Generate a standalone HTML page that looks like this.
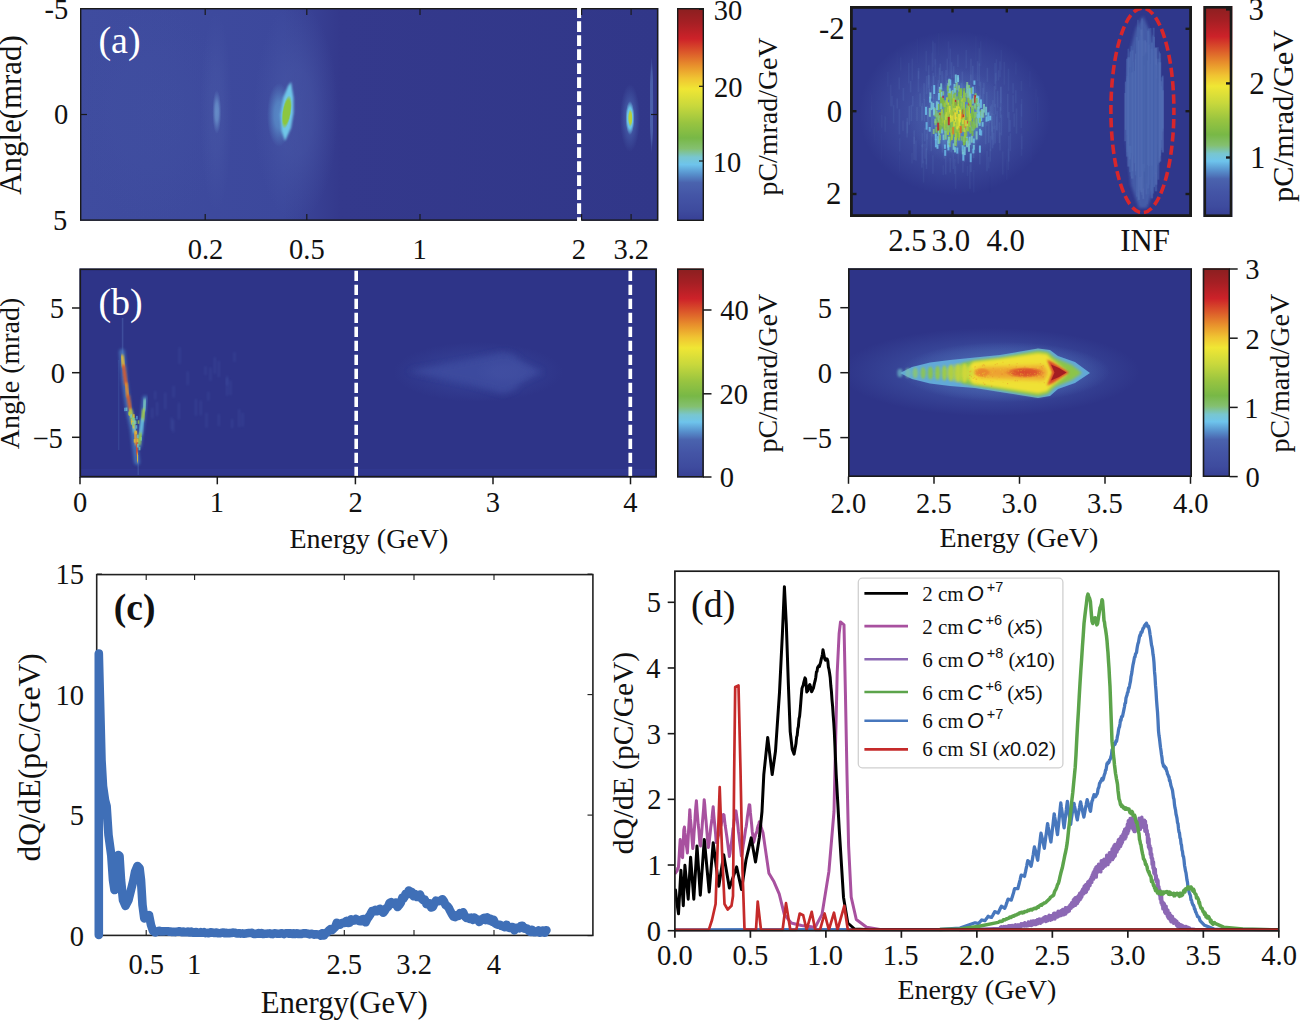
<!DOCTYPE html><html><head><meta charset="utf-8"><style>html,body{margin:0;padding:0;background:#fff;}svg{display:block;}</style></head><body>
<svg width="1300" height="1021" viewBox="0 0 1300 1021" style="font-family:'Liberation Serif',serif">
<defs>
<linearGradient id="jet" x1="0" y1="1" x2="0" y2="0"><stop offset="0.0" stop-color="#373f94"/><stop offset="0.05" stop-color="#3e4b9e"/><stop offset="0.12" stop-color="#4455a6"/><stop offset="0.18" stop-color="#4a63ae"/><stop offset="0.22" stop-color="#5790cc"/><stop offset="0.265" stop-color="#6ec4ec"/><stop offset="0.3" stop-color="#78c6d0"/><stop offset="0.34" stop-color="#84c070"/><stop offset="0.39" stop-color="#78b846"/><stop offset="0.46" stop-color="#98c440"/><stop offset="0.54" stop-color="#c8d83c"/><stop offset="0.62" stop-color="#f0e634"/><stop offset="0.67" stop-color="#f0c432"/><stop offset="0.73" stop-color="#e8902c"/><stop offset="0.79" stop-color="#dc5a2a"/><stop offset="0.855" stop-color="#cd2229"/><stop offset="0.93" stop-color="#a61f24"/><stop offset="1.0" stop-color="#8a1f20"/></linearGradient>
<filter id="b0_8" x="-50%" y="-50%" width="200%" height="200%"><feGaussianBlur stdDeviation="0.8"/></filter>
<filter id="b1" x="-50%" y="-50%" width="200%" height="200%"><feGaussianBlur stdDeviation="1"/></filter>
<filter id="b1_5" x="-50%" y="-50%" width="200%" height="200%"><feGaussianBlur stdDeviation="1.5"/></filter>
<filter id="b2" x="-50%" y="-50%" width="200%" height="200%"><feGaussianBlur stdDeviation="2"/></filter>
<filter id="b3" x="-50%" y="-50%" width="200%" height="200%"><feGaussianBlur stdDeviation="3"/></filter>
<filter id="b4" x="-50%" y="-50%" width="200%" height="200%"><feGaussianBlur stdDeviation="4"/></filter>
<filter id="b6" x="-50%" y="-50%" width="200%" height="200%"><feGaussianBlur stdDeviation="6"/></filter>
<filter id="b8" x="-50%" y="-50%" width="200%" height="200%"><feGaussianBlur stdDeviation="8"/></filter>
<linearGradient id="bgA" x1="0" y1="0" x2="1" y2="0"><stop offset="0" stop-color="#3f4c9f"/><stop offset="0.35" stop-color="#3c489c"/><stop offset="0.45" stop-color="#34398c"/><stop offset="1" stop-color="#313789"/></linearGradient>
<clipPath id="clipA"><rect x="80" y="8" width="578.3" height="212.8"/></clipPath>
<clipPath id="clipAR"><rect x="850" y="6" width="342" height="211"/></clipPath>
<clipPath id="clipB"><rect x="79.5" y="268.5" width="577.4" height="209"/></clipPath>
<clipPath id="clipBR"><rect x="848" y="268.3" width="344" height="208.7"/></clipPath>
<clipPath id="clipD"><rect x="674.5" y="570.5" width="604.5" height="361"/></clipPath>
</defs>
<rect width="1300" height="1021" fill="#fff"/>
<rect x="80" y="8" width="578.3" height="212.8" fill="url(#bgA)"/>
<g clip-path="url(#clipA)">
<radialGradient id="g1"><stop offset="0" stop-color="#4a5aa8" stop-opacity="0.550"/><stop offset="0.4" stop-color="#4a5aa8" stop-opacity="0.468"/><stop offset="0.7" stop-color="#4a5aa8" stop-opacity="0.220"/><stop offset="1" stop-color="#4a5aa8" stop-opacity="0.000"/></radialGradient><ellipse cx="296.0" cy="112.0" rx="42.0" ry="110.0" fill="url(#g1)"/>
<radialGradient id="g2"><stop offset="0" stop-color="#4a5aa8" stop-opacity="0.450"/><stop offset="0.4" stop-color="#4a5aa8" stop-opacity="0.383"/><stop offset="0.7" stop-color="#4a5aa8" stop-opacity="0.180"/><stop offset="1" stop-color="#4a5aa8" stop-opacity="0.000"/></radialGradient><ellipse cx="216.0" cy="112.0" rx="16.0" ry="100.0" fill="url(#g2)"/>
<radialGradient id="g3"><stop offset="0" stop-color="#4252a2" stop-opacity="0.350"/><stop offset="0.4" stop-color="#4252a2" stop-opacity="0.297"/><stop offset="0.7" stop-color="#4252a2" stop-opacity="0.140"/><stop offset="1" stop-color="#4252a2" stop-opacity="0.000"/></radialGradient><ellipse cx="150.0" cy="112.0" rx="80.0" ry="110.0" fill="url(#g3)"/>
<radialGradient id="g4"><stop offset="0" stop-color="#6a93cc" stop-opacity="0.900"/><stop offset="0.4" stop-color="#6a93cc" stop-opacity="0.765"/><stop offset="0.7" stop-color="#6a93cc" stop-opacity="0.360"/><stop offset="1" stop-color="#6a93cc" stop-opacity="0.000"/></radialGradient><ellipse cx="216.8" cy="112.0" rx="4.5" ry="22.0" fill="url(#g4)"/>
<radialGradient id="g5"><stop offset="0" stop-color="#5e9bd2" stop-opacity="0.750"/><stop offset="0.4" stop-color="#5e9bd2" stop-opacity="0.637"/><stop offset="0.7" stop-color="#5e9bd2" stop-opacity="0.300"/><stop offset="1" stop-color="#5e9bd2" stop-opacity="0.000"/></radialGradient><ellipse cx="279.0" cy="115.0" rx="12.0" ry="32.0" fill="url(#g5)"/>
<polygon points="291.0,82.0 293.5,98.0 293.5,113.0 291.0,128.0 285.0,141.0 281.5,131.0 280.5,115.0 283.0,98.0 288.0,86.0" fill="#70c6e8" filter="url(#b1)"/>
<radialGradient id="g6"><stop offset="0" stop-color="#8cc640" stop-opacity="1.000"/><stop offset="0.7" stop-color="#8cc640" stop-opacity="1.000"/><stop offset="1" stop-color="#8cc640" stop-opacity="0.000"/></radialGradient><ellipse cx="286.7" cy="112.0" rx="4.6" ry="17.0" fill="url(#g6)" transform="rotate(9 286.7 112.0)"/>
<radialGradient id="g7"><stop offset="0" stop-color="#4a66b0" stop-opacity="0.800"/><stop offset="0.4" stop-color="#4a66b0" stop-opacity="0.680"/><stop offset="0.7" stop-color="#4a66b0" stop-opacity="0.320"/><stop offset="1" stop-color="#4a66b0" stop-opacity="0.000"/></radialGradient><ellipse cx="630.0" cy="118.0" rx="10.0" ry="34.0" fill="url(#g7)"/>
<radialGradient id="g8"><stop offset="0" stop-color="#6cc2e6" stop-opacity="1.000"/><stop offset="0.6" stop-color="#6cc2e6" stop-opacity="1.000"/><stop offset="1" stop-color="#6cc2e6" stop-opacity="0.000"/></radialGradient><ellipse cx="630.0" cy="118.0" rx="4.5" ry="17.0" fill="url(#g8)"/>
<radialGradient id="g9"><stop offset="0" stop-color="#b7d23c" stop-opacity="1.000"/><stop offset="0.6" stop-color="#b7d23c" stop-opacity="1.000"/><stop offset="1" stop-color="#b7d23c" stop-opacity="0.000"/></radialGradient><ellipse cx="630.3" cy="118.0" rx="2.4" ry="9.0" fill="url(#g9)"/>
<radialGradient id="g10"><stop offset="0" stop-color="#4e66b0" stop-opacity="0.900"/><stop offset="0.7" stop-color="#4e66b0" stop-opacity="0.810"/><stop offset="1" stop-color="#4e66b0" stop-opacity="0.000"/></radialGradient><ellipse cx="651.6" cy="105.0" rx="2.0" ry="48.0" fill="url(#g10)"/>
</g>
<rect x="80.70" y="8.70" width="576.90" height="211.40" fill="none" stroke="#1a1a1a" stroke-width="1.4"/>
<line x1="579.10" y1="7.20" x2="579.10" y2="221.20" stroke="#fff" stroke-width="4.1" stroke-dasharray="10.9 3.1"/>
<line x1="81.00" y1="114.50" x2="87.00" y2="114.50" stroke="#1a1a1a" stroke-width="1.2" />
<line x1="657.00" y1="114.50" x2="651.00" y2="114.50" stroke="#1a1a1a" stroke-width="1.2" />
<line x1="205.20" y1="9.00" x2="205.20" y2="15.00" stroke="#1a1a1a" stroke-width="1.2" />
<line x1="205.20" y1="220.00" x2="205.20" y2="214.00" stroke="#1a1a1a" stroke-width="1.2" />
<line x1="306.80" y1="9.00" x2="306.80" y2="15.00" stroke="#1a1a1a" stroke-width="1.2" />
<line x1="306.80" y1="220.00" x2="306.80" y2="214.00" stroke="#1a1a1a" stroke-width="1.2" />
<line x1="420.00" y1="9.00" x2="420.00" y2="15.00" stroke="#1a1a1a" stroke-width="1.2" />
<line x1="420.00" y1="220.00" x2="420.00" y2="214.00" stroke="#1a1a1a" stroke-width="1.2" />
<line x1="581.60" y1="9.00" x2="581.60" y2="15.00" stroke="#1a1a1a" stroke-width="1.2" />
<line x1="581.60" y1="220.00" x2="581.60" y2="214.00" stroke="#1a1a1a" stroke-width="1.2" />
<line x1="631.10" y1="9.00" x2="631.10" y2="15.00" stroke="#1a1a1a" stroke-width="1.2" />
<line x1="631.10" y1="220.00" x2="631.10" y2="214.00" stroke="#1a1a1a" stroke-width="1.2" />
<text x="44.57" y="18.60" font-size="28.5" text-anchor="start" fill="#111" >-5</text>
<text x="53.94" y="124.30" font-size="28.5" text-anchor="start" fill="#111" >0</text>
<text x="53.06" y="230.00" font-size="28.5" text-anchor="start" fill="#111" >5</text>
<text x="187.63" y="258.50" font-size="28.5" text-anchor="start" fill="#111" >0.2</text>
<text x="289.00" y="258.50" font-size="28.5" text-anchor="start" fill="#111" >0.5</text>
<text x="412.48" y="258.50" font-size="28.5" text-anchor="start" fill="#111" >1</text>
<text x="571.84" y="258.50" font-size="28.5" text-anchor="start" fill="#111" >2</text>
<text x="613.39" y="258.50" font-size="28.5" text-anchor="start" fill="#111" >3.2</text>
<text x="21.50" y="194.80" font-size="30.9" text-anchor="start" fill="#111" transform="rotate(-90 21.50 194.80)" >Angle(mrad)</text>
<text x="98.40" y="52.70" font-size="38" text-anchor="start" fill="#fff" >(a)</text>
<rect x="677" y="8" width="27" height="213" fill="url(#jet)"/>
<rect x="677.70" y="8.70" width="25.60" height="211.60" fill="none" stroke="#1a1a1a" stroke-width="1.4"/>
<line x1="703.00" y1="9.40" x2="699.00" y2="9.40" stroke="#1a1a1a" stroke-width="1.2" />
<line x1="703.00" y1="86.30" x2="699.00" y2="86.30" stroke="#1a1a1a" stroke-width="1.2" />
<line x1="703.00" y1="161.00" x2="699.00" y2="161.00" stroke="#1a1a1a" stroke-width="1.2" />
<text x="713.84" y="20.00" font-size="28.5" text-anchor="start" fill="#111" >30</text>
<text x="713.95" y="96.50" font-size="28.5" text-anchor="start" fill="#111" >20</text>
<text x="712.70" y="171.50" font-size="28.5" text-anchor="start" fill="#111" >10</text>
<text x="777.50" y="195.45" font-size="27.9" text-anchor="start" fill="#111" transform="rotate(-90 777.50 195.45)" >pC/mrad/GeV</text>
<rect x="850" y="6" width="342" height="211" fill="#2f378b"/>
<g clip-path="url(#clipAR)">
<radialGradient id="g11"><stop offset="0" stop-color="#4455a5" stop-opacity="0.950"/><stop offset="0.45" stop-color="#4455a5" stop-opacity="0.760"/><stop offset="0.75" stop-color="#4455a5" stop-opacity="0.380"/><stop offset="1" stop-color="#4455a5" stop-opacity="0.000"/></radialGradient><ellipse cx="955.0" cy="113.0" rx="96.0" ry="82.0" fill="url(#g11)"/>
<radialGradient id="g12"><stop offset="0" stop-color="#4b63ae" stop-opacity="0.900"/><stop offset="0.5" stop-color="#4b63ae" stop-opacity="0.630"/><stop offset="1" stop-color="#4b63ae" stop-opacity="0.000"/></radialGradient><ellipse cx="957.0" cy="116.0" rx="48.0" ry="48.0" fill="url(#g12)"/>
<rect x="986.2" y="151.1" width="1.6" height="20.2" fill="#5a78bb" opacity="0.19"/>
<rect x="927.3" y="108.2" width="1.6" height="22.7" fill="#5a78bb" opacity="0.32"/>
<rect x="972.0" y="65.8" width="1.6" height="18.1" fill="#5a78bb" opacity="0.25"/>
<rect x="955.3" y="107.8" width="1.6" height="15.9" fill="#5a78bb" opacity="0.35"/>
<rect x="942.0" y="98.2" width="1.6" height="22.7" fill="#5a78bb" opacity="0.34"/>
<rect x="958.2" y="130.3" width="1.6" height="10.7" fill="#5a78bb" opacity="0.31"/>
<rect x="1020.5" y="104.1" width="1.6" height="24.0" fill="#5a78bb" opacity="0.16"/>
<rect x="947.1" y="98.9" width="1.6" height="15.3" fill="#5a78bb" opacity="0.35"/>
<rect x="935.2" y="105.3" width="1.6" height="25.2" fill="#5a78bb" opacity="0.33"/>
<rect x="939.3" y="119.9" width="1.6" height="23.1" fill="#5a78bb" opacity="0.33"/>
<rect x="906.5" y="117.9" width="1.6" height="15.5" fill="#5a78bb" opacity="0.24"/>
<rect x="929.4" y="107.2" width="1.6" height="10.6" fill="#5a78bb" opacity="0.32"/>
<rect x="974.5" y="85.9" width="1.6" height="22.5" fill="#5a78bb" opacity="0.31"/>
<rect x="1007.7" y="68.7" width="1.6" height="22.2" fill="#5a78bb" opacity="0.15"/>
<rect x="898.4" y="77.5" width="1.6" height="12.0" fill="#5a78bb" opacity="0.17"/>
<rect x="880.9" y="114.7" width="1.6" height="13.2" fill="#5a78bb" opacity="0.11"/>
<rect x="1029.1" y="71.0" width="1.6" height="16.6" fill="#5a78bb" opacity="0.05"/>
<rect x="926.0" y="133.7" width="1.6" height="16.2" fill="#5a78bb" opacity="0.27"/>
<rect x="994.5" y="103.9" width="1.6" height="10.4" fill="#5a78bb" opacity="0.28"/>
<rect x="1008.0" y="135.8" width="1.6" height="25.9" fill="#5a78bb" opacity="0.17"/>
<rect x="908.5" y="106.0" width="1.6" height="18.8" fill="#5a78bb" opacity="0.26"/>
<rect x="954.7" y="80.2" width="1.6" height="19.7" fill="#5a78bb" opacity="0.31"/>
<rect x="902.6" y="88.0" width="1.6" height="12.9" fill="#5a78bb" opacity="0.21"/>
<rect x="972.8" y="133.4" width="1.6" height="24.8" fill="#5a78bb" opacity="0.29"/>
<rect x="924.2" y="143.8" width="1.6" height="14.9" fill="#5a78bb" opacity="0.22"/>
<rect x="966.7" y="112.8" width="1.6" height="23.0" fill="#5a78bb" opacity="0.34"/>
<rect x="961.6" y="71.6" width="1.6" height="20.9" fill="#5a78bb" opacity="0.28"/>
<rect x="916.6" y="38.1" width="1.6" height="25.3" fill="#5a78bb" opacity="0.03"/>
<rect x="1006.9" y="93.8" width="1.6" height="24.1" fill="#5a78bb" opacity="0.23"/>
<rect x="916.2" y="106.9" width="1.6" height="14.0" fill="#5a78bb" opacity="0.28"/>
<rect x="972.0" y="90.4" width="1.6" height="11.1" fill="#5a78bb" opacity="0.33"/>
<rect x="978.5" y="48.2" width="1.6" height="17.7" fill="#5a78bb" opacity="0.14"/>
<rect x="961.8" y="95.2" width="1.6" height="14.1" fill="#5a78bb" opacity="0.34"/>
<rect x="944.7" y="140.4" width="1.6" height="12.7" fill="#5a78bb" opacity="0.27"/>
<rect x="987.9" y="118.4" width="1.6" height="24.4" fill="#5a78bb" opacity="0.29"/>
<rect x="1020.8" y="99.0" width="1.6" height="17.7" fill="#5a78bb" opacity="0.16"/>
<rect x="891.2" y="95.9" width="1.6" height="10.5" fill="#5a78bb" opacity="0.17"/>
<rect x="973.0" y="169.9" width="1.6" height="22.7" fill="#5a78bb" opacity="0.09"/>
<rect x="994.9" y="72.8" width="1.6" height="16.8" fill="#5a78bb" opacity="0.22"/>
<rect x="887.1" y="71.8" width="1.6" height="14.9" fill="#5a78bb" opacity="0.09"/>
<rect x="923.6" y="99.0" width="1.6" height="22.3" fill="#5a78bb" opacity="0.31"/>
<rect x="1015.7" y="108.4" width="1.6" height="25.3" fill="#5a78bb" opacity="0.19"/>
<rect x="1008.1" y="111.9" width="1.6" height="20.3" fill="#5a78bb" opacity="0.23"/>
<rect x="986.6" y="67.8" width="1.6" height="14.1" fill="#5a78bb" opacity="0.23"/>
<rect x="972.8" y="94.5" width="1.6" height="11.5" fill="#5a78bb" opacity="0.33"/>
<rect x="962.5" y="109.4" width="1.6" height="17.1" fill="#5a78bb" opacity="0.35"/>
<rect x="1005.9" y="159.4" width="1.6" height="20.5" fill="#5a78bb" opacity="0.07"/>
<rect x="989.8" y="136.1" width="1.6" height="15.2" fill="#5a78bb" opacity="0.24"/>
<rect x="926.9" y="105.9" width="1.6" height="12.7" fill="#5a78bb" opacity="0.32"/>
<rect x="970.7" y="136.2" width="1.6" height="21.4" fill="#5a78bb" opacity="0.28"/>
<rect x="943.3" y="101.7" width="1.6" height="21.4" fill="#5a78bb" opacity="0.34"/>
<rect x="1003.5" y="62.0" width="1.6" height="22.7" fill="#5a78bb" opacity="0.14"/>
<rect x="999.6" y="106.9" width="1.6" height="11.0" fill="#5a78bb" opacity="0.26"/>
<rect x="957.2" y="83.4" width="1.6" height="21.4" fill="#5a78bb" opacity="0.32"/>
<rect x="953.9" y="159.1" width="1.6" height="15.0" fill="#5a78bb" opacity="0.18"/>
<rect x="993.3" y="114.0" width="1.6" height="15.0" fill="#5a78bb" opacity="0.28"/>
<rect x="982.2" y="87.9" width="1.6" height="18.0" fill="#5a78bb" opacity="0.30"/>
<rect x="999.2" y="132.5" width="1.6" height="18.1" fill="#5a78bb" opacity="0.22"/>
<rect x="932.1" y="155.4" width="1.6" height="18.4" fill="#5a78bb" opacity="0.18"/>
<rect x="941.5" y="100.3" width="1.6" height="23.0" fill="#5a78bb" opacity="0.34"/>
<rect x="992.1" y="100.2" width="1.6" height="15.1" fill="#5a78bb" opacity="0.29"/>
<rect x="974.1" y="104.3" width="1.6" height="11.2" fill="#5a78bb" opacity="0.33"/>
<rect x="1020.7" y="133.6" width="1.6" height="22.2" fill="#5a78bb" opacity="0.12"/>
<rect x="902.2" y="120.6" width="1.6" height="10.3" fill="#5a78bb" opacity="0.22"/>
<rect x="928.4" y="75.1" width="1.6" height="18.3" fill="#5a78bb" opacity="0.27"/>
<rect x="923.9" y="127.7" width="1.6" height="13.6" fill="#5a78bb" opacity="0.28"/>
<rect x="995.7" y="116.3" width="1.6" height="14.0" fill="#5a78bb" opacity="0.27"/>
<rect x="934.1" y="43.1" width="1.6" height="21.6" fill="#5a78bb" opacity="0.11"/>
<rect x="926.7" y="112.0" width="1.6" height="16.2" fill="#5a78bb" opacity="0.31"/>
<rect x="898.6" y="109.1" width="1.6" height="25.4" fill="#5a78bb" opacity="0.21"/>
<rect x="994.3" y="125.5" width="1.6" height="17.9" fill="#5a78bb" opacity="0.26"/>
<rect x="937.8" y="32.9" width="1.6" height="22.5" fill="#5a78bb" opacity="0.04"/>
<rect x="907.9" y="62.8" width="1.6" height="20.7" fill="#5a78bb" opacity="0.15"/>
<rect x="994.2" y="63.0" width="1.6" height="20.9" fill="#5a78bb" opacity="0.18"/>
<rect x="913.3" y="136.7" width="1.6" height="23.2" fill="#5a78bb" opacity="0.22"/>
<rect x="989.6" y="106.2" width="1.6" height="15.0" fill="#5a78bb" opacity="0.30"/>
<rect x="937.6" y="117.4" width="1.6" height="18.9" fill="#5a78bb" opacity="0.33"/>
<rect x="984.8" y="119.2" width="1.6" height="25.1" fill="#5a78bb" opacity="0.30"/>
<rect x="952.9" y="66.1" width="1.6" height="11.7" fill="#5a78bb" opacity="0.26"/>
<rect x="1015.0" y="90.1" width="1.6" height="13.3" fill="#5a78bb" opacity="0.18"/>
<rect x="925.7" y="148.1" width="1.6" height="20.9" fill="#5a78bb" opacity="0.21"/>
<rect x="941.6" y="129.1" width="1.6" height="23.5" fill="#5a78bb" opacity="0.31"/>
<rect x="989.5" y="148.5" width="1.6" height="13.2" fill="#5a78bb" opacity="0.19"/>
<rect x="928.7" y="88.7" width="1.6" height="16.1" fill="#5a78bb" opacity="0.30"/>
<rect x="996.8" y="90.7" width="1.6" height="17.0" fill="#5a78bb" opacity="0.26"/>
<rect x="930.9" y="85.9" width="1.6" height="12.8" fill="#5a78bb" opacity="0.30"/>
<rect x="931.1" y="123.5" width="1.6" height="13.0" fill="#5a78bb" opacity="0.31"/>
<rect x="965.3" y="102.7" width="1.6" height="23.0" fill="#5a78bb" opacity="0.35"/>
<rect x="1012.3" y="83.2" width="1.6" height="10.3" fill="#5a78bb" opacity="0.18"/>
<rect x="943.7" y="104.9" width="1.6" height="19.7" fill="#5a78bb" opacity="0.34"/>
<rect x="945.9" y="80.3" width="1.6" height="10.1" fill="#5a78bb" opacity="0.31"/>
<rect x="937.9" y="100.7" width="1.6" height="14.9" fill="#5a78bb" opacity="0.34"/>
<rect x="873.7" y="126.1" width="1.6" height="15.9" fill="#5a78bb" opacity="0.04"/>
<rect x="1001.9" y="151.5" width="1.6" height="23.2" fill="#5a78bb" opacity="0.13"/>
<rect x="942.5" y="103.0" width="1.6" height="13.0" fill="#5a78bb" opacity="0.34"/>
<rect x="913.4" y="130.4" width="1.6" height="13.6" fill="#5a78bb" opacity="0.24"/>
<rect x="979.9" y="41.2" width="1.6" height="24.8" fill="#5a78bb" opacity="0.09"/>
<rect x="960.6" y="100.6" width="1.6" height="19.3" fill="#5a78bb" opacity="0.35"/>
<rect x="1030.1" y="141.3" width="1.6" height="22.0" fill="#5a78bb" opacity="0.03"/>
<rect x="956.5" y="82.4" width="1.6" height="11.0" fill="#5a78bb" opacity="0.32"/>
<rect x="976.8" y="61.2" width="1.6" height="19.9" fill="#5a78bb" opacity="0.22"/>
<rect x="884.4" y="116.3" width="1.6" height="15.4" fill="#5a78bb" opacity="0.13"/>
<rect x="950.4" y="137.4" width="1.6" height="14.8" fill="#5a78bb" opacity="0.29"/>
<rect x="896.3" y="52.3" width="1.6" height="11.1" fill="#5a78bb" opacity="0.04"/>
<rect x="998.6" y="122.3" width="1.6" height="20.8" fill="#5a78bb" opacity="0.25"/>
<rect x="966.7" y="130.8" width="1.6" height="10.9" fill="#5a78bb" opacity="0.31"/>
<rect x="1000.5" y="114.5" width="1.6" height="20.9" fill="#5a78bb" opacity="0.26"/>
<rect x="941.6" y="88.1" width="1.6" height="11.7" fill="#5a78bb" opacity="0.33"/>
<rect x="1000.1" y="86.7" width="1.6" height="16.5" fill="#5a78bb" opacity="0.24"/>
<rect x="931.6" y="52.4" width="1.6" height="18.4" fill="#5a78bb" opacity="0.17"/>
<rect x="1021.1" y="136.0" width="1.6" height="13.4" fill="#5a78bb" opacity="0.11"/>
<rect x="991.1" y="113.2" width="1.6" height="18.5" fill="#5a78bb" opacity="0.29"/>
<rect x="937.9" y="89.4" width="1.6" height="21.4" fill="#5a78bb" opacity="0.32"/>
<rect x="931.2" y="105.8" width="1.6" height="23.6" fill="#5a78bb" opacity="0.33"/>
<rect x="985.4" y="33.6" width="1.6" height="20.9" fill="#5a78bb" opacity="0.02"/>
<rect x="969.1" y="164.4" width="1.6" height="24.4" fill="#5a78bb" opacity="0.14"/>
<rect x="869.4" y="89.1" width="1.6" height="25.5" fill="#5a78bb" opacity="0.02"/>
<rect x="1020.6" y="80.9" width="1.6" height="10.2" fill="#5a78bb" opacity="0.13"/>
<rect x="922.0" y="143.7" width="1.6" height="19.7" fill="#5a78bb" opacity="0.22"/>
<rect x="957.1" y="54.5" width="1.6" height="12.6" fill="#5a78bb" opacity="0.20"/>
<rect x="1000.0" y="86.7" width="1.6" height="24.1" fill="#5a78bb" opacity="0.24"/>
<rect x="889.9" y="84.6" width="1.6" height="21.8" fill="#5a78bb" opacity="0.14"/>
<rect x="983.1" y="82.7" width="1.6" height="11.3" fill="#5a78bb" opacity="0.29"/>
<rect x="934.2" y="117.3" width="1.6" height="18.6" fill="#5a78bb" opacity="0.32"/>
<rect x="970.1" y="74.5" width="1.6" height="12.1" fill="#5a78bb" opacity="0.29"/>
<rect x="996.3" y="111.2" width="1.6" height="19.3" fill="#5a78bb" opacity="0.27"/>
<rect x="1013.4" y="113.5" width="1.6" height="13.4" fill="#5a78bb" opacity="0.20"/>
<rect x="870.9" y="94.3" width="1.6" height="18.2" fill="#5a78bb" opacity="0.04"/>
<rect x="976.2" y="123.1" width="1.6" height="16.8" fill="#5a78bb" opacity="0.31"/>
<rect x="911.5" y="58.5" width="1.6" height="22.0" fill="#5a78bb" opacity="0.14"/>
<rect x="937.2" y="83.3" width="1.6" height="16.9" fill="#5a78bb" opacity="0.31"/>
<rect x="921.6" y="133.1" width="1.6" height="14.2" fill="#5a78bb" opacity="0.26"/>
<rect x="911.9" y="95.9" width="1.6" height="10.6" fill="#5a78bb" opacity="0.27"/>
<rect x="978.5" y="63.3" width="1.6" height="22.8" fill="#5a78bb" opacity="0.23"/>
<rect x="949.5" y="48.5" width="1.6" height="25.9" fill="#5a78bb" opacity="0.17"/>
<rect x="926.4" y="129.5" width="1.6" height="10.1" fill="#5a78bb" opacity="0.28"/>
<rect x="927.9" y="65.3" width="1.6" height="19.2" fill="#5a78bb" opacity="0.23"/>
<rect x="981.5" y="104.7" width="1.6" height="13.6" fill="#5a78bb" opacity="0.32"/>
<rect x="947.7" y="41.3" width="1.6" height="17.7" fill="#5a78bb" opacity="0.11"/>
<rect x="991.2" y="116.4" width="1.6" height="23.2" fill="#5a78bb" opacity="0.29"/>
<rect x="910.5" y="105.0" width="1.6" height="16.2" fill="#5a78bb" opacity="0.26"/>
<rect x="917.6" y="70.8" width="1.6" height="21.1" fill="#5a78bb" opacity="0.22"/>
<rect x="999.2" y="61.3" width="1.6" height="16.0" fill="#5a78bb" opacity="0.16"/>
<rect x="954.8" y="166.1" width="1.6" height="22.7" fill="#5a78bb" opacity="0.14"/>
<rect x="979.0" y="94.8" width="1.6" height="23.6" fill="#5a78bb" opacity="0.32"/>
<rect x="967.4" y="96.1" width="1.6" height="14.9" fill="#5a78bb" opacity="0.34"/>
<rect x="940.0" y="90.4" width="1.6" height="23.3" fill="#5a78bb" opacity="0.33"/>
<rect x="949.4" y="157.8" width="1.6" height="14.7" fill="#5a78bb" opacity="0.19"/>
<rect x="960.4" y="128.4" width="1.6" height="18.0" fill="#5a78bb" opacity="0.32"/>
<rect x="948.5" y="81.1" width="1.6" height="21.0" fill="#5a78bb" opacity="0.32"/>
<rect x="925.5" y="148.6" width="1.6" height="15.9" fill="#5a78bb" opacity="0.20"/>
<rect x="962.7" y="123.1" width="1.6" height="10.9" fill="#5a78bb" opacity="0.33"/>
<rect x="941.3" y="70.9" width="1.6" height="12.0" fill="#5a78bb" opacity="0.27"/>
<rect x="997.7" y="70.2" width="1.6" height="10.3" fill="#5a78bb" opacity="0.20"/>
<rect x="946.5" y="58.6" width="1.6" height="17.1" fill="#5a78bb" opacity="0.22"/>
<rect x="915.1" y="140.4" width="1.6" height="20.2" fill="#5a78bb" opacity="0.21"/>
<rect x="930.5" y="129.1" width="1.6" height="22.1" fill="#5a78bb" opacity="0.29"/>
<rect x="925.9" y="75.9" width="1.6" height="18.2" fill="#5a78bb" opacity="0.26"/>
<rect x="966.7" y="165.9" width="1.6" height="10.3" fill="#5a78bb" opacity="0.13"/>
<rect x="927.6" y="74.8" width="1.6" height="13.5" fill="#5a78bb" opacity="0.27"/>
<rect x="909.8" y="81.0" width="1.6" height="11.4" fill="#5a78bb" opacity="0.23"/>
<rect x="931.0" y="106.3" width="1.6" height="22.8" fill="#5a78bb" opacity="0.33"/>
<rect x="938.4" y="132.6" width="1.6" height="13.4" fill="#5a78bb" opacity="0.29"/>
<rect x="979.5" y="111.7" width="1.6" height="12.4" fill="#5a78bb" opacity="0.32"/>
<rect x="899.9" y="57.3" width="1.6" height="13.5" fill="#5a78bb" opacity="0.09"/>
<rect x="992.8" y="133.0" width="1.6" height="11.8" fill="#5a78bb" opacity="0.24"/>
<rect x="899.0" y="138.2" width="1.6" height="13.3" fill="#5a78bb" opacity="0.15"/>
<rect x="939.5" y="63.6" width="1.6" height="11.4" fill="#5a78bb" opacity="0.24"/>
<rect x="957.5" y="152.3" width="1.6" height="11.5" fill="#5a78bb" opacity="0.22"/>
<rect x="970.1" y="149.0" width="1.6" height="23.1" fill="#5a78bb" opacity="0.23"/>
<rect x="896.4" y="98.4" width="1.6" height="10.1" fill="#5a78bb" opacity="0.20"/>
<rect x="943.6" y="134.0" width="1.6" height="24.6" fill="#5a78bb" opacity="0.30"/>
<rect x="911.2" y="152.9" width="1.6" height="10.5" fill="#5a78bb" opacity="0.14"/>
<rect x="870.7" y="105.7" width="1.6" height="22.3" fill="#5a78bb" opacity="0.04"/>
<rect x="932.7" y="94.3" width="1.6" height="24.8" fill="#5a78bb" opacity="0.32"/>
<rect x="965.5" y="49.9" width="1.6" height="18.5" fill="#5a78bb" opacity="0.17"/>
<rect x="973.8" y="132.4" width="1.6" height="20.6" fill="#5a78bb" opacity="0.29"/>
<rect x="932.9" y="76.1" width="1.6" height="22.8" fill="#5a78bb" opacity="0.28"/>
<rect x="986.1" y="114.5" width="1.6" height="11.4" fill="#5a78bb" opacity="0.30"/>
<rect x="922.8" y="160.4" width="1.6" height="22.1" fill="#5a78bb" opacity="0.13"/>
<rect x="975.3" y="129.2" width="1.6" height="11.8" fill="#5a78bb" opacity="0.30"/>
<rect x="932.3" y="72.8" width="1.6" height="13.7" fill="#5a78bb" opacity="0.27"/>
<rect x="898.7" y="154.8" width="1.6" height="16.8" fill="#5a78bb" opacity="0.07"/>
<rect x="934.6" y="59.2" width="1.6" height="17.6" fill="#5a78bb" opacity="0.21"/>
<rect x="919.3" y="93.4" width="1.6" height="13.2" fill="#5a78bb" opacity="0.29"/>
<rect x="920.9" y="106.0" width="1.6" height="15.3" fill="#5a78bb" opacity="0.30"/>
<rect x="989.3" y="176.3" width="1.6" height="16.8" fill="#5a78bb" opacity="0.01"/>
<rect x="958.1" y="113.5" width="1.6" height="13.4" fill="#5a78bb" opacity="0.35"/>
<rect x="979.6" y="81.7" width="1.6" height="20.7" fill="#5a78bb" opacity="0.29"/>
<rect x="962.1" y="155.4" width="1.6" height="17.2" fill="#5a78bb" opacity="0.20"/>
<rect x="950.8" y="62.2" width="1.6" height="16.0" fill="#5a78bb" opacity="0.24"/>
<rect x="944.9" y="151.2" width="1.6" height="23.3" fill="#5a78bb" opacity="0.22"/>
<rect x="938.6" y="67.6" width="1.6" height="15.3" fill="#5a78bb" opacity="0.26"/>
<rect x="1015.1" y="62.3" width="1.6" height="12.3" fill="#5a78bb" opacity="0.09"/>
<rect x="925.4" y="50.7" width="1.6" height="20.8" fill="#5a78bb" opacity="0.14"/>
<rect x="1035.2" y="89.0" width="1.6" height="13.9" fill="#5a78bb" opacity="0.06"/>
<rect x="990.6" y="104.4" width="1.6" height="16.1" fill="#5a78bb" opacity="0.30"/>
<rect x="978.9" y="101.9" width="1.6" height="16.3" fill="#5a78bb" opacity="0.32"/>
<rect x="932.5" y="85.1" width="1.6" height="14.3" fill="#5a78bb" opacity="0.31"/>
<rect x="970.1" y="58.7" width="1.6" height="21.9" fill="#5a78bb" opacity="0.22"/>
<rect x="975.1" y="36.2" width="1.6" height="24.3" fill="#5a78bb" opacity="0.06"/>
<rect x="892.8" y="105.2" width="1.6" height="18.2" fill="#5a78bb" opacity="0.18"/>
<rect x="1012.3" y="95.2" width="1.6" height="16.9" fill="#5a78bb" opacity="0.20"/>
<rect x="937.8" y="79.9" width="1.6" height="12.1" fill="#5a78bb" opacity="0.30"/>
<rect x="938.6" y="117.4" width="1.6" height="10.1" fill="#5a78bb" opacity="0.33"/>
<rect x="991.8" y="126.2" width="1.6" height="22.2" fill="#5a78bb" opacity="0.27"/>
<rect x="1009.3" y="119.9" width="1.6" height="11.8" fill="#5a78bb" opacity="0.21"/>
<rect x="921.6" y="103.1" width="1.6" height="17.1" fill="#5a78bb" opacity="0.30"/>
<rect x="945.2" y="69.9" width="1.6" height="16.3" fill="#5a78bb" opacity="0.27"/>
<rect x="952.3" y="87.8" width="1.6" height="15.6" fill="#5a78bb" opacity="0.33"/>
<rect x="932.4" y="41.6" width="1.6" height="25.7" fill="#5a78bb" opacity="0.10"/>
<rect x="952.5" y="154.0" width="1.6" height="15.0" fill="#5a78bb" opacity="0.21"/>
<rect x="931.9" y="40.4" width="1.6" height="12.2" fill="#5a78bb" opacity="0.09"/>
<rect x="921.1" y="144.6" width="1.6" height="23.1" fill="#5a78bb" opacity="0.21"/>
<rect x="942.5" y="165.2" width="1.6" height="10.1" fill="#5a78bb" opacity="0.13"/>
<rect x="942.0" y="122.8" width="1.6" height="15.5" fill="#5a78bb" opacity="0.32"/>
<rect x="957.1" y="112.7" width="1.6" height="22.9" fill="#5a78bb" opacity="0.35"/>
<rect x="979.1" y="145.5" width="1.6" height="18.9" fill="#5a78bb" opacity="0.23"/>
<rect x="1000.4" y="50.0" width="1.6" height="19.9" fill="#5a78bb" opacity="0.09"/>
<rect x="988.0" y="156.7" width="1.6" height="11.6" fill="#5a78bb" opacity="0.15"/>
<rect x="985.9" y="92.0" width="1.6" height="14.0" fill="#5a78bb" opacity="0.30"/>
<rect x="963.4" y="139.4" width="1.6" height="22.7" fill="#5a78bb" opacity="0.28"/>
<rect x="995.6" y="59.2" width="1.6" height="21.7" fill="#5a78bb" opacity="0.16"/>
<rect x="956.3" y="135.8" width="1.6" height="14.9" fill="#5a78bb" opacity="0.30"/>
<rect x="880.6" y="134.0" width="1.6" height="25.9" fill="#5a78bb" opacity="0.06"/>
<rect x="993.7" y="85.9" width="1.6" height="21.1" fill="#5a78bb" opacity="0.26"/>
<rect x="960.5" y="83.0" width="1.6" height="19.9" fill="#5a78bb" opacity="0.32"/>
<rect x="1036.9" y="96.7" width="1.6" height="24.6" fill="#5a78bb" opacity="0.06"/>
<rect x="1009.6" y="133.1" width="1.6" height="17.8" fill="#5a78bb" opacity="0.18"/>
<rect x="975.3" y="93.6" width="1.6" height="18.8" fill="#5a78bb" opacity="0.32"/>
<rect x="1007.5" y="148.5" width="1.6" height="21.6" fill="#5a78bb" opacity="0.12"/>
<rect x="988.8" y="110.9" width="1.6" height="12.3" fill="#5a78bb" opacity="0.30"/>
<rect x="917.8" y="67.9" width="1.6" height="11.0" fill="#5a78bb" opacity="0.21"/>
<rect x="906.3" y="121.7" width="1.6" height="15.8" fill="#5a78bb" opacity="0.23"/>
<rect x="923.3" y="83.2" width="1.6" height="17.1" fill="#5a78bb" opacity="0.28"/>
<rect x="955.0" y="82.5" width="1.6" height="14.8" fill="#5a78bb" opacity="0.32"/>
<rect x="957.4" y="80.1" width="1.6" height="11.1" fill="#5a78bb" opacity="0.31"/>
<rect x="975.0" y="94.1" width="1.6" height="16.6" fill="#5a78bb" opacity="0.33"/>
<rect x="942.9" y="130.1" width="1.6" height="15.6" fill="#5a78bb" opacity="0.31"/>
<rect x="935.7" y="101.0" width="1.6" height="18.5" fill="#5a78bb" opacity="0.33"/>
<rect x="970.4" y="109.5" width="1.6" height="13.2" fill="#5a78bb" opacity="0.34"/>
<radialGradient id="g13"><stop offset="0" stop-color="#5c9ad2" stop-opacity="0.850"/><stop offset="0.6" stop-color="#5c9ad2" stop-opacity="0.510"/><stop offset="1" stop-color="#5c9ad2" stop-opacity="0.000"/></radialGradient><ellipse cx="957.0" cy="117.0" rx="30.0" ry="38.0" fill="url(#g13)"/>
<rect x="952.5" y="121.2" width="2" height="6.7" fill="#c0d53d" opacity="0.85"/>
<rect x="952.9" y="117.1" width="2" height="4.3" fill="#d84c2a" opacity="0.85"/>
<rect x="967.9" y="122.1" width="2" height="5.1" fill="#abcc3e" opacity="0.85"/>
<rect x="933.2" y="85.1" width="2" height="8.9" fill="#6ec4ec" opacity="0.85"/>
<rect x="981.6" y="122.1" width="2" height="4.6" fill="#72c5e1" opacity="0.85"/>
<rect x="947.1" y="140.5" width="2" height="7.2" fill="#74c5db" opacity="0.85"/>
<rect x="944.2" y="127.5" width="2" height="5.0" fill="#7cc4b4" opacity="0.85"/>
<rect x="950.0" y="97.7" width="2" height="6.3" fill="#79b94b" opacity="0.85"/>
<rect x="948.6" y="140.1" width="2" height="6.9" fill="#81be66" opacity="0.85"/>
<rect x="928.8" y="107.9" width="2" height="8.9" fill="#7ac5c3" opacity="0.85"/>
<rect x="966.4" y="124.2" width="2" height="6.4" fill="#a4c93f" opacity="0.85"/>
<rect x="975.4" y="118.8" width="2" height="8.4" fill="#7ab946" opacity="0.85"/>
<rect x="947.9" y="135.7" width="2" height="6.3" fill="#7cbb55" opacity="0.85"/>
<rect x="973.4" y="80.5" width="2" height="4.3" fill="#6ec3eb" opacity="0.85"/>
<rect x="950.2" y="91.0" width="2" height="5.4" fill="#95c341" opacity="0.85"/>
<rect x="940.9" y="128.6" width="2" height="4.8" fill="#75c5d9" opacity="0.85"/>
<rect x="959.5" y="116.7" width="2" height="5.2" fill="#dddf38" opacity="0.85"/>
<rect x="934.8" y="133.5" width="2" height="6.7" fill="#6cbfe9" opacity="0.85"/>
<rect x="974.6" y="93.2" width="2" height="6.1" fill="#81be67" opacity="0.85"/>
<rect x="938.3" y="138.8" width="2" height="4.9" fill="#80c28f" opacity="0.85"/>
<rect x="957.1" y="124.6" width="2" height="5.3" fill="#9ac540" opacity="0.85"/>
<rect x="970.1" y="113.4" width="2" height="8.8" fill="#79b846" opacity="0.85"/>
<rect x="950.1" y="95.1" width="2" height="4.3" fill="#8abf43" opacity="0.85"/>
<rect x="975.0" y="96.6" width="2" height="6.0" fill="#7dbb58" opacity="0.85"/>
<rect x="950.9" y="117.4" width="2" height="4.3" fill="#c3d63c" opacity="0.85"/>
<rect x="958.1" y="122.2" width="2" height="4.0" fill="#8dc042" opacity="0.85"/>
<rect x="959.6" y="119.0" width="2" height="7.1" fill="#b82026" opacity="0.85"/>
<rect x="962.1" y="122.8" width="2" height="4.6" fill="#87be43" opacity="0.85"/>
<rect x="961.4" y="116.8" width="2" height="8.1" fill="#92c241" opacity="0.85"/>
<rect x="957.5" y="115.9" width="2" height="4.7" fill="#f0d333" opacity="0.85"/>
<rect x="953.0" y="112.0" width="2" height="8.3" fill="#b9d23d" opacity="0.85"/>
<rect x="952.5" y="101.3" width="2" height="7.9" fill="#89be43" opacity="0.85"/>
<rect x="933.0" y="107.3" width="2" height="8.1" fill="#79c5c8" opacity="0.85"/>
<rect x="982.3" y="110.0" width="2" height="7.7" fill="#7fc39b" opacity="0.85"/>
<rect x="958.4" y="132.1" width="2" height="5.4" fill="#e9942c" opacity="0.85"/>
<rect x="954.8" y="137.5" width="2" height="8.7" fill="#8abf43" opacity="0.85"/>
<rect x="957.3" y="123.5" width="2" height="8.5" fill="#7ab946" opacity="0.85"/>
<rect x="964.3" y="97.6" width="2" height="4.4" fill="#91c141" opacity="0.85"/>
<rect x="940.2" y="83.3" width="2" height="6.4" fill="#78c6cd" opacity="0.85"/>
<rect x="966.3" y="138.4" width="2" height="8.9" fill="#7bc5ba" opacity="0.85"/>
<rect x="945.1" y="122.9" width="2" height="4.9" fill="#c0d53d" opacity="0.85"/>
<rect x="961.4" y="119.6" width="2" height="4.7" fill="#e5e236" opacity="0.85"/>
<rect x="949.2" y="110.4" width="2" height="7.2" fill="#82bf6a" opacity="0.85"/>
<rect x="925.0" y="106.8" width="2" height="8.1" fill="#6cbfe9" opacity="0.85"/>
<rect x="958.5" y="124.8" width="2" height="6.9" fill="#81bb44" opacity="0.85"/>
<rect x="955.2" y="129.6" width="2" height="5.8" fill="#83bf6b" opacity="0.85"/>
<rect x="938.7" y="118.5" width="2" height="8.6" fill="#93c241" opacity="0.85"/>
<rect x="939.4" y="112.8" width="2" height="4.9" fill="#d84a2a" opacity="0.85"/>
<rect x="980.2" y="113.7" width="2" height="7.6" fill="#73c5df" opacity="0.85"/>
<rect x="944.8" y="108.1" width="2" height="7.9" fill="#92c241" opacity="0.85"/>
<rect x="969.6" y="125.7" width="2" height="7.9" fill="#83c06d" opacity="0.85"/>
<rect x="938.7" y="112.0" width="2" height="6.2" fill="#8abf43" opacity="0.85"/>
<rect x="943.8" y="100.7" width="2" height="6.3" fill="#7fbb45" opacity="0.85"/>
<rect x="940.9" y="109.2" width="2" height="8.4" fill="#adcd3e" opacity="0.85"/>
<rect x="965.8" y="108.6" width="2" height="8.2" fill="#a0c73f" opacity="0.85"/>
<rect x="960.5" y="119.2" width="2" height="5.2" fill="#9fc73f" opacity="0.85"/>
<rect x="974.0" y="123.6" width="2" height="4.8" fill="#7cba45" opacity="0.85"/>
<rect x="951.8" y="90.0" width="2" height="8.8" fill="#7cc4b4" opacity="0.85"/>
<rect x="962.3" y="151.8" width="2" height="8.9" fill="#6bbde8" opacity="0.85"/>
<rect x="960.0" y="104.8" width="2" height="5.7" fill="#99c540" opacity="0.85"/>
<rect x="960.0" y="126.2" width="2" height="6.2" fill="#d33729" opacity="0.85"/>
<rect x="968.0" y="114.6" width="2" height="4.3" fill="#9ec73f" opacity="0.85"/>
<rect x="979.7" y="110.4" width="2" height="5.3" fill="#7dbb58" opacity="0.85"/>
<rect x="978.7" y="119.8" width="2" height="6.1" fill="#77c6d2" opacity="0.85"/>
<rect x="977.2" y="97.4" width="2" height="8.6" fill="#75c5da" opacity="0.85"/>
<rect x="937.1" y="102.3" width="2" height="7.4" fill="#76c6d7" opacity="0.85"/>
<rect x="951.3" y="115.8" width="2" height="8.0" fill="#f0e034" opacity="0.85"/>
<rect x="979.0" y="128.8" width="2" height="6.3" fill="#6cc0ea" opacity="0.85"/>
<rect x="946.9" y="130.2" width="2" height="4.6" fill="#a1c83f" opacity="0.85"/>
<rect x="946.2" y="111.0" width="2" height="4.3" fill="#7fbd5f" opacity="0.85"/>
<rect x="959.5" y="126.2" width="2" height="5.4" fill="#7eba45" opacity="0.85"/>
<rect x="947.5" y="113.0" width="2" height="4.1" fill="#e06c2b" opacity="0.85"/>
<rect x="954.2" y="92.9" width="2" height="8.7" fill="#84c074" opacity="0.85"/>
<rect x="975.6" y="131.3" width="2" height="8.2" fill="#7ac5c1" opacity="0.85"/>
<rect x="943.4" y="124.8" width="2" height="5.7" fill="#8ec042" opacity="0.85"/>
<rect x="966.5" y="91.2" width="2" height="5.7" fill="#7cbb54" opacity="0.85"/>
<rect x="962.7" y="115.8" width="2" height="5.3" fill="#7fbc5d" opacity="0.85"/>
<rect x="958.9" y="118.7" width="2" height="7.4" fill="#e5e236" opacity="0.85"/>
<rect x="954.0" y="124.7" width="2" height="4.8" fill="#82bc44" opacity="0.85"/>
<rect x="946.1" y="117.2" width="2" height="6.7" fill="#d9de39" opacity="0.85"/>
<rect x="969.2" y="113.1" width="2" height="5.0" fill="#87be43" opacity="0.85"/>
<rect x="954.7" y="113.0" width="2" height="6.0" fill="#8ec042" opacity="0.85"/>
<rect x="958.8" y="113.9" width="2" height="6.9" fill="#92c241" opacity="0.85"/>
<rect x="933.9" y="108.1" width="2" height="8.4" fill="#82be68" opacity="0.85"/>
<rect x="946.8" y="122.1" width="2" height="7.6" fill="#d3dc3a" opacity="0.85"/>
<rect x="953.5" y="109.2" width="2" height="7.1" fill="#e9e435" opacity="0.85"/>
<rect x="953.5" y="83.9" width="2" height="6.5" fill="#73c5dd" opacity="0.85"/>
<rect x="968.4" y="88.1" width="2" height="8.5" fill="#7fbd60" opacity="0.85"/>
<rect x="947.5" y="90.6" width="2" height="4.7" fill="#7dc3a5" opacity="0.85"/>
<rect x="951.9" y="118.8" width="2" height="7.1" fill="#e1e137" opacity="0.85"/>
<rect x="941.7" y="95.8" width="2" height="7.7" fill="#c02127" opacity="0.85"/>
<rect x="939.3" y="112.6" width="2" height="7.7" fill="#86bd43" opacity="0.85"/>
<rect x="955.9" y="119.3" width="2" height="5.0" fill="#8abf43" opacity="0.85"/>
<rect x="935.7" y="116.2" width="2" height="7.2" fill="#78b847" opacity="0.85"/>
<rect x="962.7" y="117.2" width="2" height="5.5" fill="#82bc44" opacity="0.85"/>
<rect x="954.1" y="112.0" width="2" height="7.4" fill="#7cbb54" opacity="0.85"/>
<rect x="948.8" y="90.6" width="2" height="6.3" fill="#81c185" opacity="0.85"/>
<rect x="949.4" y="114.7" width="2" height="8.9" fill="#e7e336" opacity="0.85"/>
<rect x="958.3" y="111.8" width="2" height="8.8" fill="#aecd3e" opacity="0.85"/>
<rect x="945.9" y="117.0" width="2" height="5.1" fill="#7ab94d" opacity="0.85"/>
<rect x="949.5" y="108.7" width="2" height="4.7" fill="#aacc3e" opacity="0.85"/>
<rect x="962.9" y="95.7" width="2" height="5.2" fill="#a6ca3f" opacity="0.85"/>
<rect x="968.5" y="101.9" width="2" height="6.3" fill="#d5422a" opacity="0.85"/>
<rect x="953.6" y="121.3" width="2" height="8.2" fill="#8fc142" opacity="0.85"/>
<rect x="978.5" y="113.3" width="2" height="8.6" fill="#7dbb56" opacity="0.85"/>
<rect x="949.3" y="79.5" width="2" height="6.0" fill="#70c4e5" opacity="0.85"/>
<rect x="974.0" y="112.8" width="2" height="5.4" fill="#81be65" opacity="0.85"/>
<rect x="962.0" y="115.2" width="2" height="8.7" fill="#e1e137" opacity="0.85"/>
<rect x="956.0" y="125.6" width="2" height="5.9" fill="#9bc540" opacity="0.85"/>
<rect x="983.0" y="104.0" width="2" height="8.6" fill="#7ac5be" opacity="0.85"/>
<rect x="971.9" y="105.6" width="2" height="7.7" fill="#8abf43" opacity="0.85"/>
<rect x="934.5" y="121.1" width="2" height="4.2" fill="#82bf69" opacity="0.85"/>
<rect x="962.3" y="109.3" width="2" height="5.5" fill="#a3c93f" opacity="0.85"/>
<rect x="950.6" y="132.4" width="2" height="4.8" fill="#7cba52" opacity="0.85"/>
<rect x="963.7" y="146.6" width="2" height="8.5" fill="#74c5db" opacity="0.85"/>
<rect x="970.8" y="112.6" width="2" height="4.5" fill="#83c075" opacity="0.85"/>
<rect x="952.8" y="118.9" width="2" height="6.8" fill="#85bd44" opacity="0.85"/>
<rect x="973.1" y="95.7" width="2" height="6.6" fill="#80c293" opacity="0.85"/>
<rect x="947.2" y="123.2" width="2" height="8.8" fill="#83c076" opacity="0.85"/>
<rect x="967.2" y="126.5" width="2" height="5.1" fill="#8abf43" opacity="0.85"/>
<rect x="954.7" y="125.0" width="2" height="8.8" fill="#8ec042" opacity="0.85"/>
<rect x="971.9" y="86.6" width="2" height="7.5" fill="#6abbe7" opacity="0.85"/>
<rect x="968.1" y="102.0" width="2" height="8.6" fill="#da532a" opacity="0.85"/>
<rect x="968.1" y="85.0" width="2" height="4.5" fill="#82bf69" opacity="0.85"/>
<rect x="965.3" y="129.0" width="2" height="7.6" fill="#8ec042" opacity="0.85"/>
<rect x="942.2" y="91.2" width="2" height="4.2" fill="#81c28a" opacity="0.85"/>
<rect x="958.0" y="101.6" width="2" height="5.5" fill="#dcdf38" opacity="0.85"/>
<rect x="963.1" y="121.8" width="2" height="4.6" fill="#aecd3e" opacity="0.85"/>
<rect x="970.9" y="121.3" width="2" height="5.1" fill="#82bc44" opacity="0.85"/>
<rect x="954.4" y="111.6" width="2" height="8.8" fill="#93c241" opacity="0.85"/>
<rect x="938.8" y="86.8" width="2" height="5.2" fill="#75c5d8" opacity="0.85"/>
<rect x="976.4" y="106.9" width="2" height="6.5" fill="#7ec3a2" opacity="0.85"/>
<rect x="949.6" y="98.1" width="2" height="8.6" fill="#7cbb55" opacity="0.85"/>
<rect x="956.5" y="117.2" width="2" height="7.4" fill="#96c340" opacity="0.85"/>
<rect x="963.7" y="140.1" width="2" height="5.0" fill="#80be63" opacity="0.85"/>
<rect x="967.5" y="110.4" width="2" height="5.1" fill="#bed43d" opacity="0.85"/>
<rect x="956.7" y="99.7" width="2" height="4.9" fill="#d7dd39" opacity="0.85"/>
<rect x="958.3" y="129.4" width="2" height="4.7" fill="#9cc640" opacity="0.85"/>
<rect x="948.7" y="119.9" width="2" height="4.3" fill="#e4e236" opacity="0.85"/>
<rect x="968.5" y="118.9" width="2" height="7.7" fill="#bad23d" opacity="0.85"/>
<rect x="987.3" y="112.4" width="2" height="8.7" fill="#6abae6" opacity="0.85"/>
<rect x="955.9" y="108.9" width="2" height="5.9" fill="#d1db3a" opacity="0.85"/>
<rect x="952.0" y="121.5" width="2" height="5.8" fill="#84c06f" opacity="0.85"/>
<rect x="962.7" y="110.7" width="2" height="5.8" fill="#f0e634" opacity="0.85"/>
<rect x="966.9" y="86.2" width="2" height="6.4" fill="#7bc4b7" opacity="0.85"/>
<rect x="934.9" y="138.8" width="2" height="8.5" fill="#6abbe6" opacity="0.85"/>
<rect x="969.6" y="116.1" width="2" height="4.2" fill="#aacc3e" opacity="0.85"/>
<rect x="960.7" y="114.2" width="2" height="7.7" fill="#f0e234" opacity="0.85"/>
<rect x="965.9" y="104.3" width="2" height="7.1" fill="#79b848" opacity="0.85"/>
<rect x="954.4" y="138.3" width="2" height="4.0" fill="#80c28e" opacity="0.85"/>
<rect x="957.1" y="77.4" width="2" height="4.1" fill="#76c6d7" opacity="0.85"/>
<rect x="957.6" y="131.1" width="2" height="5.9" fill="#b7d13d" opacity="0.85"/>
<rect x="955.9" y="130.0" width="2" height="4.9" fill="#88be43" opacity="0.85"/>
<rect x="963.2" y="88.2" width="2" height="7.0" fill="#78b846" opacity="0.85"/>
<rect x="950.4" y="125.4" width="2" height="4.4" fill="#83bc44" opacity="0.85"/>
<rect x="963.3" y="138.3" width="2" height="4.2" fill="#7bc5bc" opacity="0.85"/>
<rect x="944.7" y="108.4" width="2" height="8.9" fill="#d1db3a" opacity="0.85"/>
<rect x="955.5" y="119.7" width="2" height="7.5" fill="#7bba51" opacity="0.85"/>
<rect x="946.7" y="116.8" width="2" height="7.4" fill="#90c142" opacity="0.85"/>
<rect x="955.7" y="82.0" width="2" height="8.2" fill="#80c28e" opacity="0.85"/>
<rect x="951.3" y="132.9" width="2" height="5.0" fill="#7dbb57" opacity="0.85"/>
<rect x="956.2" y="125.0" width="2" height="6.9" fill="#7cbb53" opacity="0.85"/>
<rect x="949.7" y="127.3" width="2" height="5.2" fill="#cad93c" opacity="0.85"/>
<rect x="963.1" y="91.3" width="2" height="6.4" fill="#93c241" opacity="0.85"/>
<rect x="966.9" y="85.2" width="2" height="5.5" fill="#81be66" opacity="0.85"/>
<rect x="962.4" y="120.1" width="2" height="8.7" fill="#e8e336" opacity="0.85"/>
<rect x="937.2" y="136.1" width="2" height="7.9" fill="#76c6d5" opacity="0.85"/>
<rect x="962.0" y="110.5" width="2" height="5.1" fill="#bbd33d" opacity="0.85"/>
<rect x="950.9" y="119.5" width="2" height="7.0" fill="#7dba45" opacity="0.85"/>
<rect x="950.7" y="104.2" width="2" height="7.4" fill="#84c071" opacity="0.85"/>
<rect x="960.6" y="125.7" width="2" height="6.7" fill="#7bba51" opacity="0.85"/>
<rect x="961.8" y="115.9" width="2" height="7.2" fill="#99c440" opacity="0.85"/>
<rect x="962.8" y="118.2" width="2" height="5.4" fill="#c4d63c" opacity="0.85"/>
<rect x="944.2" y="150.0" width="2" height="5.8" fill="#68b7e4" opacity="0.85"/>
<rect x="932.7" y="129.0" width="2" height="5.0" fill="#83c17b" opacity="0.85"/>
<rect x="954.7" y="102.3" width="2" height="6.1" fill="#84c073" opacity="0.85"/>
<rect x="961.9" y="98.2" width="2" height="4.8" fill="#bad23d" opacity="0.85"/>
<rect x="973.0" y="114.9" width="2" height="4.4" fill="#82bc44" opacity="0.85"/>
<rect x="946.6" y="102.3" width="2" height="5.4" fill="#8dc042" opacity="0.85"/>
<rect x="968.0" y="105.9" width="2" height="8.1" fill="#bcd33d" opacity="0.85"/>
<rect x="968.7" y="136.7" width="2" height="8.2" fill="#77c6d3" opacity="0.85"/>
<rect x="960.1" y="104.1" width="2" height="6.6" fill="#7cba45" opacity="0.85"/>
<rect x="950.9" y="118.5" width="2" height="8.5" fill="#83bc44" opacity="0.85"/>
<rect x="972.8" y="118.3" width="2" height="8.2" fill="#8abf43" opacity="0.85"/>
<rect x="969.5" y="127.6" width="2" height="5.5" fill="#78b848" opacity="0.85"/>
<rect x="940.4" y="123.2" width="2" height="6.2" fill="#7dbb58" opacity="0.85"/>
<rect x="953.3" y="114.3" width="2" height="5.2" fill="#cad93c" opacity="0.85"/>
<rect x="958.0" y="85.3" width="2" height="6.4" fill="#81c28a" opacity="0.85"/>
<rect x="961.5" y="118.2" width="2" height="6.2" fill="#9cc640" opacity="0.85"/>
<rect x="952.1" y="112.7" width="2" height="7.7" fill="#cbd93b" opacity="0.85"/>
<rect x="958.8" y="94.1" width="2" height="5.9" fill="#7dc3a6" opacity="0.85"/>
<rect x="963.0" y="110.4" width="2" height="7.7" fill="#dfe037" opacity="0.85"/>
<rect x="959.5" y="103.4" width="2" height="8.8" fill="#eae435" opacity="0.85"/>
<rect x="963.0" y="108.2" width="2" height="4.3" fill="#d2db3a" opacity="0.85"/>
<rect x="942.6" y="134.7" width="2" height="5.4" fill="#76c6d5" opacity="0.85"/>
<rect x="959.0" y="104.8" width="2" height="5.0" fill="#a7ca3f" opacity="0.85"/>
<rect x="954.7" y="131.9" width="2" height="4.9" fill="#7cbb55" opacity="0.85"/>
<rect x="972.8" y="144.9" width="2" height="4.8" fill="#72c5e0" opacity="0.85"/>
<rect x="957.5" y="105.3" width="2" height="5.8" fill="#b0ce3e" opacity="0.85"/>
<rect x="968.0" y="98.4" width="2" height="4.5" fill="#7fbb45" opacity="0.85"/>
<rect x="975.0" y="112.0" width="2" height="5.3" fill="#82bf68" opacity="0.85"/>
<rect x="973.7" y="111.7" width="2" height="6.2" fill="#80bd63" opacity="0.85"/>
<rect x="965.9" y="136.7" width="2" height="5.3" fill="#73c5dd" opacity="0.85"/>
<rect x="955.7" y="113.9" width="2" height="7.1" fill="#7ebc5b" opacity="0.85"/>
<rect x="941.3" y="120.9" width="2" height="5.1" fill="#a1c83f" opacity="0.85"/>
<rect x="954.4" y="110.2" width="2" height="4.5" fill="#81be64" opacity="0.85"/>
<rect x="950.0" y="121.9" width="2" height="5.0" fill="#aacc3e" opacity="0.85"/>
<rect x="945.1" y="100.2" width="2" height="5.2" fill="#83c17a" opacity="0.85"/>
<rect x="959.6" y="118.8" width="2" height="7.9" fill="#c5d73c" opacity="0.85"/>
<rect x="947.4" y="120.2" width="2" height="6.8" fill="#82c181" opacity="0.85"/>
<rect x="944.5" y="131.6" width="2" height="7.7" fill="#7fbd5f" opacity="0.85"/>
<rect x="956.3" y="147.6" width="2" height="6.0" fill="#69b8e5" opacity="0.85"/>
<rect x="956.4" y="118.5" width="2" height="8.7" fill="#d33729" opacity="0.85"/>
<rect x="961.6" y="121.3" width="2" height="7.2" fill="#b1cf3e" opacity="0.85"/>
<rect x="959.2" y="103.9" width="2" height="4.2" fill="#88be43" opacity="0.85"/>
<rect x="974.1" y="95.1" width="2" height="7.7" fill="#bb2127" opacity="0.85"/>
<rect x="934.3" y="118.7" width="2" height="4.5" fill="#80c28c" opacity="0.85"/>
<rect x="956.4" y="117.5" width="2" height="7.5" fill="#96c340" opacity="0.85"/>
<rect x="968.0" y="92.2" width="2" height="6.2" fill="#7dc3a5" opacity="0.85"/>
<rect x="959.9" y="94.1" width="2" height="8.8" fill="#80bd61" opacity="0.85"/>
<rect x="961.7" y="145.2" width="2" height="5.2" fill="#6abbe6" opacity="0.85"/>
<rect x="954.8" y="74.5" width="2" height="8.4" fill="#73c5df" opacity="0.85"/>
<rect x="951.3" y="123.4" width="2" height="7.5" fill="#d9de39" opacity="0.85"/>
<rect x="947.4" y="83.1" width="2" height="6.9" fill="#78c6d0" opacity="0.85"/>
<rect x="952.7" y="123.3" width="2" height="8.6" fill="#b3cf3e" opacity="0.85"/>
<rect x="957.9" y="115.9" width="2" height="5.7" fill="#79b94a" opacity="0.85"/>
<rect x="958.0" y="116.0" width="2" height="7.2" fill="#7ebc5b" opacity="0.85"/>
<rect x="948.8" y="88.3" width="2" height="5.8" fill="#74c5da" opacity="0.85"/>
<rect x="966.3" y="86.0" width="2" height="8.3" fill="#7fbd5f" opacity="0.85"/>
<rect x="958.7" y="115.7" width="2" height="7.2" fill="#ece535" opacity="0.85"/>
<rect x="964.7" y="92.9" width="2" height="4.5" fill="#84c071" opacity="0.85"/>
<rect x="956.4" y="102.2" width="2" height="4.1" fill="#88be43" opacity="0.85"/>
<rect x="955.5" y="126.0" width="2" height="5.6" fill="#b8d13d" opacity="0.85"/>
<rect x="971.6" y="108.8" width="2" height="4.2" fill="#9dc640" opacity="0.85"/>
<rect x="943.7" y="121.9" width="2" height="7.5" fill="#a2c83f" opacity="0.85"/>
<rect x="946.8" y="110.4" width="2" height="8.1" fill="#d4dc3a" opacity="0.85"/>
<rect x="956.3" y="113.7" width="2" height="8.9" fill="#85bd44" opacity="0.85"/>
<rect x="971.7" y="113.5" width="2" height="4.9" fill="#7dba45" opacity="0.85"/>
<rect x="943.5" y="113.5" width="2" height="8.7" fill="#b9d23d" opacity="0.85"/>
<rect x="954.0" y="123.9" width="2" height="4.5" fill="#bfd43d" opacity="0.85"/>
<rect x="952.4" y="108.0" width="2" height="7.9" fill="#dddf38" opacity="0.85"/>
<rect x="947.2" y="102.2" width="2" height="8.5" fill="#84bc44" opacity="0.85"/>
<rect x="980.2" y="130.3" width="2" height="5.3" fill="#67b5e3" opacity="0.85"/>
<rect x="969.0" y="102.0" width="2" height="5.2" fill="#7bba4f" opacity="0.85"/>
<rect x="939.9" y="117.8" width="2" height="7.2" fill="#8fc142" opacity="0.85"/>
<rect x="949.0" y="124.6" width="2" height="7.3" fill="#7fbc5d" opacity="0.85"/>
<rect x="955.6" y="103.3" width="2" height="6.9" fill="#9ac540" opacity="0.85"/>
<rect x="966.6" y="125.7" width="2" height="5.0" fill="#adcd3e" opacity="0.85"/>
<rect x="949.3" y="136.6" width="2" height="4.8" fill="#80bb45" opacity="0.85"/>
<rect x="956.2" y="127.2" width="2" height="5.6" fill="#95c340" opacity="0.85"/>
<rect x="969.7" y="153.4" width="2" height="8.8" fill="#69b9e5" opacity="0.85"/>
<rect x="966.7" y="122.4" width="2" height="7.7" fill="#c9d83c" opacity="0.85"/>
<rect x="947.8" y="117.2" width="2" height="5.0" fill="#b5d03e" opacity="0.85"/>
<rect x="953.3" y="115.7" width="2" height="7.5" fill="#a1c83f" opacity="0.85"/>
<rect x="936.9" y="112.9" width="2" height="7.0" fill="#7fbd60" opacity="0.85"/>
<rect x="937.7" y="127.8" width="2" height="6.9" fill="#78b847" opacity="0.85"/>
<rect x="955.9" y="96.3" width="2" height="8.4" fill="#7dbc59" opacity="0.85"/>
<rect x="959.2" y="88.5" width="2" height="7.2" fill="#82bc44" opacity="0.85"/>
<rect x="944.8" y="117.0" width="2" height="6.1" fill="#a2c83f" opacity="0.85"/>
<rect x="960.3" y="88.2" width="2" height="6.1" fill="#7cbb54" opacity="0.85"/>
<rect x="937.9" y="119.2" width="2" height="8.7" fill="#81be64" opacity="0.85"/>
<rect x="964.0" y="134.3" width="2" height="6.4" fill="#83bc44" opacity="0.85"/>
<rect x="959.7" y="112.3" width="2" height="7.9" fill="#bbd23d" opacity="0.85"/>
<rect x="971.2" y="105.9" width="2" height="6.7" fill="#7ec39e" opacity="0.85"/>
<rect x="952.7" y="94.2" width="2" height="6.6" fill="#8dc042" opacity="0.85"/>
<rect x="938.1" y="130.0" width="2" height="5.8" fill="#74c5db" opacity="0.85"/>
<rect x="966.1" y="117.5" width="2" height="6.1" fill="#d94e2a" opacity="0.85"/>
<rect x="952.0" y="98.9" width="2" height="7.7" fill="#79b949" opacity="0.85"/>
<rect x="971.4" y="105.8" width="2" height="6.0" fill="#84c06f" opacity="0.85"/>
<rect x="957.7" y="121.2" width="2" height="7.2" fill="#d6dd39" opacity="0.85"/>
<rect x="939.0" y="117.0" width="2" height="5.8" fill="#83c17a" opacity="0.85"/>
<rect x="940.0" y="90.4" width="2" height="5.5" fill="#82bf69" opacity="0.85"/>
<rect x="949.3" y="110.5" width="2" height="8.3" fill="#dddf38" opacity="0.85"/>
<rect x="954.6" y="128.4" width="2" height="4.9" fill="#7aba4e" opacity="0.85"/>
<rect x="977.6" y="113.4" width="2" height="5.5" fill="#7bc4b5" opacity="0.85"/>
<rect x="941.8" y="115.2" width="2" height="5.8" fill="#92c241" opacity="0.85"/>
<rect x="979.9" y="99.4" width="2" height="8.5" fill="#6cbfe9" opacity="0.85"/>
<rect x="957.6" y="104.4" width="2" height="4.1" fill="#dddf38" opacity="0.85"/>
<rect x="989.2" y="115.8" width="2" height="4.5" fill="#6cbfe9" opacity="0.85"/>
<rect x="962.1" y="122.1" width="2" height="4.8" fill="#c7d83c" opacity="0.85"/>
<rect x="975.7" y="96.9" width="2" height="7.0" fill="#74c5dc" opacity="0.85"/>
<rect x="959.9" y="89.7" width="2" height="8.2" fill="#8abf43" opacity="0.85"/>
<rect x="962.7" y="136.3" width="2" height="6.2" fill="#7ebc5c" opacity="0.85"/>
<rect x="968.7" y="99.3" width="2" height="4.7" fill="#82bf6a" opacity="0.85"/>
<rect x="951.3" y="113.2" width="2" height="6.5" fill="#aacc3e" opacity="0.85"/>
<rect x="939.2" y="113.2" width="2" height="6.3" fill="#bc2127" opacity="0.85"/>
<rect x="937.5" y="103.9" width="2" height="6.1" fill="#80bb44" opacity="0.85"/>
<rect x="961.2" y="111.4" width="2" height="4.1" fill="#c7d73c" opacity="0.85"/>
<rect x="940.2" y="97.6" width="2" height="8.9" fill="#85bd44" opacity="0.85"/>
<rect x="940.5" y="111.8" width="2" height="7.6" fill="#a6ca3f" opacity="0.85"/>
<rect x="947.3" y="102.7" width="2" height="6.4" fill="#c2d53d" opacity="0.85"/>
<rect x="933.1" y="108.6" width="2" height="6.1" fill="#76c6d6" opacity="0.85"/>
<rect x="932.2" y="103.0" width="2" height="6.0" fill="#74c5da" opacity="0.85"/>
<rect x="945.3" y="112.7" width="2" height="7.3" fill="#96c340" opacity="0.85"/>
<rect x="959.2" y="99.2" width="2" height="6.9" fill="#7eba45" opacity="0.85"/>
<rect x="940.3" y="92.0" width="2" height="8.4" fill="#71c5e5" opacity="0.85"/>
<rect x="951.9" y="111.6" width="2" height="8.6" fill="#e2772b" opacity="0.85"/>
<rect x="940.7" y="98.2" width="2" height="7.1" fill="#80bb45" opacity="0.85"/>
<rect x="941.9" y="98.0" width="2" height="7.4" fill="#7eba45" opacity="0.85"/>
<rect x="960.7" y="136.1" width="2" height="4.5" fill="#7fbd5f" opacity="0.85"/>
<rect x="957.6" y="117.0" width="2" height="7.3" fill="#e1e137" opacity="0.85"/>
<rect x="938.9" y="134.8" width="2" height="5.3" fill="#83c06e" opacity="0.85"/>
<rect x="951.5" y="128.9" width="2" height="7.2" fill="#79b949" opacity="0.85"/>
<rect x="960.1" y="110.8" width="2" height="8.1" fill="#e5842c" opacity="0.85"/>
<rect x="929.1" y="96.7" width="2" height="5.9" fill="#6fc4e8" opacity="0.85"/>
<rect x="929.4" y="92.4" width="2" height="6.1" fill="#75c5da" opacity="0.85"/>
<rect x="971.6" y="126.8" width="2" height="4.1" fill="#7ec39e" opacity="0.85"/>
<rect x="976.5" y="113.7" width="2" height="4.4" fill="#77c6d2" opacity="0.85"/>
<rect x="960.8" y="106.9" width="2" height="5.2" fill="#82bf69" opacity="0.85"/>
<rect x="955.1" y="102.7" width="2" height="7.6" fill="#81be65" opacity="0.85"/>
<rect x="969.4" y="92.6" width="2" height="7.5" fill="#75c5d9" opacity="0.85"/>
<rect x="925.6" y="122.1" width="2" height="7.6" fill="#68b6e4" opacity="0.85"/>
<rect x="958.3" y="113.2" width="2" height="4.4" fill="#d0db3a" opacity="0.85"/>
<rect x="947.8" y="137.0" width="2" height="6.4" fill="#79c6cb" opacity="0.85"/>
<rect x="968.0" y="118.6" width="2" height="7.4" fill="#94c241" opacity="0.85"/>
<rect x="970.8" y="135.6" width="2" height="7.1" fill="#7bc5bc" opacity="0.85"/>
<rect x="944.4" y="120.8" width="2" height="7.9" fill="#adcd3e" opacity="0.85"/>
<rect x="945.7" y="107.6" width="2" height="7.5" fill="#84c06f" opacity="0.85"/>
<rect x="961.7" y="100.3" width="2" height="8.2" fill="#9fc73f" opacity="0.85"/>
<rect x="946.7" y="104.8" width="2" height="5.9" fill="#8bbf43" opacity="0.85"/>
<rect x="948.7" y="93.1" width="2" height="5.4" fill="#95c341" opacity="0.85"/>
<rect x="966.5" y="113.1" width="2" height="8.1" fill="#8dc042" opacity="0.85"/>
<rect x="959.0" y="109.9" width="2" height="8.3" fill="#e9e435" opacity="0.85"/>
<rect x="946.3" y="107.4" width="2" height="7.4" fill="#cad93c" opacity="0.85"/>
<rect x="966.7" y="105.4" width="2" height="8.0" fill="#84c06f" opacity="0.85"/>
<rect x="962.9" y="138.4" width="2" height="7.0" fill="#7cba45" opacity="0.85"/>
<rect x="949.4" y="96.9" width="2" height="7.8" fill="#81be64" opacity="0.85"/>
<rect x="959.9" y="95.9" width="2" height="7.9" fill="#81c186" opacity="0.85"/>
<rect x="957.9" y="133.9" width="2" height="6.6" fill="#9ac540" opacity="0.85"/>
<rect x="938.2" y="116.1" width="2" height="4.9" fill="#7fc295" opacity="0.85"/>
<rect x="952.1" y="98.5" width="2" height="6.6" fill="#96c340" opacity="0.85"/>
<rect x="958.4" y="116.9" width="2" height="4.5" fill="#f0ce33" opacity="0.85"/>
<rect x="940.0" y="92.1" width="2" height="5.7" fill="#74c5db" opacity="0.85"/>
<rect x="953.3" y="112.6" width="2" height="8.3" fill="#7ebc5c" opacity="0.85"/>
<rect x="938.6" y="114.8" width="2" height="6.1" fill="#84c06f" opacity="0.85"/>
<rect x="977.8" y="104.0" width="2" height="5.3" fill="#7ebc5c" opacity="0.85"/>
<rect x="964.8" y="115.5" width="2" height="4.3" fill="#79b94b" opacity="0.85"/>
<rect x="930.5" y="101.6" width="2" height="8.5" fill="#75c5da" opacity="0.85"/>
<rect x="972.8" y="121.5" width="2" height="8.8" fill="#7fbd60" opacity="0.85"/>
<rect x="955.2" y="133.6" width="2" height="7.3" fill="#86bd43" opacity="0.85"/>
<rect x="944.5" y="123.9" width="2" height="9.0" fill="#83bf6c" opacity="0.85"/>
<rect x="956.7" y="117.4" width="2" height="8.5" fill="#8abf43" opacity="0.85"/>
<rect x="977.2" y="95.8" width="2" height="7.5" fill="#6ec3eb" opacity="0.85"/>
<rect x="957.0" y="75.1" width="2" height="7.0" fill="#73c5df" opacity="0.85"/>
<rect x="956.3" y="105.5" width="2" height="4.6" fill="#8fc142" opacity="0.85"/>
<rect x="947.9" y="114.1" width="2" height="7.4" fill="#7fbb45" opacity="0.85"/>
<rect x="977.4" y="115.0" width="2" height="8.6" fill="#78c6cd" opacity="0.85"/>
<rect x="961.8" y="149.7" width="2" height="4.7" fill="#77c6d4" opacity="0.85"/>
<rect x="950.2" y="115.4" width="2" height="7.1" fill="#efe634" opacity="0.85"/>
<rect x="944.2" y="117.3" width="2" height="7.1" fill="#b9d23d" opacity="0.85"/>
<rect x="962.0" y="121.9" width="2" height="6.8" fill="#82be68" opacity="0.85"/>
<rect x="972.8" y="138.5" width="2" height="4.8" fill="#72c5e2" opacity="0.85"/>
<rect x="952.6" y="143.3" width="2" height="6.5" fill="#77c6d2" opacity="0.85"/>
<rect x="943.9" y="144.5" width="2" height="4.3" fill="#6bbde8" opacity="0.85"/>
<rect x="971.8" y="98.4" width="2" height="5.4" fill="#7dc4a9" opacity="0.85"/>
<rect x="955.6" y="123.7" width="2" height="9.0" fill="#8ec042" opacity="0.85"/>
<rect x="961.5" y="109.7" width="2" height="4.3" fill="#8bbf42" opacity="0.85"/>
<rect x="954.3" y="99.8" width="2" height="5.7" fill="#bf2127" opacity="0.85"/>
<rect x="956.5" y="113.8" width="2" height="4.9" fill="#eee534" opacity="0.85"/>
<rect x="928.7" y="127.0" width="2" height="4.7" fill="#6bbce7" opacity="0.85"/>
<rect x="965.8" y="137.8" width="2" height="4.4" fill="#7fbd5e" opacity="0.85"/>
<rect x="971.8" y="124.4" width="2" height="5.0" fill="#7cbb53" opacity="0.85"/>
<rect x="939.9" y="96.7" width="2" height="5.0" fill="#79b846" opacity="0.85"/>
<rect x="976.1" y="123.4" width="2" height="4.3" fill="#80c291" opacity="0.85"/>
<rect x="960.5" y="99.6" width="2" height="6.5" fill="#c2d53d" opacity="0.85"/>
<rect x="985.5" y="116.4" width="2" height="5.3" fill="#70c4e6" opacity="0.85"/>
<rect x="966.0" y="140.8" width="2" height="5.9" fill="#78c6cd" opacity="0.85"/>
<rect x="954.9" y="112.1" width="2" height="6.6" fill="#bbd23d" opacity="0.85"/>
<rect x="971.5" y="130.4" width="2" height="5.6" fill="#78b846" opacity="0.85"/>
<rect x="952.8" y="97.8" width="2" height="8.4" fill="#adcd3e" opacity="0.85"/>
<rect x="971.1" y="107.7" width="2" height="6.7" fill="#7fbb45" opacity="0.85"/>
<rect x="964.2" y="120.3" width="2" height="7.5" fill="#e6882c" opacity="0.85"/>
<rect x="956.9" y="115.8" width="2" height="6.6" fill="#c8d83c" opacity="0.85"/>
<rect x="954.2" y="105.9" width="2" height="4.2" fill="#e7e336" opacity="0.85"/>
<rect x="967.3" y="126.0" width="2" height="4.6" fill="#80bb45" opacity="0.85"/>
<rect x="949.9" y="117.9" width="2" height="4.7" fill="#b7d13d" opacity="0.85"/>
<rect x="935.9" y="101.3" width="2" height="8.7" fill="#76c6d6" opacity="0.85"/>
<rect x="945.2" y="123.8" width="2" height="6.0" fill="#afcd3e" opacity="0.85"/>
<rect x="977.8" y="103.0" width="2" height="5.7" fill="#7ac5c2" opacity="0.85"/>
<rect x="966.4" y="84.5" width="2" height="8.8" fill="#6ec4eb" opacity="0.85"/>
<rect x="965.4" y="108.1" width="2" height="5.8" fill="#8fc142" opacity="0.85"/>
<rect x="951.0" y="111.8" width="2" height="4.1" fill="#a3c93f" opacity="0.85"/>
<rect x="978.9" y="145.5" width="2" height="7.2" fill="#6bbde8" opacity="0.85"/>
<rect x="966.2" y="82.0" width="2" height="7.2" fill="#80c291" opacity="0.85"/>
<rect x="954.0" y="137.0" width="2" height="8.6" fill="#81c28a" opacity="0.85"/>
<rect x="948.6" y="104.6" width="2" height="8.8" fill="#9cc640" opacity="0.85"/>
<rect x="953.3" y="126.3" width="2" height="7.0" fill="#aacb3f" opacity="0.85"/>
<rect x="971.6" y="107.8" width="2" height="6.7" fill="#81be65" opacity="0.85"/>
<rect x="960.1" y="119.6" width="2" height="6.0" fill="#7ab94d" opacity="0.85"/>
<rect x="953.6" y="124.6" width="2" height="8.2" fill="#80bd62" opacity="0.85"/>
<rect x="942.5" y="99.8" width="2" height="7.6" fill="#83bc44" opacity="0.85"/>
<rect x="939.5" y="117.9" width="2" height="5.6" fill="#81bb44" opacity="0.85"/>
<rect x="956.5" y="124.3" width="2" height="6.9" fill="#a0c73f" opacity="0.85"/>
<rect x="968.6" y="114.1" width="2" height="6.8" fill="#bcd33d" opacity="0.85"/>
<rect x="945.0" y="113.7" width="2" height="7.9" fill="#d8de39" opacity="0.85"/>
<rect x="958.7" y="118.0" width="2" height="4.3" fill="#ece535" opacity="0.85"/>
<rect x="944.9" y="124.2" width="2" height="5.1" fill="#9dc640" opacity="0.85"/>
<rect x="977.4" y="106.4" width="2" height="5.8" fill="#76c6d6" opacity="0.85"/>
<rect x="947.6" y="93.2" width="2" height="6.6" fill="#8ec042" opacity="0.85"/>
<rect x="954.4" y="86.7" width="2" height="7.9" fill="#7ab94e" opacity="0.85"/>
<rect x="948.3" y="78.7" width="2" height="4.0" fill="#6abbe7" opacity="0.85"/>
<rect x="957.8" y="91.9" width="2" height="6.9" fill="#78b847" opacity="0.85"/>
<rect x="935.4" y="126.8" width="2" height="5.9" fill="#7ebc5b" opacity="0.85"/>
<rect x="941.7" y="118.2" width="2" height="6.0" fill="#97c440" opacity="0.85"/>
<rect x="943.5" y="107.6" width="2" height="8.2" fill="#78b847" opacity="0.85"/>
<rect x="941.4" y="113.0" width="2" height="4.7" fill="#82bf69" opacity="0.85"/>
<rect x="940.1" y="103.4" width="2" height="5.6" fill="#7bc5b9" opacity="0.85"/>
<rect x="970.3" y="87.6" width="2" height="6.1" fill="#80be63" opacity="0.85"/>
<rect x="957.7" y="111.8" width="2" height="6.5" fill="#7dbb58" opacity="0.85"/>
<rect x="976.4" y="99.8" width="2" height="6.6" fill="#81c186" opacity="0.85"/>
<rect x="935.6" y="110.4" width="2" height="7.0" fill="#82c17c" opacity="0.85"/>
<rect x="936.5" y="144.3" width="2" height="4.5" fill="#70c4e7" opacity="0.85"/>
<rect x="946.4" y="124.5" width="2" height="8.4" fill="#90c142" opacity="0.85"/>
<rect x="971.2" y="108.9" width="2" height="9.0" fill="#79b846" opacity="0.85"/>
<rect x="946.8" y="129.4" width="2" height="5.6" fill="#99c440" opacity="0.85"/>
<rect x="981.0" y="109.0" width="2" height="8.5" fill="#7ac5be" opacity="0.85"/>
<rect x="946.8" y="85.4" width="2" height="6.1" fill="#7dbb56" opacity="0.85"/>
<rect x="962.2" y="124.0" width="2" height="4.9" fill="#97c440" opacity="0.85"/>
<rect x="963.8" y="133.6" width="2" height="9.0" fill="#79b946" opacity="0.85"/>
<rect x="953.4" y="109.4" width="2" height="5.5" fill="#a2c83f" opacity="0.85"/>
<rect x="955.6" y="111.7" width="2" height="6.9" fill="#94c241" opacity="0.85"/>
<rect x="951.6" y="103.8" width="2" height="5.3" fill="#a0c73f" opacity="0.85"/>
<rect x="946.0" y="97.3" width="2" height="6.1" fill="#adcd3e" opacity="0.85"/>
<rect x="961.7" y="119.5" width="2" height="4.5" fill="#cfdb3b" opacity="0.85"/>
<rect x="963.9" y="130.1" width="2" height="8.0" fill="#9cc540" opacity="0.85"/>
<rect x="958.0" y="114.0" width="2" height="7.6" fill="#e3e237" opacity="0.85"/>
<rect x="951.0" y="120.7" width="2" height="8.5" fill="#83bc44" opacity="0.85"/>
<rect x="945.1" y="105.7" width="2" height="4.3" fill="#89be43" opacity="0.85"/>
<rect x="969.8" y="99.6" width="2" height="7.1" fill="#9ac540" opacity="0.85"/>
<rect x="956.0" y="117.8" width="2" height="5.6" fill="#f0db33" opacity="0.85"/>
<rect x="976.0" y="95.5" width="2" height="8.8" fill="#76c6d5" opacity="0.85"/>
<rect x="954.1" y="101.9" width="2" height="6.4" fill="#85bd44" opacity="0.85"/>
<rect x="958.7" y="101.5" width="2" height="4.9" fill="#7bba4f" opacity="0.85"/>
<rect x="967.0" y="110.6" width="2" height="6.7" fill="#9bc540" opacity="0.85"/>
<rect x="945.7" y="123.7" width="2" height="8.1" fill="#81c187" opacity="0.85"/>
<rect x="950.0" y="122.6" width="2" height="5.2" fill="#7ab94c" opacity="0.85"/>
<rect x="975.5" y="118.1" width="2" height="7.5" fill="#82c180" opacity="0.85"/>
<rect x="964.9" y="120.0" width="2" height="6.2" fill="#c9d83c" opacity="0.85"/>
<rect x="968.6" y="88.2" width="2" height="7.6" fill="#74c5dc" opacity="0.85"/>
<rect x="946.3" y="112.7" width="2" height="7.5" fill="#94c341" opacity="0.85"/>
<rect x="954.0" y="147.2" width="2" height="5.2" fill="#77c6d2" opacity="0.85"/>
<rect x="948.7" y="106.0" width="2" height="6.6" fill="#d7dd39" opacity="0.85"/>
<rect x="945.7" y="109.6" width="2" height="7.3" fill="#bed43d" opacity="0.85"/>
<rect x="945.4" y="107.3" width="2" height="4.9" fill="#86bd43" opacity="0.85"/>
<rect x="963.0" y="101.7" width="2" height="6.8" fill="#a8cb3f" opacity="0.85"/>
<rect x="945.7" y="127.4" width="2" height="5.6" fill="#7ebc5b" opacity="0.85"/>
<rect x="957.0" y="121.2" width="2" height="6.0" fill="#ceda3b" opacity="0.85"/>
<rect x="975.6" y="98.0" width="2" height="4.7" fill="#7dbb56" opacity="0.85"/>
<rect x="955.5" y="116.9" width="2" height="5.8" fill="#d3dc3a" opacity="0.85"/>
<rect x="939.1" y="125.3" width="2" height="8.2" fill="#79b846" opacity="0.85"/>
<rect x="944.6" y="131.0" width="2" height="8.6" fill="#7ec39d" opacity="0.85"/>
<rect x="953.9" y="87.9" width="2" height="4.8" fill="#75c5d9" opacity="0.85"/>
<rect x="959.7" y="125.9" width="2" height="7.2" fill="#de612a" opacity="0.85"/>
<rect x="967.0" y="140.7" width="2" height="5.3" fill="#7ec3a4" opacity="0.85"/>
<rect x="937.2" y="122.7" width="2" height="7.9" fill="#bc2127" opacity="0.85"/>
<rect x="955.1" y="117.6" width="2" height="4.2" fill="#ede535" opacity="0.85"/>
<rect x="956.2" y="120.8" width="2" height="8.6" fill="#dbdf38" opacity="0.85"/>
<rect x="956.0" y="106.2" width="2" height="7.7" fill="#cfdb3b" opacity="0.85"/>
<rect x="961.2" y="101.6" width="2" height="6.1" fill="#81be66" opacity="0.85"/>
<rect x="974.7" y="102.6" width="2" height="7.1" fill="#79b94b" opacity="0.85"/>
<rect x="951.7" y="114.6" width="2" height="6.6" fill="#d3dc3a" opacity="0.85"/>
<rect x="962.3" y="109.4" width="2" height="8.0" fill="#ca2229" opacity="0.85"/>
<rect x="954.8" y="133.1" width="2" height="6.7" fill="#aacb3f" opacity="0.85"/>
<rect x="956.0" y="118.6" width="2" height="5.0" fill="#97c440" opacity="0.85"/>
<rect x="953.3" y="121.1" width="2" height="5.2" fill="#cbd93b" opacity="0.85"/>
<rect x="956.8" y="132.2" width="2" height="5.8" fill="#7bb946" opacity="0.85"/>
<rect x="947.4" y="144.7" width="2" height="5.7" fill="#6ec4eb" opacity="0.85"/>
<rect x="962.8" y="94.5" width="2" height="7.3" fill="#92c241" opacity="0.85"/>
<rect x="943.8" y="102.7" width="2" height="4.6" fill="#9dc640" opacity="0.85"/>
<rect x="952.9" y="127.7" width="2" height="5.4" fill="#7cbb56" opacity="0.85"/>
<rect x="962.8" y="136.5" width="2" height="5.6" fill="#82bf68" opacity="0.85"/>
<rect x="943.4" y="116.0" width="2" height="4.1" fill="#80bd61" opacity="0.85"/>
<rect x="978.5" y="111.7" width="2" height="8.9" fill="#73c5df" opacity="0.85"/>
<rect x="950.0" y="110.0" width="2" height="4.9" fill="#a8cb3f" opacity="0.85"/>
<rect x="954.3" y="112.4" width="2" height="7.1" fill="#f0d733" opacity="0.85"/>
<rect x="974.0" y="103.8" width="2" height="4.7" fill="#7fc297" opacity="0.85"/>
<rect x="978.9" y="117.8" width="2" height="4.9" fill="#7fbd5e" opacity="0.85"/>
<rect x="939.1" y="89.4" width="2" height="7.9" fill="#83bf6b" opacity="0.85"/>
<rect x="966.8" y="89.9" width="2" height="8.1" fill="#7ec3a0" opacity="0.85"/>
<rect x="950.5" y="126.9" width="2" height="8.2" fill="#94c241" opacity="0.85"/>
<rect x="956.3" y="117.6" width="2" height="8.1" fill="#bfd43d" opacity="0.85"/>
<rect x="947.9" y="79.6" width="2" height="6.5" fill="#7ec3a2" opacity="0.85"/>
<rect x="962.3" y="124.3" width="2" height="7.4" fill="#a0c73f" opacity="0.85"/>
<rect x="963.5" y="127.8" width="2" height="4.2" fill="#bed43d" opacity="0.85"/>
<rect x="947.8" y="116.9" width="2" height="8.3" fill="#bc2127" opacity="0.85"/>
<rect x="959.3" y="96.6" width="2" height="6.6" fill="#7bba50" opacity="0.85"/>
<rect x="945.2" y="119.9" width="2" height="8.1" fill="#88be43" opacity="0.85"/>
<rect x="962.7" y="107.6" width="2" height="6.8" fill="#87be43" opacity="0.85"/>
<rect x="950.9" y="121.6" width="2" height="6.3" fill="#7fbd5f" opacity="0.85"/>
<rect x="985.1" y="106.7" width="2" height="8.8" fill="#77c6d3" opacity="0.85"/>
<rect x="938.0" y="93.0" width="2" height="7.0" fill="#70c4e7" opacity="0.85"/>
<rect x="950.9" y="132.9" width="2" height="7.2" fill="#a2c83f" opacity="0.85"/>
<rect x="952.2" y="127.0" width="2" height="7.4" fill="#e2772b" opacity="0.85"/>
<rect x="950.6" y="115.2" width="2" height="6.9" fill="#c9d83c" opacity="0.85"/>
<rect x="941.6" y="122.9" width="2" height="4.6" fill="#80bb45" opacity="0.85"/>
<rect x="968.0" y="143.5" width="2" height="8.3" fill="#77c6d3" opacity="0.85"/>
<rect x="955.9" y="120.1" width="2" height="6.4" fill="#b2cf3e" opacity="0.85"/>
<rect x="946.9" y="109.2" width="2" height="6.6" fill="#a6ca3f" opacity="0.85"/>
<rect x="951.3" y="109.5" width="2" height="6.2" fill="#9dc640" opacity="0.85"/>
<rect x="967.2" y="97.7" width="2" height="4.6" fill="#8cbf42" opacity="0.85"/>
<rect x="977.6" y="111.5" width="2" height="6.0" fill="#75c5d9" opacity="0.85"/>
<rect x="972.3" y="148.7" width="2" height="4.7" fill="#6bbee8" opacity="0.85"/>
<polygon points="1143.0,16.0 1150.0,32.0 1156.0,60.0 1159.0,100.0 1159.0,150.0 1155.0,185.0 1147.0,208.0 1139.0,208.0 1131.0,185.0 1126.0,140.0 1126.0,90.0 1129.0,55.0 1136.0,28.0" fill="#4760ab" opacity="0.9" filter="url(#b1_5)"/>
<rect x="1145.7" y="42.3" width="1.9" height="152.2" fill="#5570b6" opacity="0.6"/>
<rect x="1157.5" y="62.3" width="2.6" height="100.5" fill="#5570b6" opacity="0.6"/>
<rect x="1144.1" y="51.9" width="1.6" height="137.9" fill="#4a64ae" opacity="0.6"/>
<rect x="1135.8" y="36.7" width="2.3" height="132.6" fill="#4660aa" opacity="0.6"/>
<rect x="1134.7" y="59.3" width="1.4" height="116.0" fill="#4f6ab2" opacity="0.6"/>
<rect x="1126.1" y="58.7" width="2.6" height="97.9" fill="#4f6ab2" opacity="0.6"/>
<rect x="1126.5" y="77.8" width="1.9" height="74.5" fill="#4f6ab2" opacity="0.6"/>
<rect x="1136.2" y="53.8" width="1.7" height="122.6" fill="#4660aa" opacity="0.6"/>
<rect x="1150.1" y="28.0" width="1.3" height="162.6" fill="#4a64ae" opacity="0.6"/>
<rect x="1127.5" y="48.7" width="1.6" height="106.7" fill="#4660aa" opacity="0.6"/>
<rect x="1131.7" y="66.7" width="2.0" height="96.7" fill="#4660aa" opacity="0.6"/>
<rect x="1154.0" y="48.5" width="1.9" height="125.2" fill="#5570b6" opacity="0.6"/>
<rect x="1124.4" y="93.0" width="1.4" height="48.2" fill="#5570b6" opacity="0.6"/>
<rect x="1157.2" y="76.7" width="2.2" height="72.3" fill="#4660aa" opacity="0.6"/>
<rect x="1157.2" y="58.9" width="2.2" height="120.8" fill="#4660aa" opacity="0.6"/>
<rect x="1142.4" y="40.6" width="1.8" height="158.3" fill="#5570b6" opacity="0.6"/>
<rect x="1140.0" y="36.4" width="1.7" height="141.6" fill="#4660aa" opacity="0.6"/>
<rect x="1152.8" y="65.6" width="1.3" height="111.0" fill="#4f6ab2" opacity="0.6"/>
<rect x="1131.0" y="50.3" width="2.5" height="128.3" fill="#5570b6" opacity="0.6"/>
<rect x="1130.6" y="46.0" width="1.8" height="126.2" fill="#4660aa" opacity="0.6"/>
<rect x="1154.8" y="47.5" width="2.4" height="143.8" fill="#4a64ae" opacity="0.6"/>
<rect x="1147.8" y="28.4" width="2.3" height="156.3" fill="#4a64ae" opacity="0.6"/>
<rect x="1156.2" y="63.9" width="1.5" height="80.8" fill="#4f6ab2" opacity="0.6"/>
<rect x="1147.1" y="63.5" width="2.0" height="104.2" fill="#4a64ae" opacity="0.6"/>
<rect x="1161.8" y="75.6" width="1.8" height="53.0" fill="#4f6ab2" opacity="0.6"/>
<rect x="1158.8" y="53.3" width="2.3" height="103.0" fill="#4a64ae" opacity="0.6"/>
<rect x="1146.3" y="54.7" width="1.7" height="116.9" fill="#4a64ae" opacity="0.6"/>
<rect x="1127.4" y="57.3" width="2.6" height="109.3" fill="#5570b6" opacity="0.6"/>
<rect x="1152.7" y="27.8" width="1.9" height="149.1" fill="#4a64ae" opacity="0.6"/>
<rect x="1135.0" y="53.6" width="1.3" height="117.8" fill="#5570b6" opacity="0.6"/>
<rect x="1138.7" y="27.6" width="1.9" height="159.6" fill="#4a64ae" opacity="0.6"/>
<rect x="1155.8" y="58.5" width="1.4" height="94.0" fill="#4f6ab2" opacity="0.6"/>
<rect x="1142.3" y="38.7" width="1.2" height="139.5" fill="#4f6ab2" opacity="0.6"/>
<rect x="1124.9" y="81.6" width="1.5" height="48.3" fill="#5570b6" opacity="0.6"/>
<rect x="1147.3" y="29.6" width="2.0" height="164.7" fill="#4660aa" opacity="0.6"/>
<rect x="1160.4" y="86.7" width="1.4" height="61.0" fill="#5570b6" opacity="0.6"/>
<rect x="1161.2" y="77.3" width="2.1" height="54.2" fill="#4f6ab2" opacity="0.6"/>
<rect x="1160.3" y="86.2" width="2.4" height="64.0" fill="#4a64ae" opacity="0.6"/>
<rect x="1149.6" y="52.4" width="2.1" height="105.7" fill="#4660aa" opacity="0.6"/>
<rect x="1152.6" y="36.8" width="2.4" height="150.3" fill="#4f6ab2" opacity="0.6"/>
<rect x="1155.1" y="47.6" width="2.2" height="137.1" fill="#5570b6" opacity="0.6"/>
<rect x="1158.5" y="58.2" width="2.3" height="96.9" fill="#4660aa" opacity="0.6"/>
<rect x="1140.9" y="37.2" width="1.4" height="133.5" fill="#4660aa" opacity="0.6"/>
<rect x="1132.3" y="61.4" width="1.7" height="87.8" fill="#4660aa" opacity="0.6"/>
<rect x="1158.6" y="51.5" width="1.3" height="106.3" fill="#4f6ab2" opacity="0.6"/>
<rect x="1129.1" y="68.0" width="2.3" height="104.2" fill="#4a64ae" opacity="0.6"/>
<rect x="1139.1" y="59.8" width="1.7" height="106.9" fill="#4660aa" opacity="0.6"/>
<rect x="1146.3" y="39.7" width="1.5" height="164.4" fill="#4660aa" opacity="0.6"/>
<rect x="1156.4" y="78.5" width="1.6" height="86.3" fill="#4660aa" opacity="0.6"/>
<rect x="1141.4" y="18.5" width="1.2" height="176.4" fill="#5570b6" opacity="0.6"/>
<rect x="1130.4" y="66.5" width="2.5" height="109.8" fill="#4a64ae" opacity="0.6"/>
<rect x="1157.3" y="47.1" width="1.3" height="117.5" fill="#4660aa" opacity="0.6"/>
<rect x="1160.5" y="81.3" width="1.7" height="58.7" fill="#5570b6" opacity="0.6"/>
<rect x="1128.5" y="72.5" width="2.1" height="71.6" fill="#5570b6" opacity="0.6"/>
<rect x="1161.5" y="90.3" width="2.4" height="62.2" fill="#5570b6" opacity="0.6"/>
<rect x="1134.0" y="71.0" width="2.3" height="92.4" fill="#4f6ab2" opacity="0.6"/>
<rect x="1158.2" y="82.7" width="2.4" height="67.4" fill="#4a64ae" opacity="0.6"/>
<rect x="1143.7" y="40.3" width="2.3" height="127.7" fill="#5570b6" opacity="0.6"/>
<rect x="1137.3" y="27.2" width="2.2" height="173.4" fill="#4660aa" opacity="0.6"/>
<rect x="1149.5" y="63.7" width="1.7" height="116.1" fill="#4a64ae" opacity="0.6"/>
<rect x="1147.1" y="31.0" width="2.2" height="157.5" fill="#4f6ab2" opacity="0.6"/>
<rect x="1129.0" y="76.8" width="1.7" height="82.7" fill="#5570b6" opacity="0.6"/>
<rect x="1152.5" y="60.4" width="1.6" height="109.9" fill="#4a64ae" opacity="0.6"/>
<rect x="1146.5" y="60.3" width="1.5" height="104.8" fill="#5570b6" opacity="0.6"/>
<rect x="1129.7" y="51.5" width="1.4" height="106.1" fill="#4f6ab2" opacity="0.6"/>
<rect x="1147.8" y="44.5" width="2.1" height="121.5" fill="#4f6ab2" opacity="0.6"/>
<rect x="1142.6" y="58.5" width="1.4" height="111.4" fill="#4f6ab2" opacity="0.6"/>
<rect x="1144.9" y="52.4" width="2.3" height="123.7" fill="#4660aa" opacity="0.6"/>
<rect x="1137.2" y="19.8" width="1.4" height="171.3" fill="#4a64ae" opacity="0.6"/>
<rect x="1126.6" y="75.8" width="2.0" height="59.3" fill="#4f6ab2" opacity="0.6"/>
<rect x="1139.2" y="39.7" width="2.2" height="150.6" fill="#4f6ab2" opacity="0.6"/>
<rect x="1152.3" y="35.3" width="1.7" height="158.2" fill="#4660aa" opacity="0.6"/>
<rect x="1154.5" y="64.8" width="2.5" height="107.6" fill="#4a64ae" opacity="0.6"/>
<rect x="1158.6" y="62.3" width="2.6" height="99.3" fill="#5570b6" opacity="0.6"/>
<rect x="1136.2" y="36.9" width="1.5" height="159.8" fill="#4f6ab2" opacity="0.6"/>
<rect x="1129.3" y="72.8" width="2.6" height="80.4" fill="#4f6ab2" opacity="0.6"/>
<rect x="1129.1" y="67.3" width="2.3" height="78.5" fill="#4660aa" opacity="0.6"/>
<rect x="1142.8" y="30.1" width="1.7" height="158.1" fill="#4660aa" opacity="0.6"/>
<rect x="1143.2" y="65.1" width="2.1" height="106.5" fill="#4f6ab2" opacity="0.6"/>
<rect x="1131.5" y="72.2" width="1.8" height="99.2" fill="#5570b6" opacity="0.6"/>
<rect x="1153.8" y="50.7" width="1.2" height="135.2" fill="#4a64ae" opacity="0.6"/>
<rect x="1144.8" y="54.6" width="2.4" height="128.8" fill="#4660aa" opacity="0.6"/>
<rect x="1132.5" y="61.7" width="1.3" height="94.0" fill="#4f6ab2" opacity="0.6"/>
<rect x="1150.7" y="48.7" width="2.0" height="117.0" fill="#4f6ab2" opacity="0.6"/>
<rect x="1140.3" y="29.5" width="2.3" height="162.8" fill="#5570b6" opacity="0.6"/>
<rect x="1142.7" y="56.1" width="1.7" height="107.8" fill="#4660aa" opacity="0.6"/>
<rect x="1150.7" y="42.5" width="2.4" height="155.9" fill="#4f6ab2" opacity="0.6"/>
<rect x="1136.9" y="51.3" width="1.6" height="126.2" fill="#4a64ae" opacity="0.6"/>
<rect x="1137.8" y="40.5" width="2.0" height="159.3" fill="#5570b6" opacity="0.6"/>
<rect x="1139.0" y="35.9" width="2.3" height="141.0" fill="#4a64ae" opacity="0.6"/>
</g>
<ellipse cx="1142.4" cy="110.4" rx="31.5" ry="102.3" fill="none" stroke="#d8262b" stroke-width="3.6" stroke-dasharray="9.2 4.08" stroke-dashoffset="4.58"/>
<rect x="851.40" y="7.40" width="339.20" height="208.20" fill="none" stroke="#1a1a1a" stroke-width="2.8"/>
<line x1="852.00" y1="28.80" x2="856.50" y2="28.80" stroke="#1a1a1a" stroke-width="2.4" />
<line x1="1190.00" y1="28.80" x2="1185.50" y2="28.80" stroke="#1a1a1a" stroke-width="2.4" />
<line x1="852.00" y1="111.20" x2="856.50" y2="111.20" stroke="#1a1a1a" stroke-width="2.4" />
<line x1="1190.00" y1="111.20" x2="1185.50" y2="111.20" stroke="#1a1a1a" stroke-width="2.4" />
<line x1="852.00" y1="194.00" x2="856.50" y2="194.00" stroke="#1a1a1a" stroke-width="2.4" />
<line x1="1190.00" y1="194.00" x2="1185.50" y2="194.00" stroke="#1a1a1a" stroke-width="2.4" />
<line x1="909.50" y1="215.00" x2="909.50" y2="210.50" stroke="#1a1a1a" stroke-width="2.4" />
<line x1="909.50" y1="8.00" x2="909.50" y2="12.50" stroke="#1a1a1a" stroke-width="2.4" />
<line x1="952.50" y1="215.00" x2="952.50" y2="210.50" stroke="#1a1a1a" stroke-width="2.4" />
<line x1="952.50" y1="8.00" x2="952.50" y2="12.50" stroke="#1a1a1a" stroke-width="2.4" />
<line x1="1006.80" y1="215.00" x2="1006.80" y2="210.50" stroke="#1a1a1a" stroke-width="2.4" />
<line x1="1006.80" y1="8.00" x2="1006.80" y2="12.50" stroke="#1a1a1a" stroke-width="2.4" />
<text x="818.94" y="39.40" font-size="30.8" text-anchor="start" fill="#111" >-2</text>
<text x="826.87" y="121.50" font-size="30.8" text-anchor="start" fill="#111" >0</text>
<text x="826.00" y="204.20" font-size="30.8" text-anchor="start" fill="#111" >2</text>
<text x="888.17" y="251.00" font-size="30.8" text-anchor="start" fill="#111" >2.5</text>
<text x="931.60" y="251.00" font-size="30.8" text-anchor="start" fill="#111" >3.0</text>
<text x="986.44" y="251.00" font-size="30.8" text-anchor="start" fill="#111" >4.0</text>
<text x="1120.29" y="251.00" font-size="30.8" text-anchor="start" fill="#111" >INF</text>
<rect x="1203.5" y="6" width="28.8" height="211" fill="url(#jet)"/>
<rect x="1204.80" y="7.30" width="26.20" height="208.40" fill="none" stroke="#1a1a1a" stroke-width="2.6"/>
<line x1="1231.00" y1="9.40" x2="1226.00" y2="9.40" stroke="#1a1a1a" stroke-width="2.4" />
<line x1="1231.00" y1="83.40" x2="1226.00" y2="83.40" stroke="#1a1a1a" stroke-width="2.4" />
<line x1="1231.00" y1="157.50" x2="1226.00" y2="157.50" stroke="#1a1a1a" stroke-width="2.4" />
<text x="1248.53" y="20.30" font-size="30.8" text-anchor="start" fill="#111" >3</text>
<text x="1249.15" y="93.90" font-size="30.8" text-anchor="start" fill="#111" >2</text>
<text x="1249.89" y="167.70" font-size="30.8" text-anchor="start" fill="#111" >1</text>
<text x="1293.50" y="201.89" font-size="30.4" text-anchor="start" fill="#111" transform="rotate(-90 1293.50 201.89)" >pC/mrad/GeV</text>
<rect x="79.5" y="268.5" width="577.4" height="209" fill="#2e3488"/>
<g clip-path="url(#clipB)">
<radialGradient id="g14"><stop offset="0" stop-color="#37459a" stop-opacity="0.800"/><stop offset="0.4" stop-color="#37459a" stop-opacity="0.680"/><stop offset="0.7" stop-color="#37459a" stop-opacity="0.320"/><stop offset="1" stop-color="#37459a" stop-opacity="0.000"/></radialGradient><ellipse cx="478.0" cy="372.0" rx="85.0" ry="30.0" fill="url(#g14)"/>
<polygon points="408.0,371.0 440.0,365.5 470.0,360.0 503.0,352.5 514.0,355.0 522.0,362.0 543.0,372.0 522.0,382.0 514.0,390.0 503.0,393.5 470.0,384.0 440.0,378.0" fill="#3e4c9f" opacity="0.9" filter="url(#b3)"/>
<radialGradient id="g15"><stop offset="0" stop-color="#4351a3" stop-opacity="0.600"/><stop offset="0.4" stop-color="#4351a3" stop-opacity="0.510"/><stop offset="0.7" stop-color="#4351a3" stop-opacity="0.240"/><stop offset="1" stop-color="#4351a3" stop-opacity="0.000"/></radialGradient><ellipse cx="505.0" cy="372.0" rx="30.0" ry="14.0" fill="url(#g15)"/>
<rect x="80" y="469" width="577" height="6" fill="#34409a" opacity="0.35"/>
<rect x="172.6" y="385.8" width="2" height="11.7" fill="#4a5fae" opacity="0.28" filter="url(#b1)"/>
<rect x="207.4" y="391.9" width="2" height="8.7" fill="#4a5fae" opacity="0.28" filter="url(#b1)"/>
<rect x="151.3" y="407.8" width="2" height="10.6" fill="#4a5fae" opacity="0.28" filter="url(#b1)"/>
<rect x="172.3" y="419.7" width="2" height="12.7" fill="#4a5fae" opacity="0.28" filter="url(#b1)"/>
<rect x="229.5" y="380.7" width="2" height="14.4" fill="#4a5fae" opacity="0.28" filter="url(#b1)"/>
<rect x="164.3" y="392.6" width="2" height="16.7" fill="#4a5fae" opacity="0.28" filter="url(#b1)"/>
<rect x="199.7" y="400.6" width="2" height="14.7" fill="#4a5fae" opacity="0.28" filter="url(#b1)"/>
<rect x="156.1" y="401.9" width="2" height="13.9" fill="#4a5fae" opacity="0.28" filter="url(#b1)"/>
<rect x="178.6" y="347.3" width="2" height="16.7" fill="#4a5fae" opacity="0.28" filter="url(#b1)"/>
<rect x="194.9" y="398.9" width="2" height="16.8" fill="#4a5fae" opacity="0.28" filter="url(#b1)"/>
<rect x="217.8" y="414.1" width="2" height="11.9" fill="#4a5fae" opacity="0.28" filter="url(#b1)"/>
<rect x="226.1" y="378.3" width="2" height="17.4" fill="#4a5fae" opacity="0.28" filter="url(#b1)"/>
<rect x="233.5" y="352.3" width="2" height="9.4" fill="#4a5fae" opacity="0.28" filter="url(#b1)"/>
<rect x="170.6" y="417.4" width="2" height="12.4" fill="#4a5fae" opacity="0.28" filter="url(#b1)"/>
<rect x="209.5" y="367.6" width="2" height="13.1" fill="#4a5fae" opacity="0.28" filter="url(#b1)"/>
<rect x="186.7" y="371.3" width="2" height="13.9" fill="#4a5fae" opacity="0.28" filter="url(#b1)"/>
<rect x="205.5" y="412.8" width="2" height="14.8" fill="#4a5fae" opacity="0.28" filter="url(#b1)"/>
<rect x="238.2" y="409.2" width="2" height="17.9" fill="#4a5fae" opacity="0.28" filter="url(#b1)"/>
<rect x="213.8" y="357.2" width="2" height="16.6" fill="#4a5fae" opacity="0.28" filter="url(#b1)"/>
<rect x="241.6" y="412.9" width="2" height="13.7" fill="#4a5fae" opacity="0.28" filter="url(#b1)"/>
<rect x="217.8" y="360.8" width="2" height="16.3" fill="#4a5fae" opacity="0.28" filter="url(#b1)"/>
<rect x="204.5" y="366.4" width="2" height="8.6" fill="#4a5fae" opacity="0.28" filter="url(#b1)"/>
<rect x="231.1" y="419.2" width="2" height="8.9" fill="#4a5fae" opacity="0.28" filter="url(#b1)"/>
<rect x="226.1" y="375.8" width="2" height="9.5" fill="#4a5fae" opacity="0.28" filter="url(#b1)"/>
<rect x="177.9" y="402.7" width="2" height="16.7" fill="#4a5fae" opacity="0.28" filter="url(#b1)"/>
<rect x="154.2" y="391.1" width="2" height="8.4" fill="#4a5fae" opacity="0.28" filter="url(#b1)"/>
<rect x="121.8" y="318" width="1.6" height="42" fill="#4d66b0" opacity="0.5"/>
<rect x="137.5" y="455" width="1.4" height="20" fill="#4d66b0" opacity="0.5"/>
<rect x="118" y="360" width="1.4" height="90" fill="#4560ad" opacity="0.35"/>
<path d="M122.0,352.0 L124.5,380.0 L128.0,405.0 L133.0,430.0 L137.0,462.0" fill="none" stroke="#4f8dcc" stroke-width="6" stroke-linejoin="round" stroke-linecap="round" filter="url(#b1_5)" opacity="0.6"/>
<path d="M145.0,398.0 L142.5,420.0 L139.0,446.0" fill="none" stroke="#4f8dcc" stroke-width="5" stroke-linejoin="round" stroke-linecap="round" filter="url(#b1_5)" opacity="0.6"/>
<line x1="122" y1="356" x2="123.5" y2="366" stroke="#e8c030" stroke-width="3.2" stroke-linecap="round" filter="url(#b0_8)"/>
<line x1="123.5" y1="366" x2="126" y2="384" stroke="#dc5a2a" stroke-width="3.2" stroke-linecap="round" filter="url(#b0_8)"/>
<line x1="126" y1="384" x2="128" y2="396" stroke="#e8902c" stroke-width="3.2" stroke-linecap="round" filter="url(#b0_8)"/>
<line x1="128" y1="396" x2="130.5" y2="410" stroke="#d8602a" stroke-width="3.2" stroke-linecap="round" filter="url(#b0_8)"/>
<line x1="130.5" y1="410" x2="133" y2="422" stroke="#b8d040" stroke-width="3.2" stroke-linecap="round" filter="url(#b0_8)"/>
<line x1="133" y1="422" x2="135" y2="432" stroke="#78c8c8" stroke-width="3.2" stroke-linecap="round" filter="url(#b0_8)"/>
<line x1="135" y1="432" x2="136.5" y2="444" stroke="#e8a030" stroke-width="3.2" stroke-linecap="round" filter="url(#b0_8)"/>
<line x1="136.5" y1="444" x2="137.2" y2="454" stroke="#d84a2a" stroke-width="3.2" stroke-linecap="round" filter="url(#b0_8)"/>
<line x1="137.2" y1="454" x2="137.5" y2="461" stroke="#f0c030" stroke-width="3.2" stroke-linecap="round" filter="url(#b0_8)"/>
<line x1="145" y1="400" x2="144" y2="410" stroke="#78c8c0" stroke-width="3.2" stroke-linecap="round" filter="url(#b0_8)"/>
<line x1="144" y1="410" x2="142.5" y2="420" stroke="#a8d048" stroke-width="3.2" stroke-linecap="round" filter="url(#b0_8)"/>
<line x1="142.5" y1="420" x2="140.5" y2="434" stroke="#68c0e0" stroke-width="3.2" stroke-linecap="round" filter="url(#b0_8)"/>
<line x1="140.5" y1="434" x2="139" y2="444" stroke="#90c850" stroke-width="3.2" stroke-linecap="round" filter="url(#b0_8)"/>
<rect x="133.7" y="439.1" width="1.8" height="3.5" fill="#e8c030" opacity="0.75"/>
<rect x="135.5" y="425.2" width="1.8" height="3.5" fill="#6cc6d0" opacity="0.75"/>
<rect x="124.0" y="407.7" width="1.8" height="3.5" fill="#5aa0d8" opacity="0.75"/>
<rect x="130.9" y="421.2" width="1.8" height="3.5" fill="#e8c030" opacity="0.75"/>
<rect x="136.0" y="415.9" width="1.8" height="3.5" fill="#5aa0d8" opacity="0.75"/>
<rect x="133.6" y="417.9" width="1.8" height="3.5" fill="#70c8a8" opacity="0.75"/>
<rect x="140.2" y="437.1" width="1.8" height="3.5" fill="#70c8a8" opacity="0.75"/>
<rect x="128.7" y="412.3" width="1.8" height="3.5" fill="#e8c030" opacity="0.75"/>
<rect x="132.7" y="425.0" width="1.8" height="3.5" fill="#e8c030" opacity="0.75"/>
<rect x="125.6" y="407.5" width="1.8" height="3.5" fill="#6cc6d0" opacity="0.75"/>
<rect x="131.1" y="419.2" width="1.8" height="3.5" fill="#e8c030" opacity="0.75"/>
<rect x="132.2" y="421.1" width="1.8" height="3.5" fill="#e8c030" opacity="0.75"/>
<rect x="136.9" y="434.7" width="1.8" height="3.5" fill="#6cc6d0" opacity="0.75"/>
<rect x="138.6" y="446.8" width="1.8" height="3.5" fill="#70c8a8" opacity="0.75"/>
<rect x="135.2" y="430.8" width="1.8" height="3.5" fill="#e8c030" opacity="0.75"/>
<rect x="136.9" y="444.0" width="1.8" height="3.5" fill="#6cc6d0" opacity="0.75"/>
<rect x="139.3" y="436.5" width="1.8" height="3.5" fill="#9ccc40" opacity="0.75"/>
<rect x="132.1" y="422.7" width="1.8" height="3.5" fill="#9ccc40" opacity="0.75"/>
<rect x="130.2" y="414.2" width="1.8" height="3.5" fill="#6cc6d0" opacity="0.75"/>
<rect x="128.3" y="411.5" width="1.8" height="3.5" fill="#9ccc40" opacity="0.75"/>
<rect x="133.6" y="421.1" width="1.8" height="3.5" fill="#e8c030" opacity="0.75"/>
<rect x="136.7" y="438.5" width="1.8" height="3.5" fill="#e8c030" opacity="0.75"/>
<rect x="132.4" y="416.5" width="1.8" height="3.5" fill="#9ccc40" opacity="0.75"/>
<rect x="132.9" y="414.2" width="1.8" height="3.5" fill="#e8c030" opacity="0.75"/>
<rect x="132.2" y="417.5" width="1.8" height="3.5" fill="#70c8a8" opacity="0.75"/>
<rect x="133.1" y="420.6" width="1.8" height="3.5" fill="#e8c030" opacity="0.75"/>
<rect x="131.9" y="421.7" width="1.8" height="3.5" fill="#70c8a8" opacity="0.75"/>
<rect x="133.6" y="420.5" width="1.8" height="3.5" fill="#6cc6d0" opacity="0.75"/>
<rect x="134.8" y="420.5" width="1.8" height="3.5" fill="#70c8a8" opacity="0.75"/>
<rect x="137.6" y="420.3" width="1.8" height="3.5" fill="#9ccc40" opacity="0.75"/>
</g>
<line x1="630.30" y1="270.80" x2="630.30" y2="476.00" stroke="#fff" stroke-width="3.7" stroke-dasharray="10.3 3.7"/>
<line x1="356.20" y1="270.80" x2="356.20" y2="476.00" stroke="#fff" stroke-width="3.6" stroke-dasharray="10.3 3.7"/>
<rect x="80.30" y="269.30" width="575.80" height="207.40" fill="none" stroke="#1a1a1a" stroke-width="1.6"/>
<line x1="72.00" y1="308.00" x2="80.00" y2="308.00" stroke="#1a1a1a" stroke-width="1.5" />
<line x1="72.00" y1="372.70" x2="80.00" y2="372.70" stroke="#1a1a1a" stroke-width="1.5" />
<line x1="72.00" y1="437.30" x2="80.00" y2="437.30" stroke="#1a1a1a" stroke-width="1.5" />
<line x1="80.00" y1="477.00" x2="80.00" y2="484.30" stroke="#1a1a1a" stroke-width="1.5" />
<line x1="217.30" y1="477.00" x2="217.30" y2="484.30" stroke="#1a1a1a" stroke-width="1.5" />
<line x1="355.40" y1="477.00" x2="355.40" y2="484.30" stroke="#1a1a1a" stroke-width="1.5" />
<line x1="493.00" y1="477.00" x2="493.00" y2="484.30" stroke="#1a1a1a" stroke-width="1.5" />
<line x1="630.50" y1="477.00" x2="630.50" y2="484.30" stroke="#1a1a1a" stroke-width="1.5" />
<text x="49.86" y="318.30" font-size="28.5" text-anchor="start" fill="#111" >5</text>
<text x="50.64" y="382.70" font-size="28.5" text-anchor="start" fill="#111" >0</text>
<text x="32.49" y="448.00" font-size="28.5" text-anchor="start" fill="#111" >−5</text>
<text x="72.88" y="512.40" font-size="28.5" text-anchor="start" fill="#111" >0</text>
<text x="209.78" y="512.40" font-size="28.5" text-anchor="start" fill="#111" >1</text>
<text x="348.44" y="512.40" font-size="28.5" text-anchor="start" fill="#111" >2</text>
<text x="485.75" y="512.40" font-size="28.5" text-anchor="start" fill="#111" >3</text>
<text x="623.32" y="512.40" font-size="28.5" text-anchor="start" fill="#111" >4</text>
<text x="289.53" y="547.50" font-size="28" text-anchor="start" fill="#111" >Energy (GeV)</text>
<text x="19.50" y="449.27" font-size="28" text-anchor="start" fill="#111" transform="rotate(-90 19.50 449.27)" >Angle (mrad)</text>
<text x="98.40" y="314.50" font-size="38" text-anchor="start" fill="#fff" >(b)</text>
<rect x="677" y="268.5" width="26.8" height="209" fill="url(#jet)"/>
<rect x="677.75" y="269.25" width="25.30" height="207.50" fill="none" stroke="#1a1a1a" stroke-width="1.5"/>
<line x1="703.00" y1="310.00" x2="711.50" y2="310.00" stroke="#1a1a1a" stroke-width="1.5" />
<text x="720.24" y="320.30" font-size="28.5" text-anchor="start" fill="#111" >40</text>
<line x1="703.00" y1="393.80" x2="711.50" y2="393.80" stroke="#1a1a1a" stroke-width="1.5" />
<text x="719.55" y="404.10" font-size="28.5" text-anchor="start" fill="#111" >20</text>
<line x1="703.00" y1="477.00" x2="711.50" y2="477.00" stroke="#1a1a1a" stroke-width="1.5" />
<text x="719.71" y="487.30" font-size="28.5" text-anchor="start" fill="#111" >0</text>
<text x="777.50" y="452.45" font-size="28" text-anchor="start" fill="#111" transform="rotate(-90 777.50 452.45)" >pC/mard/GeV</text>
<rect x="848" y="268.3" width="344" height="208.7" fill="#2e3488"/>
<g clip-path="url(#clipBR)">
<radialGradient id="g16"><stop offset="0" stop-color="#3d50a1" stop-opacity="0.950"/><stop offset="0.5" stop-color="#3d50a1" stop-opacity="0.760"/><stop offset="1" stop-color="#3d50a1" stop-opacity="0.000"/></radialGradient><ellipse cx="990.0" cy="372.0" rx="150.0" ry="44.0" fill="url(#g16)"/>
<radialGradient id="g17"><stop offset="0" stop-color="#4864ae" stop-opacity="0.950"/><stop offset="0.6" stop-color="#4864ae" stop-opacity="0.760"/><stop offset="1" stop-color="#4864ae" stop-opacity="0.000"/></radialGradient><ellipse cx="1005.0" cy="372.0" rx="105.0" ry="30.0" fill="url(#g17)"/>
<polygon points="900.0,373.0 912.0,367.0 930.0,362.5 950.0,360.0 975.0,357.5 1000.0,355.0 1038.0,348.5 1050.0,350.0 1058.0,356.0 1075.0,362.0 1090.0,373.0 1075.0,383.0 1058.0,389.0 1050.0,396.0 1038.0,398.0 1000.0,392.0 975.0,388.0 950.0,386.0 930.0,383.5 912.0,379.0" fill="#64aedb" opacity="0.95" filter="url(#b2_2)"/>
<polygon points="955.0,373.0 962.0,363.0 975.0,360.0 1000.0,357.5 1038.0,350.5 1048.0,352.0 1055.0,358.0 1072.0,365.0 1082.0,373.0 1072.0,380.0 1055.0,387.0 1048.0,394.0 1038.0,396.5 1000.0,390.0 975.0,386.0 962.0,383.5" fill="#8cc44a" filter="url(#b1_5)"/>
<polygon points="963.0,373.0 973.0,362.0 1001.0,358.5 1038.0,353.0 1047.0,354.0 1051.0,358.5 1065.0,370.0 1068.0,373.0 1065.0,376.0 1051.0,387.0 1047.0,391.5 1038.0,393.5 1001.0,388.0 973.0,384.0" fill="#efe136" filter="url(#b1_5)"/>
<polygon points="973.0,372.5 980.0,367.5 1015.0,366.5 1044.0,365.5 1048.0,372.5 1044.0,380.0 1015.0,379.0 980.0,377.5" fill="#eea232" filter="url(#b2)"/>
<radialGradient id="g18"><stop offset="0" stop-color="#d8442a" stop-opacity="0.950"/><stop offset="0.6" stop-color="#d8442a" stop-opacity="0.760"/><stop offset="1" stop-color="#d8442a" stop-opacity="0.000"/></radialGradient><ellipse cx="1025.0" cy="372.5" rx="20.0" ry="5.5" fill="url(#g18)"/>
<radialGradient id="g19"><stop offset="0" stop-color="#e8802c" stop-opacity="0.900"/><stop offset="0.6" stop-color="#e8802c" stop-opacity="0.720"/><stop offset="1" stop-color="#e8802c" stop-opacity="0.000"/></radialGradient><ellipse cx="982.0" cy="372.5" rx="9.0" ry="5.0" fill="url(#g19)"/>
<polygon points="1047.0,359.5 1053.0,362.5 1069.0,372.5 1053.0,383.0 1047.0,385.5 1052.0,372.5" fill="#d9482a" filter="url(#b1)"/>
<polygon points="1051.0,364.5 1059.0,368.0 1066.5,372.5 1059.0,377.0 1051.0,380.5 1054.5,372.5" fill="#a31c22" filter="url(#b1_2)"/>
<radialGradient id="g20"><stop offset="0" stop-color="#b8d440" stop-opacity="0.800"/><stop offset="0.6" stop-color="#b8d440" stop-opacity="0.640"/><stop offset="1" stop-color="#b8d440" stop-opacity="0.000"/></radialGradient><ellipse cx="960.0" cy="373.0" rx="16.0" ry="11.0" fill="url(#g20)"/>
<ellipse cx="900.0" cy="373.0" rx="2.7" ry="4.2" fill="#6cb8c8" opacity="0.7" filter="url(#b1)"/>
<ellipse cx="908.0" cy="373.0" rx="2.7" ry="4.8" fill="#7cc0a8" opacity="0.7" filter="url(#b1)"/>
<ellipse cx="915.2" cy="373.0" rx="2.7" ry="5.4" fill="#88c478" opacity="0.95" filter="url(#b1)"/>
<ellipse cx="923.2" cy="373.0" rx="2.7" ry="6.0" fill="#8cc458" opacity="0.95" filter="url(#b1)"/>
<ellipse cx="930.4" cy="373.0" rx="2.7" ry="6.6" fill="#8cc44a" opacity="0.95" filter="url(#b1)"/>
<ellipse cx="937.6" cy="373.0" rx="2.7" ry="7.2" fill="#94c848" opacity="0.95" filter="url(#b1)"/>
<ellipse cx="944.4" cy="373.0" rx="2.7" ry="7.8" fill="#a0cc44" opacity="0.95" filter="url(#b1)"/>
<ellipse cx="950.8" cy="373.0" rx="2.7" ry="8.4" fill="#b0d040" opacity="0.95" filter="url(#b1)"/>
<ellipse cx="958.0" cy="373.0" rx="2.7" ry="9.0" fill="#c0d43c" opacity="0.95" filter="url(#b1)"/>
<ellipse cx="964.7" cy="373.0" rx="2.7" ry="9.6" fill="#d0d83a" opacity="0.95" filter="url(#b1)"/>
<rect x="1002.4" y="361.9" width="1.1" height="1.1" fill="#edae2f" opacity="0.45"/>
<rect x="1006.6" y="368.3" width="1.1" height="1.1" fill="#eba12e" opacity="0.45"/>
<rect x="982.0" y="365.5" width="1.1" height="1.1" fill="#e78b2c" opacity="0.45"/>
<rect x="975.2" y="372.0" width="1.1" height="1.1" fill="#efbe31" opacity="0.45"/>
<rect x="974.9" y="375.3" width="1.1" height="1.1" fill="#f0d533" opacity="0.45"/>
<rect x="1042.6" y="365.3" width="1.1" height="1.1" fill="#e3792b" opacity="0.45"/>
<rect x="1017.7" y="370.3" width="1.1" height="1.1" fill="#f0d733" opacity="0.45"/>
<rect x="1008.2" y="370.6" width="1.1" height="1.1" fill="#f0d433" opacity="0.45"/>
<rect x="982.5" y="372.6" width="1.1" height="1.1" fill="#edae2f" opacity="0.45"/>
<rect x="1001.5" y="373.7" width="1.1" height="1.1" fill="#e6862c" opacity="0.45"/>
<rect x="1007.5" y="368.8" width="1.1" height="1.1" fill="#e9992d" opacity="0.45"/>
<rect x="1002.8" y="368.0" width="1.1" height="1.1" fill="#f0c132" opacity="0.45"/>
<rect x="1043.8" y="382.1" width="1.1" height="1.1" fill="#e9942d" opacity="0.45"/>
<rect x="992.0" y="372.2" width="1.1" height="1.1" fill="#f0c632" opacity="0.45"/>
<rect x="990.0" y="380.2" width="1.1" height="1.1" fill="#eeb430" opacity="0.45"/>
<rect x="1032.3" y="376.1" width="1.1" height="1.1" fill="#eeb630" opacity="0.45"/>
<rect x="1040.8" y="372.6" width="1.1" height="1.1" fill="#f0c732" opacity="0.45"/>
<rect x="1037.2" y="372.4" width="1.1" height="1.1" fill="#ecad2f" opacity="0.45"/>
<rect x="1042.5" y="370.9" width="1.1" height="1.1" fill="#ea9d2d" opacity="0.45"/>
<rect x="1027.2" y="373.7" width="1.1" height="1.1" fill="#f0c232" opacity="0.45"/>
<rect x="974.6" y="366.1" width="1.1" height="1.1" fill="#e88f2c" opacity="0.45"/>
<rect x="977.0" y="383.7" width="1.1" height="1.1" fill="#f0c432" opacity="0.45"/>
<rect x="975.7" y="380.8" width="1.1" height="1.1" fill="#f0ca32" opacity="0.45"/>
<rect x="1010.5" y="375.8" width="1.1" height="1.1" fill="#edaf30" opacity="0.45"/>
<rect x="982.5" y="372.2" width="1.1" height="1.1" fill="#ea9b2d" opacity="0.45"/>
<rect x="976.9" y="369.9" width="1.1" height="1.1" fill="#edb230" opacity="0.45"/>
<rect x="984.2" y="370.9" width="1.1" height="1.1" fill="#e78a2c" opacity="0.45"/>
<rect x="991.1" y="385.7" width="1.1" height="1.1" fill="#e5812b" opacity="0.45"/>
<rect x="984.0" y="364.8" width="1.1" height="1.1" fill="#ea9b2d" opacity="0.45"/>
<rect x="975.6" y="378.6" width="1.1" height="1.1" fill="#e2762b" opacity="0.45"/>
<rect x="984.2" y="372.1" width="1.1" height="1.1" fill="#efbc31" opacity="0.45"/>
<rect x="990.5" y="381.1" width="1.1" height="1.1" fill="#f0d233" opacity="0.45"/>
<rect x="974.8" y="369.3" width="1.1" height="1.1" fill="#ea9f2e" opacity="0.45"/>
<rect x="996.2" y="370.6" width="1.1" height="1.1" fill="#edaf30" opacity="0.45"/>
<rect x="1040.9" y="366.0" width="1.1" height="1.1" fill="#e5832c" opacity="0.45"/>
<rect x="981.9" y="373.2" width="1.1" height="1.1" fill="#f0cc32" opacity="0.45"/>
<rect x="1037.0" y="374.1" width="1.1" height="1.1" fill="#f0c932" opacity="0.45"/>
<rect x="1024.2" y="369.1" width="1.1" height="1.1" fill="#e37b2b" opacity="0.45"/>
<rect x="982.9" y="382.3" width="1.1" height="1.1" fill="#ea9f2e" opacity="0.45"/>
<rect x="1000.0" y="369.3" width="1.1" height="1.1" fill="#f0d033" opacity="0.45"/>
<rect x="970.9" y="376.1" width="1.1" height="1.1" fill="#e9952d" opacity="0.45"/>
<rect x="987.5" y="371.6" width="1.1" height="1.1" fill="#e6882c" opacity="0.45"/>
<rect x="1013.3" y="371.7" width="1.1" height="1.1" fill="#e8932c" opacity="0.45"/>
<rect x="973.2" y="375.5" width="1.1" height="1.1" fill="#f0c632" opacity="0.45"/>
<rect x="1010.5" y="376.6" width="1.1" height="1.1" fill="#f0c132" opacity="0.45"/>
<rect x="1037.7" y="367.0" width="1.1" height="1.1" fill="#f0c832" opacity="0.45"/>
<rect x="969.3" y="371.8" width="1.1" height="1.1" fill="#f0d333" opacity="0.45"/>
<rect x="981.4" y="377.9" width="1.1" height="1.1" fill="#eeb831" opacity="0.45"/>
<rect x="1011.5" y="375.7" width="1.1" height="1.1" fill="#e5812b" opacity="0.45"/>
<rect x="1042.5" y="376.0" width="1.1" height="1.1" fill="#e99a2d" opacity="0.45"/>
<rect x="1020.5" y="370.1" width="1.1" height="1.1" fill="#f0d633" opacity="0.45"/>
<rect x="969.4" y="371.1" width="1.1" height="1.1" fill="#e47f2b" opacity="0.45"/>
<rect x="1021.3" y="373.5" width="1.1" height="1.1" fill="#ea9c2d" opacity="0.45"/>
<rect x="1004.6" y="372.3" width="1.1" height="1.1" fill="#e8922c" opacity="0.45"/>
<rect x="992.2" y="374.5" width="1.1" height="1.1" fill="#eba52e" opacity="0.45"/>
<rect x="1024.0" y="372.5" width="1.1" height="1.1" fill="#e4802b" opacity="0.45"/>
<rect x="1024.0" y="370.0" width="1.1" height="1.1" fill="#e47e2b" opacity="0.45"/>
<rect x="994.7" y="364.0" width="1.1" height="1.1" fill="#e9972d" opacity="0.45"/>
<rect x="1036.5" y="376.1" width="1.1" height="1.1" fill="#e78c2c" opacity="0.45"/>
<rect x="1033.6" y="368.7" width="1.1" height="1.1" fill="#eba22e" opacity="0.45"/>
<rect x="1015.5" y="367.6" width="1.1" height="1.1" fill="#ea9f2e" opacity="0.45"/>
<rect x="974.1" y="377.0" width="1.1" height="1.1" fill="#ea9c2d" opacity="0.45"/>
<rect x="1043.5" y="378.4" width="1.1" height="1.1" fill="#eeb630" opacity="0.45"/>
<rect x="1023.9" y="367.0" width="1.1" height="1.1" fill="#eba22e" opacity="0.45"/>
<rect x="1001.5" y="373.6" width="1.1" height="1.1" fill="#e8902c" opacity="0.45"/>
<rect x="970.3" y="370.7" width="1.1" height="1.1" fill="#ea9f2e" opacity="0.45"/>
<rect x="1004.6" y="373.5" width="1.1" height="1.1" fill="#ecaa2f" opacity="0.45"/>
<rect x="1014.7" y="380.2" width="1.1" height="1.1" fill="#e47e2b" opacity="0.45"/>
<rect x="987.4" y="376.7" width="1.1" height="1.1" fill="#e9972d" opacity="0.45"/>
<rect x="983.4" y="372.8" width="1.1" height="1.1" fill="#f0cb32" opacity="0.45"/>
<rect x="1036.8" y="369.6" width="1.1" height="1.1" fill="#e5812b" opacity="0.45"/>
<rect x="992.8" y="367.9" width="1.1" height="1.1" fill="#e9992d" opacity="0.45"/>
<rect x="983.1" y="364.3" width="1.1" height="1.1" fill="#e47e2b" opacity="0.45"/>
<rect x="1034.9" y="376.3" width="1.1" height="1.1" fill="#eeb630" opacity="0.45"/>
<rect x="1012.3" y="371.4" width="1.1" height="1.1" fill="#ecaa2f" opacity="0.45"/>
<rect x="1031.6" y="375.0" width="1.1" height="1.1" fill="#e6852c" opacity="0.45"/>
<rect x="1022.1" y="376.3" width="1.1" height="1.1" fill="#f0cb32" opacity="0.45"/>
<rect x="1002.2" y="371.3" width="1.1" height="1.1" fill="#f0c132" opacity="0.45"/>
<rect x="984.3" y="366.5" width="1.1" height="1.1" fill="#ecab2f" opacity="0.45"/>
<rect x="992.0" y="376.1" width="1.1" height="1.1" fill="#e6862c" opacity="0.45"/>
<rect x="1042.6" y="370.6" width="1.1" height="1.1" fill="#f0d633" opacity="0.45"/>
<rect x="1034.3" y="373.1" width="1.1" height="1.1" fill="#f0d533" opacity="0.45"/>
<rect x="1021.9" y="368.6" width="1.1" height="1.1" fill="#e78c2c" opacity="0.45"/>
<rect x="969.5" y="370.7" width="1.1" height="1.1" fill="#f0cd33" opacity="0.45"/>
<rect x="1002.6" y="381.8" width="1.1" height="1.1" fill="#f0c532" opacity="0.45"/>
<rect x="978.7" y="374.0" width="1.1" height="1.1" fill="#f0d533" opacity="0.45"/>
<rect x="1015.8" y="365.8" width="1.1" height="1.1" fill="#ea9a2d" opacity="0.45"/>
<rect x="1029.4" y="374.8" width="1.1" height="1.1" fill="#e3792b" opacity="0.45"/>
<rect x="1020.0" y="374.3" width="1.1" height="1.1" fill="#f0ca32" opacity="0.45"/>
<rect x="968.8" y="377.9" width="1.1" height="1.1" fill="#ecad2f" opacity="0.45"/>
<rect x="1022.3" y="374.2" width="1.1" height="1.1" fill="#eeba31" opacity="0.45"/>
<rect x="1021.0" y="376.1" width="1.1" height="1.1" fill="#eca82f" opacity="0.45"/>
<rect x="1014.7" y="372.7" width="1.1" height="1.1" fill="#e78b2c" opacity="0.45"/>
<rect x="1036.9" y="367.5" width="1.1" height="1.1" fill="#f0d133" opacity="0.45"/>
<rect x="1038.9" y="372.0" width="1.1" height="1.1" fill="#edaf30" opacity="0.45"/>
<rect x="1015.5" y="369.9" width="1.1" height="1.1" fill="#e47f2b" opacity="0.45"/>
<rect x="996.6" y="363.2" width="1.1" height="1.1" fill="#e78b2c" opacity="0.45"/>
<rect x="1039.8" y="368.2" width="1.1" height="1.1" fill="#edae2f" opacity="0.45"/>
<rect x="1017.5" y="374.7" width="1.1" height="1.1" fill="#e6892c" opacity="0.45"/>
<rect x="1016.8" y="380.2" width="1.1" height="1.1" fill="#e9932c" opacity="0.45"/>
<rect x="984.2" y="383.8" width="1.1" height="1.1" fill="#e3772b" opacity="0.45"/>
<rect x="1008.8" y="364.3" width="1.1" height="1.1" fill="#e78c2c" opacity="0.45"/>
<rect x="992.3" y="380.8" width="1.1" height="1.1" fill="#eeba31" opacity="0.45"/>
<rect x="974.3" y="367.2" width="1.1" height="1.1" fill="#edb030" opacity="0.45"/>
<rect x="1009.8" y="373.2" width="1.1" height="1.1" fill="#f0d633" opacity="0.45"/>
<rect x="1029.5" y="366.8" width="1.1" height="1.1" fill="#f0d333" opacity="0.45"/>
<rect x="1028.8" y="374.6" width="1.1" height="1.1" fill="#e78c2c" opacity="0.45"/>
<rect x="978.7" y="376.5" width="1.1" height="1.1" fill="#f0cc32" opacity="0.45"/>
<rect x="1007.3" y="370.9" width="1.1" height="1.1" fill="#e9962d" opacity="0.45"/>
<rect x="1039.9" y="363.1" width="1.1" height="1.1" fill="#ecab2f" opacity="0.45"/>
<rect x="1040.1" y="375.5" width="1.1" height="1.1" fill="#eca72f" opacity="0.45"/>
<rect x="990.1" y="374.3" width="1.1" height="1.1" fill="#e8922c" opacity="0.45"/>
<rect x="1016.6" y="363.0" width="1.1" height="1.1" fill="#eba42e" opacity="0.45"/>
<rect x="991.7" y="371.1" width="1.1" height="1.1" fill="#eeb630" opacity="0.45"/>
<rect x="1032.2" y="375.3" width="1.1" height="1.1" fill="#e6852c" opacity="0.45"/>
<rect x="1041.6" y="370.5" width="1.1" height="1.1" fill="#eca72f" opacity="0.45"/>
<rect x="1011.5" y="374.4" width="1.1" height="1.1" fill="#ecaa2f" opacity="0.45"/>
<rect x="1014.0" y="378.4" width="1.1" height="1.1" fill="#f0d633" opacity="0.45"/>
<rect x="1041.7" y="367.5" width="1.1" height="1.1" fill="#e78a2c" opacity="0.45"/>
<rect x="1010.8" y="372.0" width="1.1" height="1.1" fill="#ecab2f" opacity="0.45"/>
<rect x="1020.5" y="378.2" width="1.1" height="1.1" fill="#edb330" opacity="0.45"/>
<rect x="1040.7" y="375.0" width="1.1" height="1.1" fill="#e47d2b" opacity="0.45"/>
<rect x="988.5" y="369.9" width="1.1" height="1.1" fill="#edb130" opacity="0.45"/>
<rect x="1030.0" y="372.9" width="1.1" height="1.1" fill="#e4802b" opacity="0.45"/>
<rect x="1004.2" y="371.2" width="1.1" height="1.1" fill="#ea9e2e" opacity="0.45"/>
<rect x="1038.3" y="375.5" width="1.1" height="1.1" fill="#f0ce33" opacity="0.45"/>
<rect x="1027.2" y="375.8" width="1.1" height="1.1" fill="#f0c632" opacity="0.45"/>
<rect x="1020.2" y="373.0" width="1.1" height="1.1" fill="#efbd31" opacity="0.45"/>
<rect x="995.0" y="370.8" width="1.1" height="1.1" fill="#e8922c" opacity="0.45"/>
<rect x="977.3" y="370.9" width="1.1" height="1.1" fill="#eca92f" opacity="0.45"/>
<rect x="987.0" y="374.5" width="1.1" height="1.1" fill="#edb130" opacity="0.45"/>
<rect x="996.6" y="378.3" width="1.1" height="1.1" fill="#edb330" opacity="0.45"/>
<rect x="1008.2" y="374.3" width="1.1" height="1.1" fill="#ea9c2d" opacity="0.45"/>
<rect x="1016.5" y="375.4" width="1.1" height="1.1" fill="#eca72f" opacity="0.45"/>
<rect x="1032.7" y="365.0" width="1.1" height="1.1" fill="#f0c532" opacity="0.45"/>
<rect x="1024.3" y="366.1" width="1.1" height="1.1" fill="#e7892c" opacity="0.45"/>
<rect x="1036.6" y="370.8" width="1.1" height="1.1" fill="#e47d2b" opacity="0.45"/>
<rect x="984.6" y="376.5" width="1.1" height="1.1" fill="#e2752b" opacity="0.45"/>
<rect x="1035.5" y="375.0" width="1.1" height="1.1" fill="#e8922c" opacity="0.45"/>
<rect x="987.7" y="375.3" width="1.1" height="1.1" fill="#f0d033" opacity="0.45"/>
<rect x="1031.2" y="364.7" width="1.1" height="1.1" fill="#f0ce33" opacity="0.45"/>
<rect x="998.6" y="376.7" width="1.1" height="1.1" fill="#e9972d" opacity="0.45"/>
<rect x="969.3" y="374.8" width="1.1" height="1.1" fill="#e47f2b" opacity="0.45"/>
<rect x="1041.6" y="379.7" width="1.1" height="1.1" fill="#f0cf33" opacity="0.45"/>
<rect x="1006.4" y="372.8" width="1.1" height="1.1" fill="#e9972d" opacity="0.45"/>
<rect x="982.4" y="366.6" width="1.1" height="1.1" fill="#f0d333" opacity="0.45"/>
<rect x="976.1" y="378.7" width="1.1" height="1.1" fill="#eca82f" opacity="0.45"/>
<rect x="1011.2" y="374.0" width="1.1" height="1.1" fill="#f0cc32" opacity="0.45"/>
<rect x="982.0" y="375.2" width="1.1" height="1.1" fill="#e2762b" opacity="0.45"/>
<rect x="1038.4" y="381.7" width="1.1" height="1.1" fill="#f0d133" opacity="0.45"/>
<rect x="972.7" y="377.8" width="1.1" height="1.1" fill="#e88e2c" opacity="0.45"/>
<rect x="992.8" y="370.8" width="1.1" height="1.1" fill="#edad2f" opacity="0.45"/>
<rect x="1007.2" y="366.4" width="1.1" height="1.1" fill="#f0d733" opacity="0.45"/>
<rect x="1021.3" y="375.4" width="1.1" height="1.1" fill="#e6862c" opacity="0.45"/>
<rect x="981.8" y="364.6" width="1.1" height="1.1" fill="#eeb430" opacity="0.45"/>
<rect x="982.8" y="374.8" width="1.1" height="1.1" fill="#f0cb32" opacity="0.45"/>
<rect x="1007.0" y="383.0" width="1.1" height="1.1" fill="#e78a2c" opacity="0.45"/>
<rect x="1021.6" y="373.5" width="1.1" height="1.1" fill="#e5842c" opacity="0.45"/>
<rect x="1015.8" y="366.9" width="1.1" height="1.1" fill="#ecaa2f" opacity="0.45"/>
<rect x="1042.7" y="376.3" width="1.1" height="1.1" fill="#e78a2c" opacity="0.45"/>
</g>
<rect x="848.80" y="269.10" width="342.40" height="207.10" fill="none" stroke="#1a1a1a" stroke-width="1.6"/>
<line x1="840.30" y1="307.70" x2="848.50" y2="307.70" stroke="#1a1a1a" stroke-width="1.5" />
<text x="817.86" y="318.00" font-size="28.5" text-anchor="start" fill="#111" >5</text>
<line x1="840.30" y1="372.70" x2="848.50" y2="372.70" stroke="#1a1a1a" stroke-width="1.5" />
<text x="817.84" y="383.00" font-size="28.5" text-anchor="start" fill="#111" >0</text>
<line x1="840.30" y1="437.60" x2="848.50" y2="437.60" stroke="#1a1a1a" stroke-width="1.5" />
<text x="801.79" y="447.90" font-size="28.5" text-anchor="start" fill="#111" >−5</text>
<line x1="848.50" y1="476.50" x2="848.50" y2="483.80" stroke="#1a1a1a" stroke-width="1.5" />
<text x="830.60" y="512.50" font-size="28.5" text-anchor="start" fill="#111" >2.0</text>
<line x1="934.00" y1="476.50" x2="934.00" y2="483.80" stroke="#1a1a1a" stroke-width="1.5" />
<text x="916.12" y="512.50" font-size="28.5" text-anchor="start" fill="#111" >2.5</text>
<line x1="1019.50" y1="476.50" x2="1019.50" y2="483.80" stroke="#1a1a1a" stroke-width="1.5" />
<text x="1001.55" y="512.50" font-size="28.5" text-anchor="start" fill="#111" >3.0</text>
<line x1="1105.00" y1="476.50" x2="1105.00" y2="483.80" stroke="#1a1a1a" stroke-width="1.5" />
<text x="1087.06" y="512.50" font-size="28.5" text-anchor="start" fill="#111" >3.5</text>
<line x1="1190.50" y1="476.50" x2="1190.50" y2="483.80" stroke="#1a1a1a" stroke-width="1.5" />
<text x="1172.95" y="512.50" font-size="28.5" text-anchor="start" fill="#111" >4.0</text>
<text x="939.53" y="547.20" font-size="28" text-anchor="start" fill="#111" >Energy (GeV)</text>
<rect x="1202.8" y="268.3" width="27.2" height="208.7" fill="url(#jet)"/>
<rect x="1203.55" y="269.05" width="25.70" height="207.20" fill="none" stroke="#1a1a1a" stroke-width="1.5"/>
<line x1="1229.50" y1="269.00" x2="1237.70" y2="269.00" stroke="#1a1a1a" stroke-width="1.5" />
<text x="1245.34" y="279.30" font-size="28.5" text-anchor="start" fill="#111" >3</text>
<line x1="1229.50" y1="338.20" x2="1237.70" y2="338.20" stroke="#1a1a1a" stroke-width="1.5" />
<text x="1245.45" y="348.50" font-size="28.5" text-anchor="start" fill="#111" >2</text>
<line x1="1229.50" y1="407.40" x2="1237.70" y2="407.40" stroke="#1a1a1a" stroke-width="1.5" />
<text x="1244.20" y="417.70" font-size="28.5" text-anchor="start" fill="#111" >1</text>
<line x1="1229.50" y1="476.60" x2="1237.70" y2="476.60" stroke="#1a1a1a" stroke-width="1.5" />
<text x="1245.61" y="486.90" font-size="28.5" text-anchor="start" fill="#111" >0</text>
<text x="1289.50" y="452.45" font-size="28" text-anchor="start" fill="#111" transform="rotate(-90 1289.50 452.45)" >pC/mard/GeV</text>
<rect x="96.70" y="574.60" width="496.20" height="360.80" fill="none" stroke="#222" stroke-width="1.6"/>
<line x1="97.00" y1="574.10" x2="102.00" y2="574.10" stroke="#1a1a1a" stroke-width="1.1" />
<line x1="592.50" y1="574.10" x2="587.50" y2="574.10" stroke="#1a1a1a" stroke-width="1.1" />
<text x="55.61" y="584.30" font-size="28.5" text-anchor="start" fill="#111" >15</text>
<line x1="97.00" y1="694.60" x2="102.00" y2="694.60" stroke="#1a1a1a" stroke-width="1.1" />
<line x1="592.50" y1="694.60" x2="587.50" y2="694.60" stroke="#1a1a1a" stroke-width="1.1" />
<text x="55.59" y="704.80" font-size="28.5" text-anchor="start" fill="#111" >10</text>
<line x1="97.00" y1="815.10" x2="102.00" y2="815.10" stroke="#1a1a1a" stroke-width="1.1" />
<line x1="592.50" y1="815.10" x2="587.50" y2="815.10" stroke="#1a1a1a" stroke-width="1.1" />
<text x="69.86" y="825.30" font-size="28.5" text-anchor="start" fill="#111" >5</text>
<line x1="97.00" y1="935.60" x2="102.00" y2="935.60" stroke="#1a1a1a" stroke-width="1.1" />
<line x1="592.50" y1="935.60" x2="587.50" y2="935.60" stroke="#1a1a1a" stroke-width="1.1" />
<text x="69.84" y="945.80" font-size="28.5" text-anchor="start" fill="#111" >0</text>
<line x1="146.20" y1="935.00" x2="146.20" y2="930.00" stroke="#1a1a1a" stroke-width="1.1" />
<line x1="146.20" y1="575.00" x2="146.20" y2="580.00" stroke="#1a1a1a" stroke-width="1.1" />
<text x="128.40" y="974.00" font-size="28.5" text-anchor="start" fill="#111" >0.5</text>
<line x1="194.60" y1="935.00" x2="194.60" y2="930.00" stroke="#1a1a1a" stroke-width="1.1" />
<line x1="194.60" y1="575.00" x2="194.60" y2="580.00" stroke="#1a1a1a" stroke-width="1.1" />
<text x="187.08" y="974.00" font-size="28.5" text-anchor="start" fill="#111" >1</text>
<line x1="344.30" y1="935.00" x2="344.30" y2="930.00" stroke="#1a1a1a" stroke-width="1.1" />
<line x1="344.30" y1="575.00" x2="344.30" y2="580.00" stroke="#1a1a1a" stroke-width="1.1" />
<text x="326.42" y="974.00" font-size="28.5" text-anchor="start" fill="#111" >2.5</text>
<line x1="414.00" y1="935.00" x2="414.00" y2="930.00" stroke="#1a1a1a" stroke-width="1.1" />
<line x1="414.00" y1="575.00" x2="414.00" y2="580.00" stroke="#1a1a1a" stroke-width="1.1" />
<text x="396.29" y="974.00" font-size="28.5" text-anchor="start" fill="#111" >3.2</text>
<line x1="494.00" y1="935.00" x2="494.00" y2="930.00" stroke="#1a1a1a" stroke-width="1.1" />
<line x1="494.00" y1="575.00" x2="494.00" y2="580.00" stroke="#1a1a1a" stroke-width="1.1" />
<text x="486.82" y="974.00" font-size="28.5" text-anchor="start" fill="#111" >4</text>
<path d="M98.8,935.0 L98.8,653.5 L100.0,700.0 L101.5,760.0 L103.0,786.0 L105.0,800.0 L106.6,806.0 L108.5,835.0 L111.3,855.7 L113.0,880.0 L114.5,890.0 L116.5,870.0 L118.2,855.0 L119.5,856.0 L121.0,880.0 L123.0,900.0 L125.5,905.9 L128.5,900.0 L131.0,890.0 L133.3,880.8 L135.0,872.0 L137.5,866.0 L139.6,868.2 L141.0,880.0 L142.5,905.0 L144.3,918.4 L147.0,916.0 L149.0,915.0 L151.0,925.0 L153.0,931.0 L155.2,932.5 L156.0,932.1 L157.6,931.4 L159.2,930.8 L160.8,931.5 L162.4,931.2 L164.0,931.4 L165.6,931.3 L167.2,931.2 L168.8,931.7 L170.4,931.6 L172.0,931.9 L173.6,931.8 L175.2,932.1 L176.8,931.7 L178.4,931.4 L180.0,931.4 L181.6,932.2 L183.2,931.5 L184.8,932.2 L186.4,932.2 L188.0,931.6 L189.6,932.5 L191.2,931.6 L192.8,932.7 L194.4,932.7 L196.0,932.0 L197.6,932.7 L199.2,932.8 L200.8,932.1 L202.4,932.8 L204.0,932.1 L205.6,933.1 L207.2,932.9 L208.8,933.3 L210.4,932.2 L212.0,932.5 L213.6,932.9 L215.2,932.9 L216.8,932.5 L218.4,933.3 L220.0,933.3 L221.6,932.7 L223.2,932.5 L224.8,933.2 L226.4,932.9 L228.0,933.3 L229.6,933.1 L231.2,933.0 L232.8,932.6 L234.4,932.7 L236.0,933.2 L237.6,933.5 L239.2,933.2 L240.8,933.6 L242.4,933.4 L244.0,933.8 L245.6,933.6 L247.2,933.2 L248.8,933.0 L250.4,933.0 L252.0,932.9 L253.6,933.9 L255.2,933.9 L256.8,933.8 L258.4,933.0 L260.0,933.7 L261.6,933.1 L263.2,934.0 L264.8,933.7 L266.4,933.8 L268.0,933.6 L269.6,933.4 L271.2,933.9 L272.8,934.1 L274.4,933.2 L276.0,933.4 L277.6,933.8 L279.2,933.7 L280.8,933.4 L282.4,933.4 L284.0,934.1 L285.6,933.2 L287.2,933.2 L288.8,933.7 L290.4,933.2 L292.0,934.0 L293.6,933.3 L295.2,934.0 L296.8,933.4 L298.4,934.0 L300.0,933.8 L301.6,933.9 L303.2,933.4 L304.8,933.4 L306.4,933.4 L308.0,933.7 L309.6,934.4 L311.2,933.7 L312.8,934.1 L314.4,934.6 L316.0,934.2 L317.6,934.5 L319.2,934.5 L320.8,935.5 L322.4,933.2 L324.0,935.5 L325.6,933.0 L327.2,932.4 L328.8,930.6 L330.4,929.2 L332.0,930.0 L333.6,928.5 L335.2,927.1 L336.8,922.7 L338.4,923.8 L340.0,924.7 L341.6,923.3 L343.2,922.6 L344.8,923.0 L346.4,920.9 L348.0,922.9 L349.6,922.7 L351.2,919.3 L352.8,920.6 L354.4,920.5 L356.0,919.0 L357.6,919.8 L359.2,921.0 L360.8,921.3 L362.4,919.3 L364.0,919.1 L365.6,922.3 L367.2,919.0 L368.8,916.7 L370.4,914.3 L372.0,911.2 L373.6,911.7 L375.2,909.9 L376.8,911.2 L378.4,910.0 L380.0,908.8 L381.6,911.1 L383.2,912.7 L384.8,910.7 L386.4,908.1 L388.0,906.9 L389.6,902.9 L391.2,902.2 L392.8,903.4 L394.4,904.3 L396.0,902.6 L397.6,907.0 L399.2,905.1 L400.8,902.6 L402.4,897.5 L404.0,898.0 L405.6,893.9 L407.2,894.4 L408.8,890.5 L410.4,891.6 L412.0,892.1 L413.6,896.2 L415.2,894.1 L416.8,897.0 L418.4,895.8 L420.0,894.6 L421.6,898.6 L423.2,900.1 L424.8,899.7 L426.4,904.1 L428.0,903.1 L429.6,903.3 L431.2,907.5 L432.8,906.9 L434.4,903.5 L436.0,900.7 L437.6,901.4 L439.2,901.0 L440.8,900.7 L442.4,899.2 L444.0,901.3 L445.6,905.1 L447.2,906.0 L448.8,908.0 L450.4,911.3 L452.0,914.4 L453.6,916.7 L455.2,917.1 L456.8,915.1 L458.4,915.9 L460.0,913.1 L461.6,913.9 L463.2,912.4 L464.8,916.4 L466.4,917.9 L468.0,917.5 L469.6,918.8 L471.2,917.8 L472.8,919.9 L474.4,917.5 L476.0,919.1 L477.6,919.5 L479.2,922.0 L480.8,919.6 L482.4,918.9 L484.0,917.9 L485.6,920.1 L487.2,917.4 L488.8,920.4 L490.4,918.8 L492.0,921.7 L493.6,919.8 L495.2,923.4 L496.8,924.4 L498.4,924.8 L500.0,924.8 L501.6,926.0 L503.2,926.5 L504.8,927.1 L506.4,924.7 L508.0,927.4 L509.6,927.9 L511.2,927.0 L512.8,927.1 L514.4,930.4 L516.0,928.0 L517.6,927.6 L519.2,928.3 L520.8,926.0 L522.4,925.8 L524.0,928.5 L525.6,928.8 L527.2,928.6 L528.8,930.9 L530.4,932.0 L532.0,929.7 L533.6,932.2 L535.2,932.2 L536.8,931.6 L538.4,930.5 L540.0,932.7 L541.6,930.9 L543.2,930.5 L544.8,932.7 L546.4,930.2" fill="none" stroke="#3f6fb7" stroke-width="8.6" stroke-linejoin="round" stroke-linecap="round" />
<text x="260.63" y="1013.10" font-size="30.8" text-anchor="start" fill="#111" >Energy(GeV)</text>
<text x="40.00" y="861.44" font-size="31.5" text-anchor="start" fill="#111" transform="rotate(-90 40.00 861.44)" >dQ/dE(pC/GeV)</text>
<text x="113.80" y="620.00" font-size="37.5" text-anchor="start" fill="#111" font-weight="bold" >(c)</text>
<g clip-path="url(#clipD)">
<path d="M675.0,929.8 L940.0,929.5 L960.0,928.1 L975.0,922.8 L975.5,922.9 L976.1,923.0 L976.6,923.1 L977.2,923.3 L977.7,923.4 L978.3,923.6 L978.8,923.1 L979.4,922.6 L979.9,922.0 L980.5,921.3 L981.0,920.7 L981.6,920.0 L982.1,920.1 L982.7,920.2 L983.2,920.3 L983.8,920.4 L984.3,920.5 L984.9,920.7 L985.4,920.0 L986.0,919.3 L986.5,918.6 L987.1,917.8 L987.6,917.1 L988.2,916.3 L988.7,916.5 L989.3,916.7 L989.8,916.9 L990.4,917.1 L990.9,917.3 L991.5,917.4 L992.0,916.5 L992.6,915.6 L993.1,914.7 L993.7,913.7 L994.2,912.7 L994.8,911.6 L995.3,911.8 L995.9,912.0 L996.4,912.3 L997.0,912.5 L997.5,912.8 L998.1,913.1 L998.6,912.0 L999.2,910.9 L999.7,909.8 L1000.3,908.6 L1000.8,907.4 L1001.4,906.2 L1001.9,906.5 L1002.5,906.8 L1003.0,907.2 L1003.6,907.5 L1004.1,907.9 L1004.7,908.3 L1005.2,907.1 L1005.8,905.9 L1006.3,904.2 L1006.9,902.6 L1007.4,900.9 L1008.0,899.2 L1008.5,899.2 L1009.1,899.4 L1009.6,899.5 L1010.2,899.7 L1010.7,899.9 L1011.3,900.1 L1011.8,898.3 L1012.4,896.6 L1012.9,894.8 L1013.5,893.0 L1014.0,890.8 L1014.6,888.7 L1015.1,888.6 L1015.7,888.6 L1016.2,888.6 L1016.8,888.6 L1017.3,888.6 L1017.9,888.7 L1018.4,886.5 L1019.0,884.3 L1019.5,882.1 L1020.1,879.8 L1020.6,877.5 L1021.2,875.1 L1021.7,875.2 L1022.3,875.3 L1022.8,875.5 L1023.4,875.7 L1023.9,876.0 L1024.5,876.4 L1025.0,873.9 L1025.6,871.4 L1026.1,868.8 L1026.7,866.1 L1027.2,863.4 L1027.8,860.6 L1028.3,861.1 L1028.9,861.5 L1029.4,862.4 L1030.0,863.4 L1030.5,864.8 L1031.1,866.3 L1031.6,863.6 L1032.2,860.7 L1032.7,857.6 L1033.3,854.3 L1033.8,850.7 L1034.4,846.9 L1034.9,848.6 L1035.5,850.6 L1036.0,852.9 L1036.6,855.3 L1037.1,857.9 L1037.7,860.2 L1038.2,855.7 L1038.8,851.3 L1039.3,846.8 L1039.9,842.3 L1040.4,837.8 L1041.0,833.2 L1041.5,835.5 L1042.1,837.8 L1042.6,840.2 L1043.2,842.6 L1043.7,845.3 L1044.3,848.3 L1044.8,844.2 L1045.4,840.1 L1045.9,836.1 L1046.5,831.9 L1047.0,827.8 L1047.6,823.6 L1048.1,826.6 L1048.7,829.7 L1049.2,832.7 L1049.8,835.9 L1050.3,838.9 L1050.9,842.0 L1051.4,837.6 L1052.0,833.0 L1052.5,828.4 L1053.1,823.6 L1053.6,818.8 L1054.2,813.8 L1054.7,817.0 L1055.3,820.3 L1055.8,823.7 L1056.4,827.3 L1056.9,830.9 L1057.5,834.7 L1058.0,829.6 L1058.6,824.4 L1059.1,819.1 L1059.7,813.7 L1060.2,808.3 L1060.8,803.0 L1061.3,806.9 L1061.9,810.7 L1062.4,814.6 L1063.0,819.0 L1063.5,823.5 L1064.1,827.9 L1064.6,823.4 L1065.2,818.9 L1065.7,814.4 L1066.3,810.0 L1066.8,805.6 L1067.4,801.3 L1067.9,805.6 L1068.5,810.1 L1069.0,814.1 L1069.6,817.8 L1070.1,821.2 L1070.7,824.3 L1071.2,820.1 L1071.8,816.3 L1072.3,812.8 L1072.9,809.5 L1073.4,806.4 L1074.0,803.3 L1074.5,806.1 L1075.1,808.9 L1075.6,811.7 L1076.2,814.5 L1076.7,817.2 L1077.3,819.9 L1077.8,816.8 L1078.4,813.7 L1078.9,810.7 L1079.5,807.7 L1080.0,804.7 L1080.6,801.8 L1081.1,804.4 L1081.7,807.0 L1082.2,809.6 L1082.8,812.1 L1083.3,814.6 L1083.9,817.1 L1084.4,814.1 L1085.0,811.0 L1085.5,808.0 L1086.1,805.1 L1086.6,802.3 L1087.2,799.6 L1087.7,801.8 L1088.3,803.8 L1088.8,805.8 L1089.4,807.6 L1089.9,809.3 L1090.0,810.2 L1090.5,811.3 L1091.0,807.5 L1091.5,804.1 L1092.0,800.9 L1092.5,800.4 L1093.0,797.7 L1093.5,796.6 L1094.0,794.7 L1094.5,796.4 L1095.0,795.3 L1095.5,796.8 L1096.0,795.9 L1096.5,794.4 L1097.0,794.1 L1097.5,792.7 L1098.0,789.2 L1098.5,788.0 L1099.0,786.8 L1099.5,783.4 L1100.0,783.2 L1100.5,781.3 L1101.0,781.4 L1101.5,779.6 L1102.0,778.5 L1102.5,780.1 L1103.0,779.7 L1103.5,778.3 L1104.0,776.0 L1104.5,774.3 L1105.0,773.3 L1105.5,770.2 L1106.0,769.9 L1106.5,766.8 L1107.0,763.6 L1107.5,764.0 L1108.0,762.3 L1108.5,763.0 L1109.0,762.1 L1109.5,760.1 L1110.0,759.5 L1110.5,758.3 L1111.0,756.5 L1111.5,754.9 L1112.0,750.1 L1112.5,749.1 L1113.0,747.9 L1113.5,745.2 L1114.0,745.0 L1114.5,742.9 L1115.0,744.4 L1115.5,742.7 L1116.0,740.9 L1116.5,741.4 L1117.0,738.8 L1117.5,735.8 L1118.0,733.9 L1118.5,730.2 L1119.0,727.8 L1119.5,726.9 L1120.0,723.8 L1120.5,719.9 L1121.0,720.5 L1121.5,716.9 L1122.0,716.2 L1122.5,716.3 L1123.0,714.0 L1123.5,711.6 L1124.0,709.2 L1124.5,706.7 L1125.0,703.3 L1125.5,703.2 L1126.0,697.9 L1126.5,696.4 L1127.0,695.1 L1127.5,692.5 L1128.0,692.3 L1128.5,688.2 L1129.0,688.3 L1129.5,686.0 L1130.0,683.3 L1130.5,681.1 L1131.0,676.7 L1131.5,674.7 L1132.0,671.6 L1132.5,667.9 L1133.0,664.8 L1133.5,662.7 L1134.0,660.0 L1134.5,657.2 L1135.0,657.1 L1135.5,654.1 L1136.0,653.2 L1136.5,652.5 L1137.0,648.7 L1137.5,645.8 L1138.0,643.5 L1138.5,642.3 L1139.0,639.2 L1139.5,636.5 L1140.0,635.0 L1140.5,635.3 L1141.0,632.4 L1141.5,631.8 L1142.0,632.1 L1142.5,630.3 L1143.0,628.4 L1143.5,628.2 L1144.0,627.3 L1144.5,625.5 L1145.0,625.3 L1145.5,624.3 L1146.0,624.9 L1146.5,623.2 L1147.0,624.7 L1147.5,626.3 L1148.0,626.9 L1148.5,626.1 L1149.0,628.3 L1149.5,630.5 L1150.0,634.3 L1150.5,637.3 L1151.0,641.0 L1151.5,644.9 L1152.0,646.7 L1152.5,649.5 L1153.0,654.3 L1153.5,657.3 L1154.0,662.7 L1154.5,671.4 L1155.0,676.5 L1155.5,685.2 L1156.0,691.2 L1156.5,699.7 L1157.0,706.1 L1157.5,711.9 L1158.0,720.5 L1158.5,730.8 L1159.0,735.6 L1159.5,738.7 L1160.0,743.3 L1160.5,747.5 L1161.0,750.7 L1161.5,754.8 L1162.0,757.8 L1162.5,762.6 L1163.0,763.9 L1163.5,766.1 L1164.0,766.7 L1164.5,766.1 L1165.0,768.2 L1165.5,767.4 L1166.0,768.2 L1166.5,770.6 L1167.0,771.5 L1167.5,774.1 L1168.0,774.7 L1168.5,776.6 L1169.0,776.8 L1169.5,780.8 L1170.0,780.4 L1170.5,783.4 L1171.0,785.8 L1171.5,787.3 L1172.0,788.8 L1172.5,790.5 L1173.0,794.4 L1173.5,797.9 L1174.0,799.3 L1174.5,804.8 L1175.0,807.9 L1175.5,809.8 L1176.0,814.0 L1176.5,816.0 L1177.0,818.4 L1177.5,822.6 L1178.0,823.7 L1178.5,828.7 L1179.0,832.1 L1179.5,833.1 L1180.0,837.9 L1180.5,838.6 L1181.0,843.7 L1181.5,845.1 L1182.0,850.1 L1182.5,851.6 L1183.0,856.0 L1183.5,856.5 L1184.0,859.9 L1184.5,865.2 L1185.0,867.9 L1185.5,870.9 L1186.0,872.8 L1186.5,876.4 L1187.0,880.2 L1187.5,882.4 L1188.0,887.3 L1188.5,888.9 L1189.0,891.7 L1189.5,893.3 L1190.0,894.5 L1190.5,896.0 L1191.0,900.1 L1191.5,900.1 L1192.0,902.6 L1192.5,903.7 L1193.0,905.1 L1193.5,905.3 L1194.0,906.6 L1194.5,909.2 L1195.0,909.1 L1195.5,911.8 L1196.0,912.1 L1196.5,913.8 L1197.0,914.7 L1197.5,916.5 L1198.0,916.7 L1198.5,916.8 L1199.0,917.4 L1199.5,919.0 L1200.0,920.6 L1204.6,925.3 L1214.1,929.1 L1279.0,929.8" fill="none" stroke="#4777bd" stroke-width="3.3" stroke-linejoin="round" stroke-linecap="round" />
<path d="M960.0,929.8 L988.6,929.0 L1000.0,928.5 L1000.5,927.2 L1000.9,928.3 L1001.4,926.8 L1001.8,928.1 L1002.3,926.9 L1002.7,928.7 L1003.2,927.1 L1003.6,928.3 L1004.1,926.6 L1004.5,927.9 L1005.0,926.7 L1005.4,928.3 L1005.9,926.5 L1006.3,928.3 L1006.8,926.7 L1007.2,927.8 L1007.7,926.6 L1008.1,928.0 L1008.6,925.8 L1009.0,928.0 L1009.5,925.8 L1009.9,927.8 L1010.4,925.7 L1010.8,927.4 L1011.3,926.0 L1011.7,927.9 L1012.2,925.5 L1012.6,927.6 L1013.1,926.0 L1013.5,927.4 L1014.0,925.8 L1014.4,927.3 L1014.9,925.0 L1015.3,927.2 L1015.8,924.8 L1016.2,927.8 L1016.7,925.6 L1017.1,927.2 L1017.6,925.0 L1018.0,926.7 L1018.5,924.9 L1018.9,927.5 L1019.4,925.0 L1019.8,927.0 L1020.3,924.8 L1020.7,926.9 L1021.2,923.7 L1021.6,926.2 L1022.1,924.6 L1022.5,925.9 L1023.0,923.7 L1023.4,925.7 L1023.9,924.1 L1024.3,926.1 L1024.8,922.8 L1025.2,925.9 L1025.7,923.3 L1026.1,926.0 L1026.6,923.5 L1027.0,925.8 L1027.5,923.2 L1027.9,925.7 L1028.4,921.9 L1028.8,924.7 L1029.3,922.3 L1029.7,925.4 L1030.2,922.7 L1030.6,924.7 L1031.1,921.2 L1031.5,925.6 L1032.0,922.3 L1032.4,925.1 L1032.9,920.9 L1033.3,924.2 L1033.8,921.2 L1034.2,923.7 L1034.7,921.3 L1035.1,924.6 L1035.6,920.8 L1036.0,924.6 L1036.5,921.4 L1036.9,923.6 L1037.4,919.8 L1037.8,923.7 L1038.3,920.1 L1038.7,923.2 L1039.2,918.9 L1039.6,923.1 L1040.1,920.2 L1040.5,923.2 L1041.0,919.3 L1041.4,922.3 L1041.9,919.2 L1042.3,922.0 L1042.8,918.7 L1043.2,921.1 L1043.7,917.8 L1044.1,920.8 L1044.6,917.2 L1045.0,920.4 L1045.5,916.8 L1045.9,921.5 L1046.4,917.0 L1046.8,921.1 L1047.3,917.1 L1047.7,920.8 L1048.2,916.5 L1048.6,919.6 L1049.1,915.1 L1049.5,919.6 L1050.0,915.9 L1050.4,920.2 L1050.9,915.6 L1051.3,919.5 L1051.8,915.6 L1052.2,919.6 L1052.7,915.1 L1053.1,917.7 L1053.6,913.4 L1054.0,917.7 L1054.5,913.1 L1054.9,919.0 L1055.4,913.4 L1055.8,916.7 L1056.3,914.1 L1056.7,916.7 L1057.2,913.0 L1057.6,917.1 L1058.1,911.3 L1058.5,916.1 L1059.0,912.5 L1059.4,916.1 L1059.9,912.1 L1060.3,914.7 L1060.8,910.7 L1061.2,915.6 L1061.7,911.3 L1062.1,914.6 L1062.6,909.4 L1063.0,914.9 L1063.5,909.7 L1063.9,914.8 L1064.4,909.7 L1064.8,914.0 L1065.3,907.8 L1065.7,914.0 L1066.2,908.0 L1066.6,911.7 L1067.1,908.5 L1067.5,912.1 L1068.0,907.3 L1068.4,911.5 L1068.9,906.6 L1069.3,911.0 L1069.8,905.3 L1070.2,908.2 L1070.7,904.5 L1071.1,908.4 L1071.6,902.6 L1072.0,907.4 L1072.5,902.6 L1072.9,906.7 L1073.4,899.7 L1073.8,906.0 L1074.3,898.7 L1074.7,903.8 L1075.2,897.6 L1075.6,905.2 L1076.1,897.9 L1076.5,903.3 L1077.0,897.0 L1077.4,903.5 L1077.9,897.4 L1078.3,901.9 L1078.8,895.0 L1079.2,899.8 L1079.7,893.1 L1080.1,899.8 L1080.6,893.7 L1081.0,898.5 L1081.5,891.4 L1081.9,896.7 L1082.4,889.5 L1082.8,894.2 L1083.3,888.4 L1083.7,893.9 L1084.2,886.2 L1084.6,892.3 L1085.1,885.1 L1085.5,892.6 L1086.0,884.4 L1086.4,891.8 L1086.9,885.0 L1087.3,889.7 L1087.8,881.9 L1088.2,888.8 L1088.7,881.1 L1089.1,885.4 L1089.6,880.4 L1090.0,885.7 L1090.5,878.9 L1090.9,882.5 L1091.4,876.9 L1091.8,882.4 L1092.3,874.8 L1092.7,879.5 L1093.2,872.5 L1093.6,879.1 L1094.1,871.0 L1094.5,876.6 L1095.0,868.9 L1095.4,877.1 L1095.9,867.3 L1096.3,877.1 L1096.8,866.4 L1097.2,872.6 L1097.7,866.6 L1098.1,872.0 L1098.6,864.2 L1099.0,871.0 L1099.5,865.3 L1099.9,869.8 L1100.4,864.7 L1100.8,871.9 L1101.3,860.7 L1101.7,869.0 L1102.2,860.6 L1102.6,868.5 L1103.1,860.5 L1103.5,867.3 L1104.0,859.2 L1104.4,865.9 L1104.9,859.6 L1105.3,866.1 L1105.8,859.0 L1106.2,865.0 L1106.7,855.2 L1107.1,862.5 L1107.6,857.5 L1108.0,864.6 L1108.5,856.7 L1108.9,861.6 L1109.4,852.7 L1109.8,861.9 L1110.3,853.8 L1110.7,858.5 L1111.2,852.3 L1111.6,858.2 L1112.1,848.9 L1112.5,859.6 L1113.0,847.7 L1113.4,858.1 L1113.9,845.8 L1114.3,856.8 L1114.8,844.5 L1115.2,855.9 L1115.7,846.6 L1116.1,852.0 L1116.6,844.7 L1117.0,852.0 L1117.5,842.4 L1117.9,849.7 L1118.4,839.6 L1118.8,848.6 L1119.3,840.7 L1119.7,846.5 L1120.2,838.1 L1120.6,846.4 L1121.1,836.1 L1121.5,844.1 L1122.0,836.2 L1122.4,842.4 L1122.9,834.0 L1123.3,839.9 L1123.8,831.5 L1124.2,838.4 L1124.7,829.3 L1125.1,838.8 L1125.6,830.1 L1126.0,837.1 L1126.5,827.6 L1126.9,834.3 L1127.4,824.2 L1127.8,833.4 L1128.3,820.8 L1128.7,831.0 L1129.2,821.3 L1129.6,827.9 L1130.1,818.5 L1130.5,824.9 L1131.0,818.4 L1131.4,827.7 L1131.9,817.9 L1132.3,828.0 L1132.8,819.0 L1133.2,829.7 L1133.7,823.0 L1134.1,831.5 L1134.6,823.2 L1135.0,831.6 L1135.5,825.0 L1135.9,830.1 L1136.4,821.2 L1136.8,829.4 L1137.3,823.5 L1137.7,829.0 L1138.2,822.9 L1138.6,830.9 L1139.1,818.2 L1139.5,829.2 L1140.0,819.8 L1140.4,829.3 L1140.9,818.4 L1141.3,825.2 L1141.8,817.1 L1142.2,826.5 L1142.7,819.7 L1143.1,827.2 L1143.6,820.1 L1144.0,827.5 L1144.5,820.1 L1144.9,831.3 L1145.4,821.2 L1145.8,830.2 L1146.3,825.1 L1146.7,834.7 L1147.2,830.5 L1147.6,842.7 L1148.1,834.3 L1148.5,847.3 L1149.0,838.6 L1149.4,849.2 L1149.9,845.6 L1150.3,854.4 L1150.8,848.1 L1151.2,858.0 L1151.7,854.0 L1152.1,864.4 L1152.6,858.5 L1153.0,868.3 L1153.5,862.0 L1153.9,873.3 L1154.4,867.9 L1154.8,874.4 L1155.3,869.1 L1155.7,880.0 L1156.2,875.4 L1156.6,881.9 L1157.1,878.9 L1157.5,887.1 L1158.0,880.5 L1158.4,889.8 L1158.9,886.7 L1159.3,895.0 L1159.8,889.7 L1160.2,899.1 L1160.7,891.5 L1161.1,902.9 L1161.6,896.1 L1162.0,905.0 L1162.5,901.8 L1162.9,908.8 L1163.4,902.7 L1163.8,909.2 L1164.3,903.7 L1164.7,912.2 L1165.2,905.6 L1165.6,913.5 L1166.1,906.2 L1166.5,912.8 L1167.0,909.5 L1167.4,916.4 L1167.9,910.1 L1168.3,918.1 L1168.8,913.2 L1169.2,918.5 L1169.7,913.1 L1170.1,920.0 L1170.6,915.1 L1171.0,921.7 L1171.5,917.0 L1171.9,920.3 L1172.4,916.4 L1172.8,922.2 L1173.3,918.6 L1173.7,923.3 L1174.2,919.2 L1174.6,922.6 L1175.1,920.0 L1175.5,923.1 L1176.0,920.6 L1176.4,925.2 L1176.9,921.4 L1177.3,926.2 L1177.8,922.9 L1178.2,925.5 L1178.7,923.5 L1179.1,926.8 L1179.6,924.3 L1180.0,927.6 L1180.5,924.6 L1180.9,928.1 L1181.4,925.0 L1181.8,929.0 L1182.3,925.4 L1182.7,928.3 L1183.2,926.3 L1183.6,929.3 L1184.1,926.5 L1184.5,928.6 L1185.0,926.7 L1185.4,928.6 L1185.9,926.5 L1186.3,929.1 L1186.8,927.5 L1187.2,929.5 L1187.7,927.3 L1188.1,929.0 L1188.6,927.5 L1189.0,929.6 L1189.5,927.9 L1189.9,929.0 L1195.0,929.5 L1279.0,929.8" fill="none" stroke="#8c68b4" stroke-width="3.4" stroke-linejoin="round" stroke-linecap="round" />
<path d="M940.0,929.6 L960.0,929.0 L979.1,926.2 L998.2,922.4 L1000.0,921.2 L1000.8,921.6 L1001.6,921.2 L1002.4,921.2 L1003.2,920.0 L1004.0,919.7 L1004.8,919.9 L1005.6,919.5 L1006.4,918.7 L1007.2,918.9 L1008.0,918.2 L1008.8,918.3 L1009.6,917.2 L1010.4,917.0 L1011.2,917.5 L1012.0,916.5 L1012.8,916.0 L1013.6,916.3 L1014.4,915.8 L1015.2,914.9 L1016.0,915.0 L1016.8,914.8 L1017.6,913.9 L1018.4,914.1 L1019.2,913.1 L1020.0,913.1 L1020.8,912.4 L1021.6,912.3 L1022.4,913.0 L1023.2,912.0 L1024.0,912.5 L1024.8,911.6 L1025.6,911.5 L1026.4,911.6 L1027.2,911.2 L1028.0,910.2 L1028.8,910.5 L1029.6,910.3 L1030.4,909.6 L1031.2,909.2 L1032.0,909.9 L1032.8,909.2 L1033.6,908.6 L1034.4,908.7 L1035.2,908.1 L1036.0,908.6 L1036.8,907.9 L1037.6,906.9 L1038.4,907.3 L1039.2,905.9 L1040.0,905.6 L1040.8,904.8 L1041.6,905.2 L1042.4,904.0 L1043.2,904.0 L1044.0,903.0 L1044.8,902.9 L1045.6,902.7 L1046.4,901.8 L1047.2,901.0 L1048.0,900.2 L1048.8,899.4 L1049.6,898.8 L1050.4,897.4 L1051.2,897.0 L1052.0,896.0 L1052.8,895.9 L1053.6,895.2 L1054.4,892.3 L1055.2,890.4 L1056.0,889.2 L1056.8,887.1 L1057.6,884.5 L1058.4,883.4 L1059.2,880.5 L1060.0,876.6 L1060.8,873.3 L1061.6,870.3 L1062.4,867.5 L1063.2,863.3 L1064.0,859.5 L1064.8,855.4 L1065.6,852.0 L1066.4,847.9 L1067.2,842.9 L1068.0,835.9 L1068.8,828.2 L1069.6,821.4 L1070.4,814.8 L1071.2,806.9 L1072.0,799.1 L1072.8,792.4 L1073.6,783.8 L1074.4,775.7 L1075.2,767.4 L1076.0,754.6 L1076.8,738.6 L1077.6,724.4 L1078.4,711.5 L1079.2,697.1 L1080.0,683.4 L1080.8,670.9 L1081.6,659.5 L1082.4,647.0 L1083.2,635.8 L1084.0,623.6 L1084.8,616.5 L1085.6,609.9 L1086.4,603.6 L1087.2,596.7 L1088.0,594.1 L1088.8,596.7 L1089.6,598.3 L1090.4,601.5 L1091.2,612.0 L1092.0,621.4 L1092.8,623.5 L1093.6,620.1 L1094.4,617.9 L1095.2,617.8 L1096.0,620.7 L1096.8,624.9 L1097.6,623.4 L1098.4,618.0 L1100.0,607.8 L1100.5,607.0 L1101.0,605.1 L1101.5,603.7 L1102.0,599.7 L1102.5,601.0 L1103.0,606.8 L1103.5,613.1 L1104.0,620.7 L1104.5,622.1 L1105.0,626.6 L1105.5,628.9 L1106.0,632.4 L1106.5,636.1 L1107.0,640.7 L1107.5,647.4 L1108.0,652.9 L1108.5,661.1 L1109.0,668.1 L1109.5,677.9 L1110.0,686.3 L1110.5,700.0 L1111.0,713.7 L1111.5,727.1 L1112.0,741.4 L1112.5,745.8 L1113.0,749.0 L1113.5,755.8 L1114.0,759.4 L1114.5,765.0 L1115.0,769.0 L1115.5,773.3 L1116.0,776.0 L1116.5,779.1 L1117.0,781.7 L1117.5,784.3 L1118.0,790.5 L1118.5,794.3 L1119.0,798.9 L1119.5,800.1 L1120.0,801.9 L1120.5,804.7 L1121.0,804.2 L1121.5,806.5 L1122.0,806.2 L1122.5,805.9 L1123.0,806.4 L1123.5,808.0 L1124.0,807.6 L1124.5,808.6 L1125.0,809.2 L1125.5,808.7 L1126.0,807.9 L1126.5,809.2 L1127.0,808.5 L1127.5,808.7 L1128.0,808.7 L1128.5,809.6 L1129.0,809.1 L1129.5,811.3 L1130.0,812.6 L1130.5,811.2 L1131.0,812.6 L1131.5,813.7 L1132.0,811.5 L1132.5,812.4 L1133.0,815.2 L1133.5,815.9 L1134.0,815.9 L1134.5,815.0 L1135.0,816.4 L1135.5,819.5 L1136.0,821.3 L1136.5,822.7 L1137.0,822.4 L1137.5,826.1 L1138.0,827.8 L1138.5,832.2 L1139.0,833.6 L1139.5,839.5 L1140.0,841.1 L1140.5,844.0 L1141.0,844.9 L1141.5,848.7 L1142.0,851.1 L1142.5,853.7 L1143.0,855.4 L1143.5,859.1 L1144.0,859.2 L1144.5,860.4 L1145.0,861.4 L1145.5,864.4 L1146.0,863.9 L1146.5,865.6 L1147.0,866.4 L1147.5,869.6 L1148.0,870.7 L1148.5,872.0 L1149.0,871.7 L1149.5,874.3 L1150.0,875.3 L1150.5,875.9 L1151.0,876.9 L1151.5,881.5 L1152.0,880.0 L1152.5,881.9 L1153.0,883.2 L1153.5,885.6 L1154.0,885.2 L1154.5,887.8 L1155.0,888.7 L1155.5,890.7 L1156.0,888.5 L1156.5,890.0 L1157.0,891.0 L1157.5,893.0 L1158.0,892.1 L1158.5,892.4 L1159.0,893.3 L1159.5,892.1 L1160.0,891.3 L1160.5,892.8 L1161.0,894.1 L1161.5,893.6 L1162.0,892.0 L1162.5,893.4 L1163.0,893.9 L1163.5,892.0 L1164.0,893.1 L1164.5,892.3 L1165.0,892.0 L1165.5,892.1 L1166.0,891.9 L1166.5,892.3 L1167.0,891.5 L1167.5,892.7 L1168.0,891.9 L1168.5,894.2 L1169.0,893.8 L1169.5,892.0 L1170.0,894.6 L1170.5,892.8 L1171.0,893.9 L1171.5,894.2 L1172.0,893.7 L1172.5,893.7 L1173.0,894.2 L1173.5,893.4 L1174.0,895.9 L1174.5,893.5 L1175.0,895.7 L1175.5,893.8 L1176.0,894.1 L1176.5,894.3 L1177.0,893.2 L1177.5,893.5 L1178.0,894.3 L1178.5,894.5 L1179.0,895.9 L1179.5,896.3 L1180.0,893.2 L1180.5,894.8 L1181.0,893.5 L1181.5,895.7 L1182.0,893.8 L1182.5,895.0 L1183.0,893.3 L1183.5,891.4 L1184.0,890.4 L1184.5,890.6 L1185.0,892.0 L1185.5,889.1 L1186.0,889.6 L1186.5,888.6 L1187.0,888.0 L1187.5,888.9 L1188.0,886.9 L1188.5,888.4 L1189.0,888.2 L1189.5,888.9 L1190.0,887.4 L1190.5,888.6 L1191.0,887.0 L1191.5,887.8 L1192.0,888.7 L1192.5,890.1 L1193.0,891.1 L1193.5,889.3 L1194.0,890.1 L1194.5,892.2 L1195.0,893.8 L1195.5,894.1 L1196.0,894.6 L1196.5,897.9 L1197.0,897.0 L1197.5,897.6 L1198.0,898.7 L1198.5,899.8 L1199.0,903.2 L1199.5,902.3 L1200.0,905.2 L1200.5,906.7 L1201.0,908.1 L1201.5,908.5 L1202.0,908.3 L1202.5,910.0 L1203.0,911.6 L1203.5,912.3 L1204.0,911.9 L1204.5,914.4 L1205.0,913.0 L1205.5,914.2 L1206.0,917.0 L1206.5,915.9 L1207.0,915.8 L1207.5,918.0 L1208.0,917.5 L1208.5,916.6 L1209.0,917.3 L1209.5,918.6 L1210.0,919.4 L1210.5,921.9 L1211.0,920.2 L1211.5,922.7 L1212.0,923.3 L1212.5,922.3 L1213.0,924.3 L1213.5,923.8 L1214.0,923.1 L1214.5,922.6 L1215.0,923.4 L1223.7,927.2 L1242.8,929.1 L1279.0,929.8" fill="none" stroke="#5ca44b" stroke-width="3.5" stroke-linejoin="round" stroke-linecap="round" />
<path d="M675.5,873.0 L676.0,872.1 L676.6,871.5 L677.2,870.7 L677.8,867.9 L678.4,867.8 L679.0,858.9 L679.6,848.5 L680.2,839.4 L680.8,844.5 L681.4,850.6 L682.0,856.7 L682.6,857.6 L683.2,844.2 L683.8,829.8 L684.4,827.0 L685.0,833.0 L685.6,837.5 L686.2,844.6 L686.8,848.2 L687.4,853.0 L688.0,842.5 L688.6,830.1 L689.2,820.7 L689.8,809.7 L690.4,818.4 L691.0,824.4 L691.6,832.9 L692.2,841.4 L692.8,848.6 L693.4,843.9 L694.0,833.6 L694.6,826.0 L695.2,815.2 L695.8,806.8 L696.4,800.7 L697.0,809.6 L697.6,817.0 L698.2,824.5 L698.8,829.7 L699.4,837.9 L700.0,844.5 L700.6,846.0 L701.2,837.6 L701.8,831.5 L702.4,822.6 L703.0,816.0 L703.6,808.8 L704.2,799.7 L704.8,805.5 L705.4,814.0 L706.0,820.5 L706.6,827.6 L707.2,834.9 L707.8,843.6 L708.4,847.6 L709.0,843.4 L709.6,838.2 L710.2,833.0 L710.8,826.9 L711.4,823.0 L712.0,818.5 L712.6,811.9 L713.2,806.8 L713.8,815.1 L714.4,821.3 L715.0,827.5 L715.6,833.8 L716.2,842.6 L716.8,842.2 L717.4,839.9 L718.0,836.8 L718.6,835.1 L719.2,832.8 L719.8,829.2 L720.4,826.0 L721.0,825.6 L721.6,822.8 L722.2,818.1 L722.8,816.8 L723.4,814.5 L724.0,814.9 L724.6,820.4 L725.2,825.6 L725.8,829.4 L726.4,833.6 L727.0,837.8 L727.6,842.6 L728.2,847.0 L728.8,851.6 L729.4,856.5 L730.0,853.5 L730.6,848.2 L731.2,844.3 L731.8,840.1 L732.4,835.3 L733.0,828.9 L733.6,826.5 L734.2,819.9 L734.8,817.0 L735.4,812.6 L736.0,810.9 L736.6,815.4 L737.2,819.7 L737.8,824.8 L738.4,831.2 L739.0,835.4 L739.6,841.1 L740.2,845.6 L740.8,850.4 L741.4,855.9 L742.0,854.4 L742.6,849.7 L743.2,845.4 L743.8,841.6 L744.4,837.7 L745.0,833.6 L745.6,829.3 L746.2,826.5 L746.8,822.0 L747.4,816.7 L748.0,812.8 L748.6,808.4 L749.2,804.8 L749.8,805.0 L750.4,812.7 L751.0,818.3 L751.6,824.0 L752.2,831.2 L752.8,835.9 L753.4,842.5 L754.0,841.3 L754.6,838.3 L755.2,836.4 L755.8,833.7 L756.4,833.2 L757.0,830.6 L757.6,827.4 L758.2,825.5 L758.8,824.0 L759.4,821.7 L760.0,823.5 L760.6,824.5 L761.2,827.2 L761.8,829.3 L762.4,831.2 L763.0,832.6 L763.6,836.7 L764.2,840.9 L764.8,845.1 L768.9,873.2 L774.0,881.8 L779.2,893.8 L784.3,914.4 L791.2,923.0 L801.5,925.5 L815.2,927.2 L822.0,914.4 L828.9,871.5 L834.0,811.5 L837.2,672.8 L839.1,633.7 L840.5,622.0 L844.0,624.9 L845.4,692.4 L847.0,774.6 L848.6,845.8 L851.2,897.2 L856.3,919.5 L866.6,927.2 L880.0,929.5 L900.0,929.8" fill="none" stroke="#a8519f" stroke-width="3.0" stroke-linejoin="round" stroke-linecap="round" />
<path d="M675.5,890.0 L676.5,900.0 L678.5,913.8 L680.9,870.2 L683.3,905.7 L684.9,865.3 L688.2,899.2 L690.6,857.2 L693.8,899.2 L697.0,845.9 L700.3,895.2 L704.3,839.5 L709.2,892.0 L713.2,842.7 L718.8,886.3 L723.7,854.8 L729.4,887.9 L736.6,866.9 L741.5,889.5 L746.0,860.0 L751.2,837.9 L755.5,862.0 L759.4,837.2 L762.0,811.5 L763.8,774.6 L767.7,737.4 L772.2,774.6 L775.5,751.0 L779.5,692.4 L782.4,633.7 L784.4,586.7 L786.3,623.9 L788.3,682.6 L790.2,731.6 L792.2,749.2 L794.1,754.1 L796.0,743.6 L796.6,737.2 L797.2,735.4 L797.8,728.9 L798.4,726.3 L799.0,718.8 L799.6,716.3 L800.2,709.8 L800.8,702.3 L801.4,694.6 L802.0,688.4 L802.6,686.6 L803.2,685.6 L803.8,682.3 L804.4,680.1 L805.0,677.9 L805.6,678.9 L806.2,685.6 L806.8,692.1 L807.4,690.3 L808.0,690.6 L808.6,687.9 L809.2,685.5 L809.8,684.5 L810.4,686.7 L811.0,688.1 L811.6,691.8 L812.2,690.7 L812.8,689.2 L813.4,688.2 L814.0,685.4 L814.6,682.7 L815.2,680.5 L815.8,677.2 L816.4,672.1 L817.0,671.4 L817.6,667.6 L818.2,666.7 L818.8,665.7 L819.4,666.6 L820.0,664.3 L820.6,662.5 L821.2,659.4 L821.8,657.2 L822.4,654.5 L823.0,649.7 L823.6,653.1 L824.2,656.2 L824.8,659.0 L825.4,660.1 L826.0,659.3 L826.6,658.8 L827.2,659.1 L827.8,660.9 L828.4,667.1 L829.0,669.5 L829.6,673.2 L830.2,677.5 L830.8,685.5 L831.4,691.1 L832.0,699.8 L832.6,706.2 L833.2,715.3 L833.8,723.1 L834.3,731.6 L836.2,774.6 L839.2,828.6 L843.5,897.2 L847.8,923.0 L854.6,929.0 L870.0,929.8 L1279.0,929.8" fill="none" stroke="#000000" stroke-width="3.0" stroke-linejoin="round" stroke-linecap="round" />
<path d="M675.0,929.8 L708.8,929.8 L712.0,920.0 L715.6,904.0 L719.7,787.0 L722.0,850.0 L724.5,904.0 L727.7,909.5 L731.5,905.7 L733.0,896.0 L734.2,770.0 L735.2,687.0 L738.5,685.5 L740.5,770.0 L742.5,870.0 L744.5,929.3 L756.0,929.8 L757.7,901.5 L761.0,929.8 L782.6,929.8 L786.0,903.2 L790.3,929.8 L796.3,929.8 L799.7,913.5 L803.2,915.2 L806.6,929.8 L811.7,911.8 L815.2,929.8 L820.0,929.8 L824.6,913.5 L828.9,929.8 L834.0,912.7 L837.5,929.8 L844.3,905.8 L847.8,929.8 L1279.0,929.8" fill="none" stroke="#c52a2a" stroke-width="2.7" stroke-linejoin="round" stroke-linecap="round" />
</g>
<rect x="674.90" y="571.20" width="603.90" height="359.50" fill="none" stroke="#1c1c1c" stroke-width="1.7"/>
<line x1="667.70" y1="930.70" x2="675.00" y2="930.70" stroke="#1a1a1a" stroke-width="1.6" />
<text x="646.84" y="940.80" font-size="28.5" text-anchor="start" fill="#111" >0</text>
<line x1="667.70" y1="865.02" x2="675.00" y2="865.02" stroke="#1a1a1a" stroke-width="1.6" />
<text x="647.46" y="875.12" font-size="28.5" text-anchor="start" fill="#111" >1</text>
<line x1="667.70" y1="799.34" x2="675.00" y2="799.34" stroke="#1a1a1a" stroke-width="1.6" />
<text x="647.32" y="809.44" font-size="28.5" text-anchor="start" fill="#111" >2</text>
<line x1="667.70" y1="733.66" x2="675.00" y2="733.66" stroke="#1a1a1a" stroke-width="1.6" />
<text x="646.86" y="743.76" font-size="28.5" text-anchor="start" fill="#111" >3</text>
<line x1="667.70" y1="667.98" x2="675.00" y2="667.98" stroke="#1a1a1a" stroke-width="1.6" />
<text x="646.20" y="678.08" font-size="28.5" text-anchor="start" fill="#111" >4</text>
<line x1="667.70" y1="602.30" x2="675.00" y2="602.30" stroke="#1a1a1a" stroke-width="1.6" />
<text x="646.86" y="612.40" font-size="28.5" text-anchor="start" fill="#111" >5</text>
<line x1="674.90" y1="930.50" x2="674.90" y2="937.80" stroke="#1a1a1a" stroke-width="1.7" />
<text x="657.09" y="964.90" font-size="28.5" text-anchor="start" fill="#111" >0.0</text>
<line x1="750.39" y1="930.50" x2="750.39" y2="937.80" stroke="#1a1a1a" stroke-width="1.7" />
<text x="732.59" y="964.90" font-size="28.5" text-anchor="start" fill="#111" >0.5</text>
<line x1="825.88" y1="930.50" x2="825.88" y2="937.80" stroke="#1a1a1a" stroke-width="1.7" />
<text x="807.36" y="964.90" font-size="28.5" text-anchor="start" fill="#111" >1.0</text>
<line x1="901.37" y1="930.50" x2="901.37" y2="937.80" stroke="#1a1a1a" stroke-width="1.7" />
<text x="882.86" y="964.90" font-size="28.5" text-anchor="start" fill="#111" >1.5</text>
<line x1="976.86" y1="930.50" x2="976.86" y2="937.80" stroke="#1a1a1a" stroke-width="1.7" />
<text x="958.96" y="964.90" font-size="28.5" text-anchor="start" fill="#111" >2.0</text>
<line x1="1052.35" y1="930.50" x2="1052.35" y2="937.80" stroke="#1a1a1a" stroke-width="1.7" />
<text x="1034.47" y="964.90" font-size="28.5" text-anchor="start" fill="#111" >2.5</text>
<line x1="1127.84" y1="930.50" x2="1127.84" y2="937.80" stroke="#1a1a1a" stroke-width="1.7" />
<text x="1109.89" y="964.90" font-size="28.5" text-anchor="start" fill="#111" >3.0</text>
<line x1="1203.33" y1="930.50" x2="1203.33" y2="937.80" stroke="#1a1a1a" stroke-width="1.7" />
<text x="1185.39" y="964.90" font-size="28.5" text-anchor="start" fill="#111" >3.5</text>
<line x1="1278.82" y1="930.50" x2="1278.82" y2="937.80" stroke="#1a1a1a" stroke-width="1.7" />
<text x="1261.27" y="964.90" font-size="28.5" text-anchor="start" fill="#111" >4.0</text>
<text x="897.53" y="998.50" font-size="28" text-anchor="start" fill="#111" >Energy (GeV)</text>
<text x="633.50" y="854.17" font-size="29.5" text-anchor="start" fill="#111" transform="rotate(-90 633.50 854.17)" >dQ/dE (pC/GeV)</text>
<text x="691.10" y="617.20" font-size="38" text-anchor="start" fill="#111" >(d)</text>
<rect x="858.3" y="578.2" width="204.6" height="189.6" rx="4" ry="4" fill="#fff" fill-opacity="0.9" stroke="#d0d0d0" stroke-width="1.3"/>
<line x1="864.4" y1="593.4" x2="908" y2="593.4" stroke="#000000" stroke-width="2.6"/>
<text x="922.3" y="601" font-size="21" fill="#111">2 cm <tspan x="967" style="font-family:'Liberation Sans',sans-serif;font-style:italic" font-size="21.5">O</tspan><tspan dx="3" dy="-9" style="font-family:'Liberation Sans',sans-serif" font-size="14.5">+7</tspan></text>
<line x1="864.4" y1="626.1" x2="908" y2="626.1" stroke="#a8519f" stroke-width="2.6"/>
<text x="922.3" y="633.8" font-size="21" fill="#111">2 cm <tspan x="967" style="font-family:'Liberation Sans',sans-serif;font-style:italic" font-size="21.5">C</tspan><tspan dx="3" dy="-9" style="font-family:'Liberation Sans',sans-serif" font-size="14.5">+6</tspan><tspan dy="9"> (</tspan><tspan style="font-family:'Liberation Sans',sans-serif;font-style:italic" font-size="20">x</tspan><tspan style="font-family:'Liberation Sans',sans-serif" font-size="20">5</tspan>)</text>
<line x1="864.4" y1="659.2" x2="908" y2="659.2" stroke="#8c68b4" stroke-width="2.6"/>
<text x="922.3" y="666.7" font-size="21" fill="#111">6 cm <tspan x="967" style="font-family:'Liberation Sans',sans-serif;font-style:italic" font-size="21.5">O</tspan><tspan dx="3" dy="-9" style="font-family:'Liberation Sans',sans-serif" font-size="14.5">+8</tspan><tspan dy="9"> (</tspan><tspan style="font-family:'Liberation Sans',sans-serif;font-style:italic" font-size="20">x</tspan><tspan style="font-family:'Liberation Sans',sans-serif" font-size="20">10</tspan>)</text>
<line x1="864.4" y1="692" x2="908" y2="692" stroke="#5ca44b" stroke-width="2.6"/>
<text x="922.3" y="699.5" font-size="21" fill="#111">6 cm <tspan x="967" style="font-family:'Liberation Sans',sans-serif;font-style:italic" font-size="21.5">C</tspan><tspan dx="3" dy="-9" style="font-family:'Liberation Sans',sans-serif" font-size="14.5">+6</tspan><tspan dy="9"> (</tspan><tspan style="font-family:'Liberation Sans',sans-serif;font-style:italic" font-size="20">x</tspan><tspan style="font-family:'Liberation Sans',sans-serif" font-size="20">5</tspan>)</text>
<line x1="864.4" y1="720.8" x2="908" y2="720.8" stroke="#4777bd" stroke-width="2.6"/>
<text x="922.3" y="728.1" font-size="21" fill="#111">6 cm <tspan x="967" style="font-family:'Liberation Sans',sans-serif;font-style:italic" font-size="21.5">O</tspan><tspan dx="3" dy="-9" style="font-family:'Liberation Sans',sans-serif" font-size="14.5">+7</tspan></text>
<line x1="864.4" y1="749.4" x2="908" y2="749.4" stroke="#c52a2a" stroke-width="2.6"/>
<text x="922.3" y="756.3" font-size="21" fill="#111">6 cm SI (<tspan style="font-family:'Liberation Sans',sans-serif;font-style:italic" font-size="20">x</tspan><tspan style="font-family:'Liberation Sans',sans-serif" font-size="20">0.02</tspan>)</text>
</svg></body></html>
